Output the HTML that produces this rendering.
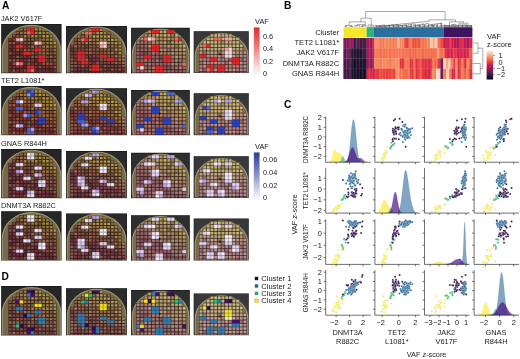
<!DOCTYPE html>
<html lang="en"><head><meta charset="utf-8"><title>Figure</title>
<style>html,body{margin:0;padding:0;background:#fff}svg{display:block}text{font-family:"Liberation Sans",Arial,sans-serif}</style>
</head><body>
<svg width="520" height="359" viewBox="0 0 520 359">
<rect width="520" height="359" fill="#fff"/>
<defs><linearGradient id="tg0_0" x1="0.95" y1="0" x2="0.25" y2="0.9"><stop offset="0" stop-color="#98843e"/><stop offset="0.3" stop-color="#98843e"/><stop offset="0.68" stop-color="#763236"/></linearGradient><linearGradient id="tg0_1" x1="0.8" y1="0" x2="0.3" y2="1"><stop offset="0" stop-color="#9e8c47"/><stop offset="0.3" stop-color="#9e8c47"/><stop offset="0.68" stop-color="#7f3f43"/></linearGradient><linearGradient id="tg0_2" x1="0.9" y1="0" x2="0.2" y2="0.9"><stop offset="0" stop-color="#b0a161"/><stop offset="0.3" stop-color="#b0a161"/><stop offset="0.68" stop-color="#986267"/></linearGradient><linearGradient id="tg0_3" x1="0.5" y1="0" x2="0.5" y2="1"><stop offset="0" stop-color="#c2b67b"/><stop offset="0.3" stop-color="#c2b67b"/><stop offset="0.68" stop-color="#b1858b"/></linearGradient><linearGradient id="tg1_0" x1="0.95" y1="0" x2="0.25" y2="0.9"><stop offset="0" stop-color="#a58832"/><stop offset="0.3" stop-color="#a58832"/><stop offset="0.68" stop-color="#803436"/></linearGradient><linearGradient id="tg1_1" x1="0.8" y1="0" x2="0.3" y2="1"><stop offset="0" stop-color="#aa8f3c"/><stop offset="0.3" stop-color="#aa8f3c"/><stop offset="0.68" stop-color="#884143"/></linearGradient><linearGradient id="tg1_2" x1="0.9" y1="0" x2="0.2" y2="0.9"><stop offset="0" stop-color="#b9a459"/><stop offset="0.3" stop-color="#b9a459"/><stop offset="0.68" stop-color="#9f6367"/></linearGradient><linearGradient id="tg1_3" x1="0.5" y1="0" x2="0.5" y2="1"><stop offset="0" stop-color="#c8b876"/><stop offset="0.3" stop-color="#c8b876"/><stop offset="0.68" stop-color="#b6868b"/></linearGradient><linearGradient id="tg2_0" x1="0.95" y1="0" x2="0.25" y2="0.9"><stop offset="0" stop-color="#988038"/><stop offset="0.3" stop-color="#988038"/><stop offset="0.68" stop-color="#743242"/></linearGradient><linearGradient id="tg2_1" x1="0.8" y1="0" x2="0.3" y2="1"><stop offset="0" stop-color="#9e8842"/><stop offset="0.3" stop-color="#9e8842"/><stop offset="0.68" stop-color="#7d3f4e"/></linearGradient><linearGradient id="tg2_2" x1="0.9" y1="0" x2="0.2" y2="0.9"><stop offset="0" stop-color="#b09e5d"/><stop offset="0.3" stop-color="#b09e5d"/><stop offset="0.68" stop-color="#976270"/></linearGradient><linearGradient id="tg2_3" x1="0.5" y1="0" x2="0.5" y2="1"><stop offset="0" stop-color="#c2b478"/><stop offset="0.3" stop-color="#c2b478"/><stop offset="0.68" stop-color="#b08591"/></linearGradient><linearGradient id="tg3_0" x1="0.95" y1="0" x2="0.25" y2="0.9"><stop offset="0" stop-color="#927a38"/><stop offset="0.3" stop-color="#927a38"/><stop offset="0.68" stop-color="#703040"/></linearGradient><linearGradient id="tg3_1" x1="0.8" y1="0" x2="0.3" y2="1"><stop offset="0" stop-color="#998242"/><stop offset="0.3" stop-color="#998242"/><stop offset="0.68" stop-color="#7a3d4c"/></linearGradient><linearGradient id="tg3_2" x1="0.9" y1="0" x2="0.2" y2="0.9"><stop offset="0" stop-color="#ac9a5d"/><stop offset="0.3" stop-color="#ac9a5d"/><stop offset="0.68" stop-color="#94616e"/></linearGradient><linearGradient id="tg3_3" x1="0.5" y1="0" x2="0.5" y2="1"><stop offset="0" stop-color="#bfb178"/><stop offset="0.3" stop-color="#bfb178"/><stop offset="0.68" stop-color="#ae8490"/></linearGradient><linearGradient id="tg4_0" x1="0.95" y1="0" x2="0.25" y2="0.9"><stop offset="0" stop-color="#a08a4e"/><stop offset="0.3" stop-color="#a08a4e"/><stop offset="0.68" stop-color="#7c4c4c"/></linearGradient><linearGradient id="tg4_1" x1="0.8" y1="0" x2="0.3" y2="1"><stop offset="0" stop-color="#a69156"/><stop offset="0.3" stop-color="#a69156"/><stop offset="0.68" stop-color="#855757"/></linearGradient><linearGradient id="tg4_2" x1="0.9" y1="0" x2="0.2" y2="0.9"><stop offset="0" stop-color="#b6a56d"/><stop offset="0.3" stop-color="#b6a56d"/><stop offset="0.68" stop-color="#9c7477"/></linearGradient><linearGradient id="tg4_3" x1="0.5" y1="0" x2="0.5" y2="1"><stop offset="0" stop-color="#c5b983"/><stop offset="0.3" stop-color="#c5b983"/><stop offset="0.68" stop-color="#b49296"/></linearGradient><linearGradient id="cap" x1="0" y1="0" x2="0" y2="1"><stop offset="0" stop-color="#746a44"/><stop offset="0.4" stop-color="#7c6a50"/><stop offset="0.65" stop-color="#9a7c72"/><stop offset="1" stop-color="#b4968e"/></linearGradient><filter id="bl" x="-5%" y="-5%" width="110%" height="110%"><feGaussianBlur stdDeviation="0.7"/></filter><linearGradient id="rim" x1="0" y1="0" x2="0" y2="1"><stop offset="0" stop-color="#9a9474"/><stop offset="0.5" stop-color="#aaa288"/><stop offset="1" stop-color="#c6beb2"/></linearGradient><clipPath id="fr0"><rect width="60.3" height="49.3"/></clipPath><clipPath id="gm0" clip-path="url(#fr0)"><rect x="18.33" y="3.74" width="22.32" height="3.46"/><rect x="14.61" y="7.18" width="33.48" height="3.46"/><rect x="10.89" y="10.62" width="40.92" height="3.46"/><rect x="7.17" y="14.06" width="44.64" height="3.46"/><rect x="7.17" y="17.5" width="48.36" height="3.46"/><rect x="7.17" y="20.94" width="48.36" height="3.46"/><rect x="7.17" y="24.38" width="48.36" height="3.46"/><rect x="7.17" y="27.82" width="48.36" height="3.46"/><rect x="7.17" y="31.26" width="48.36" height="3.46"/><rect x="7.17" y="34.7" width="48.36" height="3.46"/><rect x="7.17" y="38.14" width="48.36" height="3.46"/><rect x="7.17" y="41.58" width="48.36" height="3.46"/><rect x="7.17" y="45.02" width="48.36" height="3.46"/></clipPath><path id="gp0" d="M-0.27 -2V51.3M3.45 -2V51.3M7.17 -2V51.3M10.89 -2V51.3M14.61 -2V51.3M18.33 -2V51.3M22.05 -2V51.3M25.77 -2V51.3M29.49 -2V51.3M33.21 -2V51.3M36.93 -2V51.3M40.65 -2V51.3M44.37 -2V51.3M48.09 -2V51.3M51.81 -2V51.3M55.53 -2V51.3M59.25 -2V51.3M62.97 -2V51.3M-2 -3.14H62.3M-2 0.3H62.3M-2 3.74H62.3M-2 7.18H62.3M-2 10.62H62.3M-2 14.06H62.3M-2 17.5H62.3M-2 20.94H62.3M-2 24.38H62.3M-2 27.82H62.3M-2 31.26H62.3M-2 34.7H62.3M-2 38.14H62.3M-2 41.58H62.3M-2 45.02H62.3M-2 48.46H62.3M-2 51.9H62.3" stroke="#2a1a16" stroke-width="1.1" stroke-opacity="0.85" fill="none"/><g id="nz0"><rect x="25.77" y="3.74" width="3.72" height="3.44" fill="#c02828" fill-opacity="0.15"/><rect x="33.21" y="3.74" width="3.72" height="3.44" fill="#d8d060" fill-opacity="0.17"/><rect x="36.93" y="3.74" width="3.72" height="3.44" fill="#d8d060" fill-opacity="0.26"/><rect x="18.33" y="7.18" width="3.72" height="3.44" fill="#fff0d0" fill-opacity="0.16"/><rect x="22.05" y="7.18" width="3.72" height="3.44" fill="#fff0d0" fill-opacity="0.12"/><rect x="25.77" y="7.18" width="3.72" height="3.44" fill="#d8d060" fill-opacity="0.31"/><rect x="29.49" y="7.18" width="3.72" height="3.44" fill="#d8d060" fill-opacity="0.27"/><rect x="36.93" y="7.18" width="3.72" height="3.44" fill="#d8d060" fill-opacity="0.24"/><rect x="22.05" y="10.62" width="3.72" height="3.44" fill="#d8d060" fill-opacity="0.29"/><rect x="29.49" y="10.62" width="3.72" height="3.44" fill="#d8d060" fill-opacity="0.24"/><rect x="33.21" y="10.62" width="3.72" height="3.44" fill="#d8d060" fill-opacity="0.22"/><rect x="36.93" y="10.62" width="3.72" height="3.44" fill="#201010" fill-opacity="0.21"/><rect x="40.65" y="10.62" width="3.72" height="3.44" fill="#d8d060" fill-opacity="0.25"/><rect x="44.37" y="10.62" width="3.72" height="3.44" fill="#d8d060" fill-opacity="0.26"/><rect x="48.09" y="10.62" width="3.72" height="3.44" fill="#c02828" fill-opacity="0.12"/><rect x="22.05" y="14.06" width="3.72" height="3.44" fill="#fff0d0" fill-opacity="0.13"/><rect x="29.49" y="14.06" width="3.72" height="3.44" fill="#c02828" fill-opacity="0.09"/><rect x="33.21" y="14.06" width="3.72" height="3.44" fill="#201010" fill-opacity="0.14"/><rect x="48.09" y="14.06" width="3.72" height="3.44" fill="#fff0d0" fill-opacity="0.09"/><rect x="7.17" y="17.5" width="3.72" height="3.44" fill="#d8d060" fill-opacity="0.19"/><rect x="10.89" y="17.5" width="3.72" height="3.44" fill="#d8d060" fill-opacity="0.25"/><rect x="14.61" y="17.5" width="3.72" height="3.44" fill="#201010" fill-opacity="0.22"/><rect x="18.33" y="17.5" width="3.72" height="3.44" fill="#fff0d0" fill-opacity="0.12"/><rect x="33.21" y="17.5" width="3.72" height="3.44" fill="#201010" fill-opacity="0.23"/><rect x="48.09" y="17.5" width="3.72" height="3.44" fill="#fff0d0" fill-opacity="0.11"/><rect x="51.81" y="17.5" width="3.72" height="3.44" fill="#fff0d0" fill-opacity="0.19"/><rect x="14.61" y="20.94" width="3.72" height="3.44" fill="#d8d060" fill-opacity="0.24"/><rect x="25.77" y="20.94" width="3.72" height="3.44" fill="#c02828" fill-opacity="0.11"/><rect x="29.49" y="20.94" width="3.72" height="3.44" fill="#d8d060" fill-opacity="0.3"/><rect x="36.93" y="20.94" width="3.72" height="3.44" fill="#c02828" fill-opacity="0.09"/><rect x="40.65" y="20.94" width="3.72" height="3.44" fill="#fff0d0" fill-opacity="0.17"/><rect x="44.37" y="20.94" width="3.72" height="3.44" fill="#d8d060" fill-opacity="0.26"/><rect x="51.81" y="20.94" width="3.72" height="3.44" fill="#d8d060" fill-opacity="0.17"/><rect x="7.17" y="24.38" width="3.72" height="3.44" fill="#201010" fill-opacity="0.2"/><rect x="14.61" y="24.38" width="3.72" height="3.44" fill="#d8d060" fill-opacity="0.26"/><rect x="22.05" y="24.38" width="3.72" height="3.44" fill="#d8d060" fill-opacity="0.28"/><rect x="25.77" y="24.38" width="3.72" height="3.44" fill="#fff0d0" fill-opacity="0.1"/><rect x="40.65" y="24.38" width="3.72" height="3.44" fill="#fff0d0" fill-opacity="0.1"/><rect x="44.37" y="24.38" width="3.72" height="3.44" fill="#c02828" fill-opacity="0.21"/><rect x="48.09" y="24.38" width="3.72" height="3.44" fill="#201010" fill-opacity="0.24"/><rect x="7.17" y="27.82" width="3.72" height="3.44" fill="#d8d060" fill-opacity="0.19"/><rect x="22.05" y="27.82" width="3.72" height="3.44" fill="#d8d060" fill-opacity="0.27"/><rect x="29.49" y="27.82" width="3.72" height="3.44" fill="#d8d060" fill-opacity="0.27"/><rect x="36.93" y="27.82" width="3.72" height="3.44" fill="#d8d060" fill-opacity="0.21"/><rect x="40.65" y="27.82" width="3.72" height="3.44" fill="#d8d060" fill-opacity="0.27"/><rect x="44.37" y="27.82" width="3.72" height="3.44" fill="#fff0d0" fill-opacity="0.11"/><rect x="7.17" y="31.26" width="3.72" height="3.44" fill="#201010" fill-opacity="0.23"/><rect x="14.61" y="31.26" width="3.72" height="3.44" fill="#d8d060" fill-opacity="0.24"/><rect x="18.33" y="31.26" width="3.72" height="3.44" fill="#c02828" fill-opacity="0.11"/><rect x="25.77" y="31.26" width="3.72" height="3.44" fill="#201010" fill-opacity="0.11"/><rect x="29.49" y="31.26" width="3.72" height="3.44" fill="#d8d060" fill-opacity="0.26"/><rect x="33.21" y="31.26" width="3.72" height="3.44" fill="#d8d060" fill-opacity="0.17"/><rect x="36.93" y="31.26" width="3.72" height="3.44" fill="#d8d060" fill-opacity="0.18"/><rect x="40.65" y="31.26" width="3.72" height="3.44" fill="#c02828" fill-opacity="0.18"/><rect x="48.09" y="31.26" width="3.72" height="3.44" fill="#fff0d0" fill-opacity="0.1"/><rect x="51.81" y="31.26" width="3.72" height="3.44" fill="#201010" fill-opacity="0.13"/><rect x="7.17" y="34.7" width="3.72" height="3.44" fill="#d8d060" fill-opacity="0.21"/><rect x="10.89" y="34.7" width="3.72" height="3.44" fill="#d8d060" fill-opacity="0.21"/><rect x="14.61" y="34.7" width="3.72" height="3.44" fill="#fff0d0" fill-opacity="0.19"/><rect x="25.77" y="34.7" width="3.72" height="3.44" fill="#d8d060" fill-opacity="0.2"/><rect x="29.49" y="34.7" width="3.72" height="3.44" fill="#fff0d0" fill-opacity="0.1"/><rect x="33.21" y="34.7" width="3.72" height="3.44" fill="#201010" fill-opacity="0.15"/><rect x="36.93" y="34.7" width="3.72" height="3.44" fill="#201010" fill-opacity="0.15"/><rect x="40.65" y="34.7" width="3.72" height="3.44" fill="#fff0d0" fill-opacity="0.16"/><rect x="48.09" y="34.7" width="3.72" height="3.44" fill="#c02828" fill-opacity="0.08"/><rect x="51.81" y="34.7" width="3.72" height="3.44" fill="#fff0d0" fill-opacity="0.09"/><rect x="7.17" y="38.14" width="3.72" height="3.44" fill="#201010" fill-opacity="0.27"/><rect x="10.89" y="38.14" width="3.72" height="3.44" fill="#fff0d0" fill-opacity="0.17"/><rect x="14.61" y="38.14" width="3.72" height="3.44" fill="#201010" fill-opacity="0.13"/><rect x="22.05" y="38.14" width="3.72" height="3.44" fill="#201010" fill-opacity="0.22"/><rect x="25.77" y="38.14" width="3.72" height="3.44" fill="#fff0d0" fill-opacity="0.14"/><rect x="33.21" y="38.14" width="3.72" height="3.44" fill="#c02828" fill-opacity="0.24"/><rect x="40.65" y="38.14" width="3.72" height="3.44" fill="#d8d060" fill-opacity="0.24"/><rect x="44.37" y="38.14" width="3.72" height="3.44" fill="#d8d060" fill-opacity="0.22"/><rect x="48.09" y="38.14" width="3.72" height="3.44" fill="#fff0d0" fill-opacity="0.15"/><rect x="51.81" y="38.14" width="3.72" height="3.44" fill="#c02828" fill-opacity="0.13"/><rect x="22.05" y="41.58" width="3.72" height="3.44" fill="#201010" fill-opacity="0.26"/><rect x="25.77" y="41.58" width="3.72" height="3.44" fill="#fff0d0" fill-opacity="0.1"/><rect x="33.21" y="41.58" width="3.72" height="3.44" fill="#c02828" fill-opacity="0.11"/><rect x="36.93" y="41.58" width="3.72" height="3.44" fill="#fff0d0" fill-opacity="0.15"/><rect x="51.81" y="41.58" width="3.72" height="3.44" fill="#fff0d0" fill-opacity="0.16"/><rect x="10.89" y="45.02" width="3.72" height="3.44" fill="#fff0d0" fill-opacity="0.2"/><rect x="14.61" y="45.02" width="3.72" height="3.44" fill="#c02828" fill-opacity="0.23"/><rect x="18.33" y="45.02" width="3.72" height="3.44" fill="#c02828" fill-opacity="0.1"/><rect x="22.05" y="45.02" width="3.72" height="3.44" fill="#d8d060" fill-opacity="0.17"/><rect x="25.77" y="45.02" width="3.72" height="3.44" fill="#c02828" fill-opacity="0.2"/><rect x="33.21" y="45.02" width="3.72" height="3.44" fill="#201010" fill-opacity="0.17"/><rect x="48.09" y="45.02" width="3.72" height="3.44" fill="#201010" fill-opacity="0.24"/><rect x="51.81" y="45.02" width="3.72" height="3.44" fill="#c02828" fill-opacity="0.29"/></g><clipPath id="fr1"><rect width="60.95" height="47.1"/></clipPath><clipPath id="gm1" clip-path="url(#fr1)"><rect x="22.42" y="2.2" width="14.72" height="3.32"/><rect x="15.06" y="5.5" width="29.44" height="3.32"/><rect x="11.38" y="8.8" width="36.8" height="3.32"/><rect x="7.7" y="12.1" width="44.16" height="3.32"/><rect x="7.7" y="15.4" width="47.84" height="3.32"/><rect x="4.02" y="18.7" width="51.52" height="3.32"/><rect x="4.02" y="22" width="51.52" height="3.32"/><rect x="4.02" y="25.3" width="51.52" height="3.32"/><rect x="4.02" y="28.6" width="55.2" height="3.32"/><rect x="4.02" y="31.9" width="55.2" height="3.32"/><rect x="4.02" y="35.2" width="55.2" height="3.32"/><rect x="4.02" y="38.5" width="55.2" height="3.32"/><rect x="4.02" y="41.8" width="55.2" height="3.32"/><rect x="4.02" y="45.1" width="55.2" height="3.32"/></clipPath><path id="gp1" d="M-3.34 -2V49.1M0.34 -2V49.1M4.02 -2V49.1M7.7 -2V49.1M11.38 -2V49.1M15.06 -2V49.1M18.74 -2V49.1M22.42 -2V49.1M26.1 -2V49.1M29.78 -2V49.1M33.46 -2V49.1M37.14 -2V49.1M40.82 -2V49.1M44.5 -2V49.1M48.18 -2V49.1M51.86 -2V49.1M55.54 -2V49.1M59.22 -2V49.1M62.9 -2V49.1M-2 -1.1H62.95M-2 2.2H62.95M-2 5.5H62.95M-2 8.8H62.95M-2 12.1H62.95M-2 15.4H62.95M-2 18.7H62.95M-2 22H62.95M-2 25.3H62.95M-2 28.6H62.95M-2 31.9H62.95M-2 35.2H62.95M-2 38.5H62.95M-2 41.8H62.95M-2 45.1H62.95M-2 48.4H62.95" stroke="#2a1a16" stroke-width="1.05" stroke-opacity="0.85" fill="none"/><g id="nz1"><rect x="22.42" y="2.2" width="3.68" height="3.3" fill="#c02828" fill-opacity="0.13"/><rect x="26.1" y="2.2" width="3.68" height="3.3" fill="#fff0d0" fill-opacity="0.16"/><rect x="18.74" y="5.5" width="3.68" height="3.3" fill="#fff0d0" fill-opacity="0.09"/><rect x="26.1" y="5.5" width="3.68" height="3.3" fill="#201010" fill-opacity="0.27"/><rect x="29.78" y="5.5" width="3.68" height="3.3" fill="#d8d060" fill-opacity="0.19"/><rect x="33.46" y="5.5" width="3.68" height="3.3" fill="#fff0d0" fill-opacity="0.16"/><rect x="37.14" y="5.5" width="3.68" height="3.3" fill="#c02828" fill-opacity="0.08"/><rect x="40.82" y="5.5" width="3.68" height="3.3" fill="#201010" fill-opacity="0.25"/><rect x="15.06" y="8.8" width="3.68" height="3.3" fill="#201010" fill-opacity="0.18"/><rect x="22.42" y="8.8" width="3.68" height="3.3" fill="#c02828" fill-opacity="0.11"/><rect x="26.1" y="8.8" width="3.68" height="3.3" fill="#d8d060" fill-opacity="0.29"/><rect x="29.78" y="8.8" width="3.68" height="3.3" fill="#fff0d0" fill-opacity="0.17"/><rect x="37.14" y="8.8" width="3.68" height="3.3" fill="#d8d060" fill-opacity="0.31"/><rect x="40.82" y="8.8" width="3.68" height="3.3" fill="#d8d060" fill-opacity="0.34"/><rect x="44.5" y="8.8" width="3.68" height="3.3" fill="#201010" fill-opacity="0.15"/><rect x="7.7" y="12.1" width="3.68" height="3.3" fill="#201010" fill-opacity="0.18"/><rect x="15.06" y="12.1" width="3.68" height="3.3" fill="#201010" fill-opacity="0.23"/><rect x="18.74" y="12.1" width="3.68" height="3.3" fill="#d8d060" fill-opacity="0.23"/><rect x="22.42" y="12.1" width="3.68" height="3.3" fill="#d8d060" fill-opacity="0.26"/><rect x="26.1" y="12.1" width="3.68" height="3.3" fill="#c02828" fill-opacity="0.14"/><rect x="40.82" y="12.1" width="3.68" height="3.3" fill="#c02828" fill-opacity="0.17"/><rect x="44.5" y="12.1" width="3.68" height="3.3" fill="#fff0d0" fill-opacity="0.22"/><rect x="7.7" y="15.4" width="3.68" height="3.3" fill="#c02828" fill-opacity="0.15"/><rect x="15.06" y="15.4" width="3.68" height="3.3" fill="#c02828" fill-opacity="0.13"/><rect x="18.74" y="15.4" width="3.68" height="3.3" fill="#d8d060" fill-opacity="0.19"/><rect x="29.78" y="15.4" width="3.68" height="3.3" fill="#d8d060" fill-opacity="0.29"/><rect x="33.46" y="15.4" width="3.68" height="3.3" fill="#c02828" fill-opacity="0.09"/><rect x="37.14" y="15.4" width="3.68" height="3.3" fill="#fff0d0" fill-opacity="0.16"/><rect x="48.18" y="15.4" width="3.68" height="3.3" fill="#fff0d0" fill-opacity="0.14"/><rect x="51.86" y="15.4" width="3.68" height="3.3" fill="#c02828" fill-opacity="0.19"/><rect x="7.7" y="18.7" width="3.68" height="3.3" fill="#fff0d0" fill-opacity="0.22"/><rect x="18.74" y="18.7" width="3.68" height="3.3" fill="#201010" fill-opacity="0.27"/><rect x="26.1" y="18.7" width="3.68" height="3.3" fill="#c02828" fill-opacity="0.17"/><rect x="29.78" y="18.7" width="3.68" height="3.3" fill="#201010" fill-opacity="0.19"/><rect x="33.46" y="18.7" width="3.68" height="3.3" fill="#201010" fill-opacity="0.17"/><rect x="37.14" y="18.7" width="3.68" height="3.3" fill="#d8d060" fill-opacity="0.3"/><rect x="40.82" y="18.7" width="3.68" height="3.3" fill="#201010" fill-opacity="0.24"/><rect x="44.5" y="18.7" width="3.68" height="3.3" fill="#c02828" fill-opacity="0.18"/><rect x="48.18" y="18.7" width="3.68" height="3.3" fill="#201010" fill-opacity="0.17"/><rect x="4.02" y="22" width="3.68" height="3.3" fill="#201010" fill-opacity="0.25"/><rect x="11.38" y="22" width="3.68" height="3.3" fill="#c02828" fill-opacity="0.16"/><rect x="15.06" y="22" width="3.68" height="3.3" fill="#c02828" fill-opacity="0.12"/><rect x="18.74" y="22" width="3.68" height="3.3" fill="#c02828" fill-opacity="0.2"/><rect x="22.42" y="22" width="3.68" height="3.3" fill="#d8d060" fill-opacity="0.18"/><rect x="26.1" y="22" width="3.68" height="3.3" fill="#c02828" fill-opacity="0.2"/><rect x="33.46" y="22" width="3.68" height="3.3" fill="#c02828" fill-opacity="0.2"/><rect x="37.14" y="22" width="3.68" height="3.3" fill="#c02828" fill-opacity="0.17"/><rect x="40.82" y="22" width="3.68" height="3.3" fill="#201010" fill-opacity="0.12"/><rect x="44.5" y="22" width="3.68" height="3.3" fill="#201010" fill-opacity="0.2"/><rect x="48.18" y="22" width="3.68" height="3.3" fill="#fff0d0" fill-opacity="0.21"/><rect x="4.02" y="25.3" width="3.68" height="3.3" fill="#201010" fill-opacity="0.1"/><rect x="15.06" y="25.3" width="3.68" height="3.3" fill="#c02828" fill-opacity="0.19"/><rect x="18.74" y="25.3" width="3.68" height="3.3" fill="#d8d060" fill-opacity="0.17"/><rect x="22.42" y="25.3" width="3.68" height="3.3" fill="#d8d060" fill-opacity="0.2"/><rect x="44.5" y="25.3" width="3.68" height="3.3" fill="#fff0d0" fill-opacity="0.08"/><rect x="48.18" y="25.3" width="3.68" height="3.3" fill="#201010" fill-opacity="0.19"/><rect x="51.86" y="25.3" width="3.68" height="3.3" fill="#d8d060" fill-opacity="0.21"/><rect x="22.42" y="28.6" width="3.68" height="3.3" fill="#c02828" fill-opacity="0.2"/><rect x="33.46" y="28.6" width="3.68" height="3.3" fill="#d8d060" fill-opacity="0.27"/><rect x="37.14" y="28.6" width="3.68" height="3.3" fill="#201010" fill-opacity="0.12"/><rect x="44.5" y="28.6" width="3.68" height="3.3" fill="#201010" fill-opacity="0.1"/><rect x="48.18" y="28.6" width="3.68" height="3.3" fill="#d8d060" fill-opacity="0.24"/><rect x="55.54" y="28.6" width="3.68" height="3.3" fill="#fff0d0" fill-opacity="0.22"/><rect x="4.02" y="31.9" width="3.68" height="3.3" fill="#fff0d0" fill-opacity="0.17"/><rect x="11.38" y="31.9" width="3.68" height="3.3" fill="#201010" fill-opacity="0.14"/><rect x="18.74" y="31.9" width="3.68" height="3.3" fill="#d8d060" fill-opacity="0.25"/><rect x="22.42" y="31.9" width="3.68" height="3.3" fill="#201010" fill-opacity="0.21"/><rect x="33.46" y="31.9" width="3.68" height="3.3" fill="#d8d060" fill-opacity="0.19"/><rect x="37.14" y="31.9" width="3.68" height="3.3" fill="#fff0d0" fill-opacity="0.09"/><rect x="40.82" y="31.9" width="3.68" height="3.3" fill="#d8d060" fill-opacity="0.2"/><rect x="48.18" y="31.9" width="3.68" height="3.3" fill="#c02828" fill-opacity="0.1"/><rect x="51.86" y="31.9" width="3.68" height="3.3" fill="#d8d060" fill-opacity="0.24"/><rect x="55.54" y="31.9" width="3.68" height="3.3" fill="#fff0d0" fill-opacity="0.18"/><rect x="4.02" y="35.2" width="3.68" height="3.3" fill="#d8d060" fill-opacity="0.18"/><rect x="7.7" y="35.2" width="3.68" height="3.3" fill="#d8d060" fill-opacity="0.18"/><rect x="26.1" y="35.2" width="3.68" height="3.3" fill="#201010" fill-opacity="0.19"/><rect x="29.78" y="35.2" width="3.68" height="3.3" fill="#fff0d0" fill-opacity="0.12"/><rect x="40.82" y="35.2" width="3.68" height="3.3" fill="#c02828" fill-opacity="0.21"/><rect x="48.18" y="35.2" width="3.68" height="3.3" fill="#d8d060" fill-opacity="0.19"/><rect x="55.54" y="35.2" width="3.68" height="3.3" fill="#fff0d0" fill-opacity="0.18"/><rect x="4.02" y="38.5" width="3.68" height="3.3" fill="#d8d060" fill-opacity="0.21"/><rect x="7.7" y="38.5" width="3.68" height="3.3" fill="#fff0d0" fill-opacity="0.1"/><rect x="11.38" y="38.5" width="3.68" height="3.3" fill="#c02828" fill-opacity="0.21"/><rect x="15.06" y="38.5" width="3.68" height="3.3" fill="#fff0d0" fill-opacity="0.2"/><rect x="26.1" y="38.5" width="3.68" height="3.3" fill="#d8d060" fill-opacity="0.19"/><rect x="29.78" y="38.5" width="3.68" height="3.3" fill="#c02828" fill-opacity="0.23"/><rect x="33.46" y="38.5" width="3.68" height="3.3" fill="#201010" fill-opacity="0.18"/><rect x="37.14" y="38.5" width="3.68" height="3.3" fill="#fff0d0" fill-opacity="0.14"/><rect x="40.82" y="38.5" width="3.68" height="3.3" fill="#c02828" fill-opacity="0.27"/><rect x="48.18" y="38.5" width="3.68" height="3.3" fill="#201010" fill-opacity="0.13"/><rect x="51.86" y="38.5" width="3.68" height="3.3" fill="#c02828" fill-opacity="0.27"/><rect x="55.54" y="38.5" width="3.68" height="3.3" fill="#fff0d0" fill-opacity="0.15"/><rect x="4.02" y="41.8" width="3.68" height="3.3" fill="#fff0d0" fill-opacity="0.19"/><rect x="11.38" y="41.8" width="3.68" height="3.3" fill="#201010" fill-opacity="0.16"/><rect x="22.42" y="41.8" width="3.68" height="3.3" fill="#fff0d0" fill-opacity="0.16"/><rect x="26.1" y="41.8" width="3.68" height="3.3" fill="#fff0d0" fill-opacity="0.14"/><rect x="29.78" y="41.8" width="3.68" height="3.3" fill="#201010" fill-opacity="0.15"/><rect x="33.46" y="41.8" width="3.68" height="3.3" fill="#d8d060" fill-opacity="0.2"/><rect x="40.82" y="41.8" width="3.68" height="3.3" fill="#201010" fill-opacity="0.16"/><rect x="44.5" y="41.8" width="3.68" height="3.3" fill="#d8d060" fill-opacity="0.18"/><rect x="51.86" y="41.8" width="3.68" height="3.3" fill="#d8d060" fill-opacity="0.2"/><rect x="55.54" y="41.8" width="3.68" height="3.3" fill="#c02828" fill-opacity="0.12"/><rect x="4.02" y="45.1" width="3.68" height="3.3" fill="#fff0d0" fill-opacity="0.14"/><rect x="11.38" y="45.1" width="3.68" height="3.3" fill="#201010" fill-opacity="0.1"/><rect x="15.06" y="45.1" width="3.68" height="3.3" fill="#d8d060" fill-opacity="0.18"/><rect x="18.74" y="45.1" width="3.68" height="3.3" fill="#c02828" fill-opacity="0.29"/><rect x="33.46" y="45.1" width="3.68" height="3.3" fill="#fff0d0" fill-opacity="0.11"/><rect x="37.14" y="45.1" width="3.68" height="3.3" fill="#fff0d0" fill-opacity="0.16"/><rect x="40.82" y="45.1" width="3.68" height="3.3" fill="#d8d060" fill-opacity="0.2"/><rect x="51.86" y="45.1" width="3.68" height="3.3" fill="#201010" fill-opacity="0.2"/><rect x="55.54" y="45.1" width="3.68" height="3.3" fill="#d8d060" fill-opacity="0.19"/></g><clipPath id="fr2"><rect width="58.7" height="45.3"/></clipPath><clipPath id="gm2" clip-path="url(#fr2)"><rect x="16.61" y="2.15" width="26.88" height="3.62"/><rect x="12.77" y="5.75" width="34.56" height="3.62"/><rect x="8.93" y="9.35" width="42.24" height="3.62"/><rect x="5.09" y="12.95" width="46.08" height="3.62"/><rect x="5.09" y="16.55" width="49.92" height="3.62"/><rect x="5.09" y="20.15" width="49.92" height="3.62"/><rect x="5.09" y="23.75" width="49.92" height="3.62"/><rect x="5.09" y="27.35" width="49.92" height="3.62"/><rect x="5.09" y="30.95" width="49.92" height="3.62"/><rect x="5.09" y="34.55" width="49.92" height="3.62"/><rect x="5.09" y="38.15" width="49.92" height="3.62"/><rect x="5.09" y="41.75" width="49.92" height="3.62"/></clipPath><path id="gp2" d="M-2.59 -2V47.3M1.25 -2V47.3M5.09 -2V47.3M8.93 -2V47.3M12.77 -2V47.3M16.61 -2V47.3M20.45 -2V47.3M24.29 -2V47.3M28.13 -2V47.3M31.97 -2V47.3M35.81 -2V47.3M39.65 -2V47.3M43.49 -2V47.3M47.33 -2V47.3M51.17 -2V47.3M55.01 -2V47.3M58.85 -2V47.3M-2 -1.45H60.7M-2 2.15H60.7M-2 5.75H60.7M-2 9.35H60.7M-2 12.95H60.7M-2 16.55H60.7M-2 20.15H60.7M-2 23.75H60.7M-2 27.35H60.7M-2 30.95H60.7M-2 34.55H60.7M-2 38.15H60.7M-2 41.75H60.7M-2 45.35H60.7" stroke="#2a1a16" stroke-width="0.9" stroke-opacity="0.85" fill="none"/><g id="nz2"><rect x="24.29" y="2.15" width="3.84" height="3.6" fill="#fff0d0" fill-opacity="0.11"/><rect x="31.97" y="2.15" width="3.84" height="3.6" fill="#d8d060" fill-opacity="0.28"/><rect x="35.81" y="2.15" width="3.84" height="3.6" fill="#201010" fill-opacity="0.23"/><rect x="39.65" y="2.15" width="3.84" height="3.6" fill="#fff0d0" fill-opacity="0.12"/><rect x="24.29" y="5.75" width="3.84" height="3.6" fill="#fff0d0" fill-opacity="0.16"/><rect x="31.97" y="5.75" width="3.84" height="3.6" fill="#fff0d0" fill-opacity="0.21"/><rect x="39.65" y="5.75" width="3.84" height="3.6" fill="#201010" fill-opacity="0.2"/><rect x="43.49" y="5.75" width="3.84" height="3.6" fill="#fff0d0" fill-opacity="0.2"/><rect x="8.93" y="9.35" width="3.84" height="3.6" fill="#fff0d0" fill-opacity="0.17"/><rect x="16.61" y="9.35" width="3.84" height="3.6" fill="#c02828" fill-opacity="0.08"/><rect x="39.65" y="9.35" width="3.84" height="3.6" fill="#201010" fill-opacity="0.19"/><rect x="43.49" y="9.35" width="3.84" height="3.6" fill="#201010" fill-opacity="0.22"/><rect x="5.09" y="12.95" width="3.84" height="3.6" fill="#fff0d0" fill-opacity="0.13"/><rect x="12.77" y="12.95" width="3.84" height="3.6" fill="#c02828" fill-opacity="0.05"/><rect x="16.61" y="12.95" width="3.84" height="3.6" fill="#c02828" fill-opacity="0.09"/><rect x="20.45" y="12.95" width="3.84" height="3.6" fill="#d8d060" fill-opacity="0.33"/><rect x="31.97" y="12.95" width="3.84" height="3.6" fill="#d8d060" fill-opacity="0.34"/><rect x="35.81" y="12.95" width="3.84" height="3.6" fill="#201010" fill-opacity="0.27"/><rect x="47.33" y="12.95" width="3.84" height="3.6" fill="#d8d060" fill-opacity="0.17"/><rect x="5.09" y="16.55" width="3.84" height="3.6" fill="#c02828" fill-opacity="0.06"/><rect x="16.61" y="16.55" width="3.84" height="3.6" fill="#fff0d0" fill-opacity="0.2"/><rect x="24.29" y="16.55" width="3.84" height="3.6" fill="#201010" fill-opacity="0.2"/><rect x="35.81" y="16.55" width="3.84" height="3.6" fill="#fff0d0" fill-opacity="0.12"/><rect x="43.49" y="16.55" width="3.84" height="3.6" fill="#201010" fill-opacity="0.16"/><rect x="51.17" y="16.55" width="3.84" height="3.6" fill="#fff0d0" fill-opacity="0.2"/><rect x="8.93" y="20.15" width="3.84" height="3.6" fill="#c02828" fill-opacity="0.07"/><rect x="20.45" y="20.15" width="3.84" height="3.6" fill="#c02828" fill-opacity="0.11"/><rect x="28.13" y="20.15" width="3.84" height="3.6" fill="#d8d060" fill-opacity="0.28"/><rect x="31.97" y="20.15" width="3.84" height="3.6" fill="#fff0d0" fill-opacity="0.14"/><rect x="35.81" y="20.15" width="3.84" height="3.6" fill="#201010" fill-opacity="0.17"/><rect x="39.65" y="20.15" width="3.84" height="3.6" fill="#c02828" fill-opacity="0.05"/><rect x="51.17" y="20.15" width="3.84" height="3.6" fill="#d8d060" fill-opacity="0.22"/><rect x="8.93" y="23.75" width="3.84" height="3.6" fill="#201010" fill-opacity="0.16"/><rect x="12.77" y="23.75" width="3.84" height="3.6" fill="#201010" fill-opacity="0.22"/><rect x="16.61" y="23.75" width="3.84" height="3.6" fill="#c02828" fill-opacity="0.09"/><rect x="20.45" y="23.75" width="3.84" height="3.6" fill="#d8d060" fill-opacity="0.19"/><rect x="28.13" y="23.75" width="3.84" height="3.6" fill="#d8d060" fill-opacity="0.2"/><rect x="39.65" y="23.75" width="3.84" height="3.6" fill="#d8d060" fill-opacity="0.22"/><rect x="16.61" y="27.35" width="3.84" height="3.6" fill="#d8d060" fill-opacity="0.25"/><rect x="28.13" y="27.35" width="3.84" height="3.6" fill="#201010" fill-opacity="0.27"/><rect x="43.49" y="27.35" width="3.84" height="3.6" fill="#fff0d0" fill-opacity="0.22"/><rect x="12.77" y="30.95" width="3.84" height="3.6" fill="#d8d060" fill-opacity="0.25"/><rect x="20.45" y="30.95" width="3.84" height="3.6" fill="#c02828" fill-opacity="0.06"/><rect x="24.29" y="30.95" width="3.84" height="3.6" fill="#fff0d0" fill-opacity="0.12"/><rect x="28.13" y="30.95" width="3.84" height="3.6" fill="#201010" fill-opacity="0.12"/><rect x="35.81" y="30.95" width="3.84" height="3.6" fill="#201010" fill-opacity="0.25"/><rect x="43.49" y="30.95" width="3.84" height="3.6" fill="#fff0d0" fill-opacity="0.14"/><rect x="47.33" y="30.95" width="3.84" height="3.6" fill="#c02828" fill-opacity="0.11"/><rect x="51.17" y="30.95" width="3.84" height="3.6" fill="#c02828" fill-opacity="0.06"/><rect x="5.09" y="34.55" width="3.84" height="3.6" fill="#fff0d0" fill-opacity="0.22"/><rect x="8.93" y="34.55" width="3.84" height="3.6" fill="#fff0d0" fill-opacity="0.16"/><rect x="16.61" y="34.55" width="3.84" height="3.6" fill="#d8d060" fill-opacity="0.19"/><rect x="31.97" y="34.55" width="3.84" height="3.6" fill="#c02828" fill-opacity="0.07"/><rect x="39.65" y="34.55" width="3.84" height="3.6" fill="#fff0d0" fill-opacity="0.19"/><rect x="43.49" y="34.55" width="3.84" height="3.6" fill="#d8d060" fill-opacity="0.18"/><rect x="5.09" y="38.15" width="3.84" height="3.6" fill="#fff0d0" fill-opacity="0.21"/><rect x="20.45" y="38.15" width="3.84" height="3.6" fill="#d8d060" fill-opacity="0.22"/><rect x="24.29" y="38.15" width="3.84" height="3.6" fill="#d8d060" fill-opacity="0.2"/><rect x="28.13" y="38.15" width="3.84" height="3.6" fill="#d8d060" fill-opacity="0.23"/><rect x="31.97" y="38.15" width="3.84" height="3.6" fill="#201010" fill-opacity="0.15"/><rect x="35.81" y="38.15" width="3.84" height="3.6" fill="#201010" fill-opacity="0.15"/><rect x="43.49" y="38.15" width="3.84" height="3.6" fill="#fff0d0" fill-opacity="0.1"/><rect x="47.33" y="38.15" width="3.84" height="3.6" fill="#fff0d0" fill-opacity="0.21"/><rect x="16.61" y="41.75" width="3.84" height="3.6" fill="#d8d060" fill-opacity="0.17"/><rect x="24.29" y="41.75" width="3.84" height="3.6" fill="#d8d060" fill-opacity="0.17"/><rect x="28.13" y="41.75" width="3.84" height="3.6" fill="#c02828" fill-opacity="0.08"/><rect x="43.49" y="41.75" width="3.84" height="3.6" fill="#201010" fill-opacity="0.17"/><rect x="47.33" y="41.75" width="3.84" height="3.6" fill="#c02828" fill-opacity="0.13"/></g><clipPath id="fr3"><rect width="55.05" height="41.9"/></clipPath><clipPath id="gm3" clip-path="url(#fr3)"><rect x="16.44" y="2.6" width="21.96" height="3.45"/><rect x="12.78" y="6.03" width="32.94" height="3.45"/><rect x="9.12" y="9.46" width="36.6" height="3.45"/><rect x="5.46" y="12.89" width="43.92" height="3.45"/><rect x="5.46" y="16.32" width="43.92" height="3.45"/><rect x="5.46" y="19.75" width="47.58" height="3.45"/><rect x="5.46" y="23.18" width="47.58" height="3.45"/><rect x="5.46" y="26.61" width="47.58" height="3.45"/><rect x="5.46" y="30.04" width="47.58" height="3.45"/><rect x="5.46" y="33.47" width="47.58" height="3.45"/><rect x="5.46" y="36.9" width="47.58" height="3.45"/><rect x="5.46" y="40.33" width="47.58" height="3.45"/></clipPath><path id="gp3" d="M-1.86 -2V43.9M1.8 -2V43.9M5.46 -2V43.9M9.12 -2V43.9M12.78 -2V43.9M16.44 -2V43.9M20.1 -2V43.9M23.76 -2V43.9M27.42 -2V43.9M31.08 -2V43.9M34.74 -2V43.9M38.4 -2V43.9M42.06 -2V43.9M45.72 -2V43.9M49.38 -2V43.9M53.04 -2V43.9M56.7 -2V43.9M-2 -0.83H57.05M-2 2.6H57.05M-2 6.03H57.05M-2 9.46H57.05M-2 12.89H57.05M-2 16.32H57.05M-2 19.75H57.05M-2 23.18H57.05M-2 26.61H57.05M-2 30.04H57.05M-2 33.47H57.05M-2 36.9H57.05M-2 40.33H57.05M-2 43.76H57.05" stroke="#2a1a16" stroke-width="0.8" stroke-opacity="0.85" fill="none"/><g id="nz3"><rect x="16.44" y="2.6" width="3.66" height="3.43" fill="#c02828" fill-opacity="0.05"/><rect x="20.1" y="2.6" width="3.66" height="3.43" fill="#d8d060" fill-opacity="0.24"/><rect x="23.76" y="2.6" width="3.66" height="3.43" fill="#fff0d0" fill-opacity="0.18"/><rect x="27.42" y="2.6" width="3.66" height="3.43" fill="#c02828" fill-opacity="0.06"/><rect x="20.1" y="6.03" width="3.66" height="3.43" fill="#fff0d0" fill-opacity="0.13"/><rect x="38.4" y="6.03" width="3.66" height="3.43" fill="#c02828" fill-opacity="0.07"/><rect x="12.78" y="9.46" width="3.66" height="3.43" fill="#fff0d0" fill-opacity="0.17"/><rect x="23.76" y="9.46" width="3.66" height="3.43" fill="#201010" fill-opacity="0.13"/><rect x="27.42" y="9.46" width="3.66" height="3.43" fill="#201010" fill-opacity="0.22"/><rect x="34.74" y="9.46" width="3.66" height="3.43" fill="#c02828" fill-opacity="0.06"/><rect x="42.06" y="9.46" width="3.66" height="3.43" fill="#d8d060" fill-opacity="0.2"/><rect x="5.46" y="12.89" width="3.66" height="3.43" fill="#201010" fill-opacity="0.15"/><rect x="9.12" y="12.89" width="3.66" height="3.43" fill="#fff0d0" fill-opacity="0.12"/><rect x="23.76" y="12.89" width="3.66" height="3.43" fill="#c02828" fill-opacity="0.07"/><rect x="31.08" y="12.89" width="3.66" height="3.43" fill="#d8d060" fill-opacity="0.28"/><rect x="42.06" y="12.89" width="3.66" height="3.43" fill="#d8d060" fill-opacity="0.26"/><rect x="45.72" y="12.89" width="3.66" height="3.43" fill="#fff0d0" fill-opacity="0.19"/><rect x="20.1" y="16.32" width="3.66" height="3.43" fill="#d8d060" fill-opacity="0.18"/><rect x="34.74" y="16.32" width="3.66" height="3.43" fill="#fff0d0" fill-opacity="0.18"/><rect x="38.4" y="16.32" width="3.66" height="3.43" fill="#c02828" fill-opacity="0.05"/><rect x="45.72" y="16.32" width="3.66" height="3.43" fill="#c02828" fill-opacity="0.1"/><rect x="9.12" y="19.75" width="3.66" height="3.43" fill="#201010" fill-opacity="0.21"/><rect x="16.44" y="19.75" width="3.66" height="3.43" fill="#fff0d0" fill-opacity="0.17"/><rect x="20.1" y="19.75" width="3.66" height="3.43" fill="#d8d060" fill-opacity="0.18"/><rect x="23.76" y="19.75" width="3.66" height="3.43" fill="#201010" fill-opacity="0.22"/><rect x="34.74" y="19.75" width="3.66" height="3.43" fill="#fff0d0" fill-opacity="0.15"/><rect x="38.4" y="19.75" width="3.66" height="3.43" fill="#fff0d0" fill-opacity="0.19"/><rect x="5.46" y="23.18" width="3.66" height="3.43" fill="#201010" fill-opacity="0.19"/><rect x="23.76" y="23.18" width="3.66" height="3.43" fill="#d8d060" fill-opacity="0.23"/><rect x="27.42" y="23.18" width="3.66" height="3.43" fill="#201010" fill-opacity="0.13"/><rect x="38.4" y="23.18" width="3.66" height="3.43" fill="#fff0d0" fill-opacity="0.16"/><rect x="42.06" y="23.18" width="3.66" height="3.43" fill="#201010" fill-opacity="0.12"/><rect x="49.38" y="23.18" width="3.66" height="3.43" fill="#c02828" fill-opacity="0.07"/><rect x="12.78" y="26.61" width="3.66" height="3.43" fill="#c02828" fill-opacity="0.11"/><rect x="16.44" y="26.61" width="3.66" height="3.43" fill="#c02828" fill-opacity="0.13"/><rect x="20.1" y="26.61" width="3.66" height="3.43" fill="#fff0d0" fill-opacity="0.18"/><rect x="27.42" y="26.61" width="3.66" height="3.43" fill="#201010" fill-opacity="0.1"/><rect x="31.08" y="26.61" width="3.66" height="3.43" fill="#fff0d0" fill-opacity="0.09"/><rect x="34.74" y="26.61" width="3.66" height="3.43" fill="#201010" fill-opacity="0.2"/><rect x="45.72" y="26.61" width="3.66" height="3.43" fill="#201010" fill-opacity="0.22"/><rect x="5.46" y="30.04" width="3.66" height="3.43" fill="#201010" fill-opacity="0.17"/><rect x="9.12" y="30.04" width="3.66" height="3.43" fill="#fff0d0" fill-opacity="0.14"/><rect x="20.1" y="30.04" width="3.66" height="3.43" fill="#d8d060" fill-opacity="0.2"/><rect x="27.42" y="30.04" width="3.66" height="3.43" fill="#c02828" fill-opacity="0.06"/><rect x="31.08" y="30.04" width="3.66" height="3.43" fill="#201010" fill-opacity="0.17"/><rect x="34.74" y="30.04" width="3.66" height="3.43" fill="#fff0d0" fill-opacity="0.19"/><rect x="38.4" y="30.04" width="3.66" height="3.43" fill="#d8d060" fill-opacity="0.19"/><rect x="45.72" y="30.04" width="3.66" height="3.43" fill="#d8d060" fill-opacity="0.23"/><rect x="49.38" y="30.04" width="3.66" height="3.43" fill="#c02828" fill-opacity="0.09"/><rect x="5.46" y="33.47" width="3.66" height="3.43" fill="#c02828" fill-opacity="0.07"/><rect x="9.12" y="33.47" width="3.66" height="3.43" fill="#d8d060" fill-opacity="0.24"/><rect x="20.1" y="33.47" width="3.66" height="3.43" fill="#201010" fill-opacity="0.28"/><rect x="23.76" y="33.47" width="3.66" height="3.43" fill="#d8d060" fill-opacity="0.17"/><rect x="27.42" y="33.47" width="3.66" height="3.43" fill="#201010" fill-opacity="0.28"/><rect x="31.08" y="33.47" width="3.66" height="3.43" fill="#c02828" fill-opacity="0.12"/><rect x="38.4" y="33.47" width="3.66" height="3.43" fill="#c02828" fill-opacity="0.09"/><rect x="42.06" y="33.47" width="3.66" height="3.43" fill="#c02828" fill-opacity="0.06"/><rect x="49.38" y="33.47" width="3.66" height="3.43" fill="#fff0d0" fill-opacity="0.14"/><rect x="9.12" y="36.9" width="3.66" height="3.43" fill="#201010" fill-opacity="0.27"/><rect x="12.78" y="36.9" width="3.66" height="3.43" fill="#c02828" fill-opacity="0.05"/><rect x="20.1" y="36.9" width="3.66" height="3.43" fill="#d8d060" fill-opacity="0.22"/><rect x="27.42" y="36.9" width="3.66" height="3.43" fill="#fff0d0" fill-opacity="0.09"/><rect x="34.74" y="36.9" width="3.66" height="3.43" fill="#d8d060" fill-opacity="0.18"/><rect x="38.4" y="36.9" width="3.66" height="3.43" fill="#d8d060" fill-opacity="0.22"/><rect x="42.06" y="36.9" width="3.66" height="3.43" fill="#c02828" fill-opacity="0.15"/><rect x="23.76" y="40.33" width="3.66" height="3.43" fill="#201010" fill-opacity="0.15"/><rect x="27.42" y="40.33" width="3.66" height="3.43" fill="#fff0d0" fill-opacity="0.16"/><rect x="31.08" y="40.33" width="3.66" height="3.43" fill="#201010" fill-opacity="0.1"/><rect x="34.74" y="40.33" width="3.66" height="3.43" fill="#d8d060" fill-opacity="0.19"/><rect x="38.4" y="40.33" width="3.66" height="3.43" fill="#fff0d0" fill-opacity="0.14"/><rect x="42.06" y="40.33" width="3.66" height="3.43" fill="#201010" fill-opacity="0.19"/><rect x="45.72" y="40.33" width="3.66" height="3.43" fill="#d8d060" fill-opacity="0.2"/></g></defs>
<g transform="translate(1.2 23.9)" clip-path="url(#fr0)"><g filter="url(#bl)"><rect x="-3" y="-3" width="66.3" height="55.3" fill="#262628"/><rect width="60.3" height="49.3" fill="#262628"/><path d="M0.5 27A29.8 26.2 0 0 1 60.1 27A29.8 300 0 0 1 0.5 27Z" fill="url(#rim)"/><path d="M1.6 27A28.7 25.1 0 0 1 59 27A28.7 298.9 0 0 1 1.6 27Z" fill="url(#cap)"/><g clip-path="url(#gm0)"><rect width="60.3" height="49.3" fill="url(#tg0_0)"/><use href="#nz0"/><rect x="25.77" y="3.74" width="3.72" height="3.44" fill="#e8262a"/><rect x="29.49" y="3.74" width="3.72" height="3.44" fill="#e8262a"/><rect x="25.77" y="7.18" width="3.72" height="3.44" fill="#f06868"/><rect x="29.49" y="7.18" width="3.72" height="3.44" fill="#e8262a"/><rect x="14.61" y="14.06" width="3.72" height="3.44" fill="#f4a6a8"/><rect x="18.33" y="14.06" width="3.72" height="3.44" fill="#fbd9dc"/><rect x="33.21" y="17.5" width="3.72" height="3.44" fill="#fbd9dc"/><rect x="36.93" y="17.5" width="3.72" height="3.44" fill="#f4a6a8"/><rect x="14.61" y="20.94" width="3.72" height="3.44" fill="#e8262a"/><rect x="18.33" y="20.94" width="3.72" height="3.44" fill="#e8262a"/><rect x="33.21" y="24.38" width="3.72" height="3.44" fill="#e8262a"/><rect x="36.93" y="24.38" width="3.72" height="3.44" fill="#e8262a"/><rect x="22.05" y="27.82" width="3.72" height="3.44" fill="#e8262a"/><rect x="25.77" y="27.82" width="3.72" height="3.44" fill="#e8262a"/><rect x="36.93" y="31.26" width="3.72" height="3.44" fill="#e8262a"/><rect x="40.65" y="31.26" width="3.72" height="3.44" fill="#e8262a"/><rect x="36.93" y="34.7" width="3.72" height="3.44" fill="#e8262a"/><rect x="40.65" y="34.7" width="3.72" height="3.44" fill="#e8262a"/><rect x="14.61" y="38.14" width="3.72" height="3.44" fill="#f4a6a8"/><rect x="18.33" y="38.14" width="3.72" height="3.44" fill="#f06868"/><rect x="25.77" y="41.58" width="3.72" height="3.44" fill="#e8262a"/><rect x="29.49" y="41.58" width="3.72" height="3.44" fill="#e8262a"/><rect x="25.77" y="45.02" width="3.72" height="3.44" fill="#e8262a"/><rect x="29.49" y="45.02" width="3.72" height="3.44" fill="#f06868"/><use href="#gp0"/><g fill-opacity="0.65"><rect x="25.77" y="3.74" width="3.72" height="3.44" fill="#e8262a"/><rect x="29.49" y="3.74" width="3.72" height="3.44" fill="#e8262a"/><rect x="25.77" y="7.18" width="3.72" height="3.44" fill="#f06868"/><rect x="29.49" y="7.18" width="3.72" height="3.44" fill="#e8262a"/><rect x="14.61" y="14.06" width="3.72" height="3.44" fill="#f4a6a8"/><rect x="18.33" y="14.06" width="3.72" height="3.44" fill="#fbd9dc"/><rect x="33.21" y="17.5" width="3.72" height="3.44" fill="#fbd9dc"/><rect x="36.93" y="17.5" width="3.72" height="3.44" fill="#f4a6a8"/><rect x="14.61" y="20.94" width="3.72" height="3.44" fill="#e8262a"/><rect x="18.33" y="20.94" width="3.72" height="3.44" fill="#e8262a"/><rect x="33.21" y="24.38" width="3.72" height="3.44" fill="#e8262a"/><rect x="36.93" y="24.38" width="3.72" height="3.44" fill="#e8262a"/><rect x="22.05" y="27.82" width="3.72" height="3.44" fill="#e8262a"/><rect x="25.77" y="27.82" width="3.72" height="3.44" fill="#e8262a"/><rect x="36.93" y="31.26" width="3.72" height="3.44" fill="#e8262a"/><rect x="40.65" y="31.26" width="3.72" height="3.44" fill="#e8262a"/><rect x="36.93" y="34.7" width="3.72" height="3.44" fill="#e8262a"/><rect x="40.65" y="34.7" width="3.72" height="3.44" fill="#e8262a"/><rect x="14.61" y="38.14" width="3.72" height="3.44" fill="#f4a6a8"/><rect x="18.33" y="38.14" width="3.72" height="3.44" fill="#f06868"/><rect x="25.77" y="41.58" width="3.72" height="3.44" fill="#e8262a"/><rect x="29.49" y="41.58" width="3.72" height="3.44" fill="#e8262a"/><rect x="25.77" y="45.02" width="3.72" height="3.44" fill="#e8262a"/><rect x="29.49" y="45.02" width="3.72" height="3.44" fill="#f06868"/></g></g></g><rect x="0.3" y="0.3" width="59.7" height="48.7" fill="none" stroke="#0c0c0c" stroke-width="0.5" stroke-opacity="0.8"/></g>
<g transform="translate(66.05 26.05)" clip-path="url(#fr1)"><g filter="url(#bl)"><rect x="-3" y="-3" width="66.95" height="53.1" fill="#29292b"/><rect width="60.95" height="47.1" fill="#29292b"/><path d="M0.6 28A30 27.6 0 0 1 60.6 28A30 300 0 0 1 0.6 28Z" fill="url(#rim)"/><path d="M1.7 28A28.9 26.5 0 0 1 59.5 28A28.9 298.9 0 0 1 1.7 28Z" fill="url(#cap)"/><g clip-path="url(#gm1)"><rect width="60.95" height="47.1" fill="url(#tg0_1)"/><use href="#nz1"/><rect x="26.1" y="2.2" width="3.68" height="3.3" fill="#e8262a"/><rect x="29.78" y="2.2" width="3.68" height="3.3" fill="#e8262a"/><rect x="18.74" y="5.5" width="3.68" height="3.3" fill="#f06868"/><rect x="22.42" y="5.5" width="3.68" height="3.3" fill="#f06868"/><rect x="15.06" y="12.1" width="3.68" height="3.3" fill="#f06868"/><rect x="18.74" y="12.1" width="3.68" height="3.3" fill="#e8262a"/><rect x="33.46" y="15.4" width="3.68" height="3.3" fill="#fbd9dc"/><rect x="37.14" y="15.4" width="3.68" height="3.3" fill="#fbd9dc"/><rect x="33.46" y="18.7" width="3.68" height="3.3" fill="#f4a6a8"/><rect x="37.14" y="18.7" width="3.68" height="3.3" fill="#fbd9dc"/><rect x="11.38" y="25.3" width="3.68" height="3.3" fill="#e8262a"/><rect x="15.06" y="25.3" width="3.68" height="3.3" fill="#e8262a"/><rect x="11.38" y="28.6" width="3.68" height="3.3" fill="#e8262a"/><rect x="15.06" y="28.6" width="3.68" height="3.3" fill="#e8262a"/><rect x="11.38" y="31.9" width="3.68" height="3.3" fill="#c8323a"/><rect x="15.06" y="31.9" width="3.68" height="3.3" fill="#c8323a"/><rect x="33.46" y="28.6" width="3.68" height="3.3" fill="#e8262a"/><rect x="37.14" y="28.6" width="3.68" height="3.3" fill="#e8262a"/><rect x="40.82" y="31.9" width="3.68" height="3.3" fill="#e8262a"/><rect x="44.5" y="31.9" width="3.68" height="3.3" fill="#e8262a"/><rect x="15.06" y="35.2" width="3.68" height="3.3" fill="#e8262a"/><rect x="18.74" y="35.2" width="3.68" height="3.3" fill="#e8262a"/><rect x="26.1" y="38.5" width="3.68" height="3.3" fill="#e8262a"/><rect x="29.78" y="38.5" width="3.68" height="3.3" fill="#e8262a"/><rect x="26.1" y="41.8" width="3.68" height="3.3" fill="#e8262a"/><rect x="29.78" y="41.8" width="3.68" height="3.3" fill="#e8262a"/><use href="#gp1"/><g fill-opacity="0.65"><rect x="26.1" y="2.2" width="3.68" height="3.3" fill="#e8262a"/><rect x="29.78" y="2.2" width="3.68" height="3.3" fill="#e8262a"/><rect x="18.74" y="5.5" width="3.68" height="3.3" fill="#f06868"/><rect x="22.42" y="5.5" width="3.68" height="3.3" fill="#f06868"/><rect x="15.06" y="12.1" width="3.68" height="3.3" fill="#f06868"/><rect x="18.74" y="12.1" width="3.68" height="3.3" fill="#e8262a"/><rect x="33.46" y="15.4" width="3.68" height="3.3" fill="#fbd9dc"/><rect x="37.14" y="15.4" width="3.68" height="3.3" fill="#fbd9dc"/><rect x="33.46" y="18.7" width="3.68" height="3.3" fill="#f4a6a8"/><rect x="37.14" y="18.7" width="3.68" height="3.3" fill="#fbd9dc"/><rect x="11.38" y="25.3" width="3.68" height="3.3" fill="#e8262a"/><rect x="15.06" y="25.3" width="3.68" height="3.3" fill="#e8262a"/><rect x="11.38" y="28.6" width="3.68" height="3.3" fill="#e8262a"/><rect x="15.06" y="28.6" width="3.68" height="3.3" fill="#e8262a"/><rect x="11.38" y="31.9" width="3.68" height="3.3" fill="#c8323a"/><rect x="15.06" y="31.9" width="3.68" height="3.3" fill="#c8323a"/><rect x="33.46" y="28.6" width="3.68" height="3.3" fill="#e8262a"/><rect x="37.14" y="28.6" width="3.68" height="3.3" fill="#e8262a"/><rect x="40.82" y="31.9" width="3.68" height="3.3" fill="#e8262a"/><rect x="44.5" y="31.9" width="3.68" height="3.3" fill="#e8262a"/><rect x="15.06" y="35.2" width="3.68" height="3.3" fill="#e8262a"/><rect x="18.74" y="35.2" width="3.68" height="3.3" fill="#e8262a"/><rect x="26.1" y="38.5" width="3.68" height="3.3" fill="#e8262a"/><rect x="29.78" y="38.5" width="3.68" height="3.3" fill="#e8262a"/><rect x="26.1" y="41.8" width="3.68" height="3.3" fill="#e8262a"/><rect x="29.78" y="41.8" width="3.68" height="3.3" fill="#e8262a"/></g></g></g><rect x="0.3" y="0.3" width="60.35" height="46.5" fill="none" stroke="#0c0c0c" stroke-width="0.5" stroke-opacity="0.8"/></g>
<g transform="translate(131.1 27.85)" clip-path="url(#fr2)"><g filter="url(#bl)"><rect x="-3" y="-3" width="64.7" height="51.3" fill="#2e2e2f"/><rect width="58.7" height="45.3" fill="#2e2e2f"/><path d="M0.5 27.25A29 26.6 0 0 1 58.5 27.25A29 70 0 0 1 0.5 27.25Z" fill="url(#rim)"/><path d="M1.6 27.25A27.9 25.5 0 0 1 57.4 27.25A27.9 68.9 0 0 1 1.6 27.25Z" fill="url(#cap)"/><g clip-path="url(#gm2)"><rect width="58.7" height="45.3" fill="url(#tg0_2)"/><use href="#nz2"/><rect x="20.45" y="2.15" width="3.84" height="3.6" fill="#e8262a"/><rect x="24.29" y="2.15" width="3.84" height="3.6" fill="#e8262a"/><rect x="35.81" y="2.15" width="3.84" height="3.6" fill="#e8262a"/><rect x="39.65" y="2.15" width="3.84" height="3.6" fill="#e8262a"/><rect x="16.61" y="9.35" width="3.84" height="3.6" fill="#fbd9dc"/><rect x="20.45" y="9.35" width="3.84" height="3.6" fill="#f4a6a8"/><rect x="12.77" y="9.35" width="3.84" height="3.6" fill="#f06868"/><rect x="43.49" y="9.35" width="3.84" height="3.6" fill="#f06868"/><rect x="47.33" y="9.35" width="3.84" height="3.6" fill="#c8323a"/><rect x="20.45" y="16.55" width="3.84" height="3.6" fill="#e8262a"/><rect x="24.29" y="16.55" width="3.84" height="3.6" fill="#e8262a"/><rect x="20.45" y="20.15" width="3.84" height="3.6" fill="#e8262a"/><rect x="24.29" y="20.15" width="3.84" height="3.6" fill="#e8262a"/><rect x="12.77" y="27.35" width="3.84" height="3.6" fill="#e8262a"/><rect x="16.61" y="27.35" width="3.84" height="3.6" fill="#e8262a"/><rect x="31.97" y="27.35" width="3.84" height="3.6" fill="#e8262a"/><rect x="35.81" y="27.35" width="3.84" height="3.6" fill="#e8262a"/><rect x="31.97" y="30.95" width="3.84" height="3.6" fill="#e8262a"/><rect x="35.81" y="30.95" width="3.84" height="3.6" fill="#e8262a"/><rect x="5.09" y="34.55" width="3.84" height="3.6" fill="#e8262a"/><rect x="8.93" y="34.55" width="3.84" height="3.6" fill="#e8262a"/><rect x="8.93" y="38.15" width="3.84" height="3.6" fill="#fbd9dc"/><rect x="24.29" y="38.15" width="3.84" height="3.6" fill="#e8262a"/><rect x="28.13" y="38.15" width="3.84" height="3.6" fill="#e8262a"/><rect x="24.29" y="41.75" width="3.84" height="3.6" fill="#e8262a"/><rect x="28.13" y="41.75" width="3.84" height="3.6" fill="#e8262a"/><rect x="51.17" y="34.55" width="3.84" height="3.6" fill="#f06868"/><use href="#gp2"/><g fill-opacity="0.65"><rect x="20.45" y="2.15" width="3.84" height="3.6" fill="#e8262a"/><rect x="24.29" y="2.15" width="3.84" height="3.6" fill="#e8262a"/><rect x="35.81" y="2.15" width="3.84" height="3.6" fill="#e8262a"/><rect x="39.65" y="2.15" width="3.84" height="3.6" fill="#e8262a"/><rect x="16.61" y="9.35" width="3.84" height="3.6" fill="#fbd9dc"/><rect x="20.45" y="9.35" width="3.84" height="3.6" fill="#f4a6a8"/><rect x="12.77" y="9.35" width="3.84" height="3.6" fill="#f06868"/><rect x="43.49" y="9.35" width="3.84" height="3.6" fill="#f06868"/><rect x="47.33" y="9.35" width="3.84" height="3.6" fill="#c8323a"/><rect x="20.45" y="16.55" width="3.84" height="3.6" fill="#e8262a"/><rect x="24.29" y="16.55" width="3.84" height="3.6" fill="#e8262a"/><rect x="20.45" y="20.15" width="3.84" height="3.6" fill="#e8262a"/><rect x="24.29" y="20.15" width="3.84" height="3.6" fill="#e8262a"/><rect x="12.77" y="27.35" width="3.84" height="3.6" fill="#e8262a"/><rect x="16.61" y="27.35" width="3.84" height="3.6" fill="#e8262a"/><rect x="31.97" y="27.35" width="3.84" height="3.6" fill="#e8262a"/><rect x="35.81" y="27.35" width="3.84" height="3.6" fill="#e8262a"/><rect x="31.97" y="30.95" width="3.84" height="3.6" fill="#e8262a"/><rect x="35.81" y="30.95" width="3.84" height="3.6" fill="#e8262a"/><rect x="5.09" y="34.55" width="3.84" height="3.6" fill="#e8262a"/><rect x="8.93" y="34.55" width="3.84" height="3.6" fill="#e8262a"/><rect x="8.93" y="38.15" width="3.84" height="3.6" fill="#fbd9dc"/><rect x="24.29" y="38.15" width="3.84" height="3.6" fill="#e8262a"/><rect x="28.13" y="38.15" width="3.84" height="3.6" fill="#e8262a"/><rect x="24.29" y="41.75" width="3.84" height="3.6" fill="#e8262a"/><rect x="28.13" y="41.75" width="3.84" height="3.6" fill="#e8262a"/><rect x="51.17" y="34.55" width="3.84" height="3.6" fill="#f06868"/></g></g></g><rect x="0.3" y="0.3" width="58.1" height="44.7" fill="none" stroke="#0c0c0c" stroke-width="0.5" stroke-opacity="0.8"/></g>
<g transform="translate(193.7 31.2)" clip-path="url(#fr3)"><g filter="url(#bl)"><rect x="-3" y="-3" width="61.05" height="47.9" fill="#38383a"/><rect width="55.05" height="41.9" fill="#38383a"/><path d="M0.9 25.4A27 23.6 0 0 1 54.9 25.4A27 200 0 0 1 0.9 25.4Z" fill="url(#rim)"/><path d="M2 25.4A25.9 22.5 0 0 1 53.8 25.4A25.9 198.9 0 0 1 2 25.4Z" fill="url(#cap)"/><g clip-path="url(#gm3)"><rect width="55.05" height="41.9" fill="url(#tg0_3)"/><use href="#nz3"/><rect x="20.1" y="6.03" width="3.66" height="3.43" fill="#f06868"/><rect x="23.76" y="6.03" width="3.66" height="3.43" fill="#f06868"/><rect x="31.08" y="6.03" width="3.66" height="3.43" fill="#f4a6a8"/><rect x="34.74" y="6.03" width="3.66" height="3.43" fill="#f4a6a8"/><rect x="9.12" y="12.89" width="3.66" height="3.43" fill="#f06868"/><rect x="12.78" y="12.89" width="3.66" height="3.43" fill="#e8262a"/><rect x="31.08" y="16.32" width="3.66" height="3.43" fill="#f4a6a8"/><rect x="34.74" y="16.32" width="3.66" height="3.43" fill="#fbd9dc"/><rect x="31.08" y="19.75" width="3.66" height="3.43" fill="#fbd9dc"/><rect x="34.74" y="19.75" width="3.66" height="3.43" fill="#fbd9dc"/><rect x="31.08" y="23.18" width="3.66" height="3.43" fill="#fbd9dc"/><rect x="34.74" y="23.18" width="3.66" height="3.43" fill="#fbd9dc"/><rect x="5.46" y="23.18" width="3.66" height="3.43" fill="#e8262a"/><rect x="9.12" y="23.18" width="3.66" height="3.43" fill="#e8262a"/><rect x="16.44" y="26.61" width="3.66" height="3.43" fill="#e8262a"/><rect x="20.1" y="26.61" width="3.66" height="3.43" fill="#e8262a"/><rect x="38.4" y="26.61" width="3.66" height="3.43" fill="#e8262a"/><rect x="42.06" y="26.61" width="3.66" height="3.43" fill="#e8262a"/><rect x="38.4" y="30.04" width="3.66" height="3.43" fill="#e8262a"/><rect x="42.06" y="30.04" width="3.66" height="3.43" fill="#e8262a"/><rect x="12.78" y="33.47" width="3.66" height="3.43" fill="#e8262a"/><rect x="16.44" y="33.47" width="3.66" height="3.43" fill="#e8262a"/><rect x="12.78" y="36.9" width="3.66" height="3.43" fill="#f06868"/><rect x="16.44" y="36.9" width="3.66" height="3.43" fill="#c8323a"/><rect x="23.76" y="33.47" width="3.66" height="3.43" fill="#e8262a"/><rect x="27.42" y="33.47" width="3.66" height="3.43" fill="#e8262a"/><rect x="23.76" y="36.9" width="3.66" height="3.43" fill="#e8262a"/><rect x="27.42" y="36.9" width="3.66" height="3.43" fill="#e8262a"/><use href="#gp3"/><g fill-opacity="0.65"><rect x="20.1" y="6.03" width="3.66" height="3.43" fill="#f06868"/><rect x="23.76" y="6.03" width="3.66" height="3.43" fill="#f06868"/><rect x="31.08" y="6.03" width="3.66" height="3.43" fill="#f4a6a8"/><rect x="34.74" y="6.03" width="3.66" height="3.43" fill="#f4a6a8"/><rect x="9.12" y="12.89" width="3.66" height="3.43" fill="#f06868"/><rect x="12.78" y="12.89" width="3.66" height="3.43" fill="#e8262a"/><rect x="31.08" y="16.32" width="3.66" height="3.43" fill="#f4a6a8"/><rect x="34.74" y="16.32" width="3.66" height="3.43" fill="#fbd9dc"/><rect x="31.08" y="19.75" width="3.66" height="3.43" fill="#fbd9dc"/><rect x="34.74" y="19.75" width="3.66" height="3.43" fill="#fbd9dc"/><rect x="31.08" y="23.18" width="3.66" height="3.43" fill="#fbd9dc"/><rect x="34.74" y="23.18" width="3.66" height="3.43" fill="#fbd9dc"/><rect x="5.46" y="23.18" width="3.66" height="3.43" fill="#e8262a"/><rect x="9.12" y="23.18" width="3.66" height="3.43" fill="#e8262a"/><rect x="16.44" y="26.61" width="3.66" height="3.43" fill="#e8262a"/><rect x="20.1" y="26.61" width="3.66" height="3.43" fill="#e8262a"/><rect x="38.4" y="26.61" width="3.66" height="3.43" fill="#e8262a"/><rect x="42.06" y="26.61" width="3.66" height="3.43" fill="#e8262a"/><rect x="38.4" y="30.04" width="3.66" height="3.43" fill="#e8262a"/><rect x="42.06" y="30.04" width="3.66" height="3.43" fill="#e8262a"/><rect x="12.78" y="33.47" width="3.66" height="3.43" fill="#e8262a"/><rect x="16.44" y="33.47" width="3.66" height="3.43" fill="#e8262a"/><rect x="12.78" y="36.9" width="3.66" height="3.43" fill="#f06868"/><rect x="16.44" y="36.9" width="3.66" height="3.43" fill="#c8323a"/><rect x="23.76" y="33.47" width="3.66" height="3.43" fill="#e8262a"/><rect x="27.42" y="33.47" width="3.66" height="3.43" fill="#e8262a"/><rect x="23.76" y="36.9" width="3.66" height="3.43" fill="#e8262a"/><rect x="27.42" y="36.9" width="3.66" height="3.43" fill="#e8262a"/></g></g></g><rect x="0.3" y="0.3" width="54.45" height="41.3" fill="none" stroke="#0c0c0c" stroke-width="0.5" stroke-opacity="0.8"/></g>
<g transform="translate(1.2 86)" clip-path="url(#fr0)"><g filter="url(#bl)"><rect x="-3" y="-3" width="66.3" height="55.3" fill="#262628"/><rect width="60.3" height="49.3" fill="#262628"/><path d="M0.5 27A29.8 26.2 0 0 1 60.1 27A29.8 300 0 0 1 0.5 27Z" fill="url(#rim)"/><path d="M1.6 27A28.7 25.1 0 0 1 59 27A28.7 298.9 0 0 1 1.6 27Z" fill="url(#cap)"/><g clip-path="url(#gm0)"><rect width="60.3" height="49.3" fill="url(#tg1_0)"/><use href="#nz0"/><rect x="25.77" y="3.74" width="3.72" height="3.44" fill="#2a44c8"/><rect x="29.49" y="3.74" width="3.72" height="3.44" fill="#4a68d8"/><rect x="25.77" y="7.18" width="3.72" height="3.44" fill="#7f9af0"/><rect x="29.49" y="7.18" width="3.72" height="3.44" fill="#2a44c8"/><rect x="14.61" y="14.06" width="3.72" height="3.44" fill="#7f9af0"/><rect x="18.33" y="14.06" width="3.72" height="3.44" fill="#f4f0ff"/><rect x="33.21" y="17.5" width="3.72" height="3.44" fill="#e2d4f6"/><rect x="36.93" y="17.5" width="3.72" height="3.44" fill="#e2d4f6"/><rect x="14.61" y="20.94" width="3.72" height="3.44" fill="#4a68d8"/><rect x="18.33" y="20.94" width="3.72" height="3.44" fill="#4a68d8"/><rect x="33.21" y="24.38" width="3.72" height="3.44" fill="#2a44c8"/><rect x="36.93" y="24.38" width="3.72" height="3.44" fill="#4a68d8"/><rect x="22.05" y="27.82" width="3.72" height="3.44" fill="#b8a6ea"/><rect x="25.77" y="27.82" width="3.72" height="3.44" fill="#4a68d8"/><rect x="36.93" y="31.26" width="3.72" height="3.44" fill="#2a44c8"/><rect x="40.65" y="31.26" width="3.72" height="3.44" fill="#2a44c8"/><rect x="36.93" y="34.7" width="3.72" height="3.44" fill="#2a44c8"/><rect x="40.65" y="34.7" width="3.72" height="3.44" fill="#2a44c8"/><rect x="14.61" y="38.14" width="3.72" height="3.44" fill="#e2d4f6"/><rect x="18.33" y="38.14" width="3.72" height="3.44" fill="#b8a6ea"/><rect x="25.77" y="41.58" width="3.72" height="3.44" fill="#4a68d8"/><rect x="29.49" y="41.58" width="3.72" height="3.44" fill="#b8a6ea"/><rect x="25.77" y="45.02" width="3.72" height="3.44" fill="#4a68d8"/><rect x="29.49" y="45.02" width="3.72" height="3.44" fill="#4a68d8"/><use href="#gp0"/><g fill-opacity="0.65"><rect x="25.77" y="3.74" width="3.72" height="3.44" fill="#2a44c8"/><rect x="29.49" y="3.74" width="3.72" height="3.44" fill="#4a68d8"/><rect x="25.77" y="7.18" width="3.72" height="3.44" fill="#7f9af0"/><rect x="29.49" y="7.18" width="3.72" height="3.44" fill="#2a44c8"/><rect x="14.61" y="14.06" width="3.72" height="3.44" fill="#7f9af0"/><rect x="18.33" y="14.06" width="3.72" height="3.44" fill="#f4f0ff"/><rect x="33.21" y="17.5" width="3.72" height="3.44" fill="#e2d4f6"/><rect x="36.93" y="17.5" width="3.72" height="3.44" fill="#e2d4f6"/><rect x="14.61" y="20.94" width="3.72" height="3.44" fill="#4a68d8"/><rect x="18.33" y="20.94" width="3.72" height="3.44" fill="#4a68d8"/><rect x="33.21" y="24.38" width="3.72" height="3.44" fill="#2a44c8"/><rect x="36.93" y="24.38" width="3.72" height="3.44" fill="#4a68d8"/><rect x="22.05" y="27.82" width="3.72" height="3.44" fill="#b8a6ea"/><rect x="25.77" y="27.82" width="3.72" height="3.44" fill="#4a68d8"/><rect x="36.93" y="31.26" width="3.72" height="3.44" fill="#2a44c8"/><rect x="40.65" y="31.26" width="3.72" height="3.44" fill="#2a44c8"/><rect x="36.93" y="34.7" width="3.72" height="3.44" fill="#2a44c8"/><rect x="40.65" y="34.7" width="3.72" height="3.44" fill="#2a44c8"/><rect x="14.61" y="38.14" width="3.72" height="3.44" fill="#e2d4f6"/><rect x="18.33" y="38.14" width="3.72" height="3.44" fill="#b8a6ea"/><rect x="25.77" y="41.58" width="3.72" height="3.44" fill="#4a68d8"/><rect x="29.49" y="41.58" width="3.72" height="3.44" fill="#b8a6ea"/><rect x="25.77" y="45.02" width="3.72" height="3.44" fill="#4a68d8"/><rect x="29.49" y="45.02" width="3.72" height="3.44" fill="#4a68d8"/></g></g></g><rect x="0.3" y="0.3" width="59.7" height="48.7" fill="none" stroke="#0c0c0c" stroke-width="0.5" stroke-opacity="0.8"/></g>
<g transform="translate(66.05 88.15)" clip-path="url(#fr1)"><g filter="url(#bl)"><rect x="-3" y="-3" width="66.95" height="53.1" fill="#29292b"/><rect width="60.95" height="47.1" fill="#29292b"/><path d="M0.6 28A30 27.6 0 0 1 60.6 28A30 300 0 0 1 0.6 28Z" fill="url(#rim)"/><path d="M1.7 28A28.9 26.5 0 0 1 59.5 28A28.9 298.9 0 0 1 1.7 28Z" fill="url(#cap)"/><g clip-path="url(#gm1)"><rect width="60.95" height="47.1" fill="url(#tg1_1)"/><use href="#nz1"/><rect x="26.1" y="2.2" width="3.68" height="3.3" fill="#b8a6ea"/><rect x="29.78" y="2.2" width="3.68" height="3.3" fill="#7f9af0"/><rect x="18.74" y="5.5" width="3.68" height="3.3" fill="#e2d4f6"/><rect x="22.42" y="5.5" width="3.68" height="3.3" fill="#b8a6ea"/><rect x="15.06" y="12.1" width="3.68" height="3.3" fill="#b8a6ea"/><rect x="18.74" y="12.1" width="3.68" height="3.3" fill="#b8a6ea"/><rect x="33.46" y="15.4" width="3.68" height="3.3" fill="#f4f0ff"/><rect x="37.14" y="15.4" width="3.68" height="3.3" fill="#f4f0ff"/><rect x="33.46" y="18.7" width="3.68" height="3.3" fill="#e2d4f6"/><rect x="37.14" y="18.7" width="3.68" height="3.3" fill="#f4f0ff"/><rect x="11.38" y="25.3" width="3.68" height="3.3" fill="#2a44c8"/><rect x="15.06" y="25.3" width="3.68" height="3.3" fill="#2a44c8"/><rect x="11.38" y="28.6" width="3.68" height="3.3" fill="#2a44c8"/><rect x="15.06" y="28.6" width="3.68" height="3.3" fill="#2a44c8"/><rect x="11.38" y="31.9" width="3.68" height="3.3" fill="#4a68d8"/><rect x="15.06" y="31.9" width="3.68" height="3.3" fill="#4a68d8"/><rect x="33.46" y="28.6" width="3.68" height="3.3" fill="#2a44c8"/><rect x="37.14" y="28.6" width="3.68" height="3.3" fill="#2a44c8"/><rect x="40.82" y="31.9" width="3.68" height="3.3" fill="#2a44c8"/><rect x="44.5" y="31.9" width="3.68" height="3.3" fill="#2a44c8"/><rect x="15.06" y="35.2" width="3.68" height="3.3" fill="#7f9af0"/><rect x="18.74" y="35.2" width="3.68" height="3.3" fill="#b8a6ea"/><rect x="26.1" y="38.5" width="3.68" height="3.3" fill="#4a68d8"/><rect x="29.78" y="38.5" width="3.68" height="3.3" fill="#b8a6ea"/><rect x="26.1" y="41.8" width="3.68" height="3.3" fill="#2a44c8"/><rect x="29.78" y="41.8" width="3.68" height="3.3" fill="#4a68d8"/><use href="#gp1"/><g fill-opacity="0.65"><rect x="26.1" y="2.2" width="3.68" height="3.3" fill="#b8a6ea"/><rect x="29.78" y="2.2" width="3.68" height="3.3" fill="#7f9af0"/><rect x="18.74" y="5.5" width="3.68" height="3.3" fill="#e2d4f6"/><rect x="22.42" y="5.5" width="3.68" height="3.3" fill="#b8a6ea"/><rect x="15.06" y="12.1" width="3.68" height="3.3" fill="#b8a6ea"/><rect x="18.74" y="12.1" width="3.68" height="3.3" fill="#b8a6ea"/><rect x="33.46" y="15.4" width="3.68" height="3.3" fill="#f4f0ff"/><rect x="37.14" y="15.4" width="3.68" height="3.3" fill="#f4f0ff"/><rect x="33.46" y="18.7" width="3.68" height="3.3" fill="#e2d4f6"/><rect x="37.14" y="18.7" width="3.68" height="3.3" fill="#f4f0ff"/><rect x="11.38" y="25.3" width="3.68" height="3.3" fill="#2a44c8"/><rect x="15.06" y="25.3" width="3.68" height="3.3" fill="#2a44c8"/><rect x="11.38" y="28.6" width="3.68" height="3.3" fill="#2a44c8"/><rect x="15.06" y="28.6" width="3.68" height="3.3" fill="#2a44c8"/><rect x="11.38" y="31.9" width="3.68" height="3.3" fill="#4a68d8"/><rect x="15.06" y="31.9" width="3.68" height="3.3" fill="#4a68d8"/><rect x="33.46" y="28.6" width="3.68" height="3.3" fill="#2a44c8"/><rect x="37.14" y="28.6" width="3.68" height="3.3" fill="#2a44c8"/><rect x="40.82" y="31.9" width="3.68" height="3.3" fill="#2a44c8"/><rect x="44.5" y="31.9" width="3.68" height="3.3" fill="#2a44c8"/><rect x="15.06" y="35.2" width="3.68" height="3.3" fill="#7f9af0"/><rect x="18.74" y="35.2" width="3.68" height="3.3" fill="#b8a6ea"/><rect x="26.1" y="38.5" width="3.68" height="3.3" fill="#4a68d8"/><rect x="29.78" y="38.5" width="3.68" height="3.3" fill="#b8a6ea"/><rect x="26.1" y="41.8" width="3.68" height="3.3" fill="#2a44c8"/><rect x="29.78" y="41.8" width="3.68" height="3.3" fill="#4a68d8"/></g></g></g><rect x="0.3" y="0.3" width="60.35" height="46.5" fill="none" stroke="#0c0c0c" stroke-width="0.5" stroke-opacity="0.8"/></g>
<g transform="translate(131.1 89.95)" clip-path="url(#fr2)"><g filter="url(#bl)"><rect x="-3" y="-3" width="64.7" height="51.3" fill="#2e2e2f"/><rect width="58.7" height="45.3" fill="#2e2e2f"/><path d="M0.5 27.25A29 26.6 0 0 1 58.5 27.25A29 70 0 0 1 0.5 27.25Z" fill="url(#rim)"/><path d="M1.6 27.25A27.9 25.5 0 0 1 57.4 27.25A27.9 68.9 0 0 1 1.6 27.25Z" fill="url(#cap)"/><g clip-path="url(#gm2)"><rect width="58.7" height="45.3" fill="url(#tg1_2)"/><use href="#nz2"/><rect x="20.45" y="2.15" width="3.84" height="3.6" fill="#2a44c8"/><rect x="24.29" y="2.15" width="3.84" height="3.6" fill="#2a44c8"/><rect x="35.81" y="2.15" width="3.84" height="3.6" fill="#4a68d8"/><rect x="39.65" y="2.15" width="3.84" height="3.6" fill="#4a68d8"/><rect x="16.61" y="9.35" width="3.84" height="3.6" fill="#e2d4f6"/><rect x="20.45" y="9.35" width="3.84" height="3.6" fill="#b8a6ea"/><rect x="12.77" y="9.35" width="3.84" height="3.6" fill="#b8a6ea"/><rect x="43.49" y="9.35" width="3.84" height="3.6" fill="#b8a6ea"/><rect x="47.33" y="9.35" width="3.84" height="3.6" fill="#7f9af0"/><rect x="20.45" y="16.55" width="3.84" height="3.6" fill="#2a44c8"/><rect x="24.29" y="16.55" width="3.84" height="3.6" fill="#2a44c8"/><rect x="20.45" y="20.15" width="3.84" height="3.6" fill="#2a44c8"/><rect x="24.29" y="20.15" width="3.84" height="3.6" fill="#2a44c8"/><rect x="12.77" y="27.35" width="3.84" height="3.6" fill="#2a44c8"/><rect x="16.61" y="27.35" width="3.84" height="3.6" fill="#2a44c8"/><rect x="31.97" y="27.35" width="3.84" height="3.6" fill="#2a44c8"/><rect x="35.81" y="27.35" width="3.84" height="3.6" fill="#2a44c8"/><rect x="31.97" y="30.95" width="3.84" height="3.6" fill="#2a44c8"/><rect x="35.81" y="30.95" width="3.84" height="3.6" fill="#2a44c8"/><rect x="5.09" y="34.55" width="3.84" height="3.6" fill="#2a44c8"/><rect x="8.93" y="34.55" width="3.84" height="3.6" fill="#2a44c8"/><rect x="8.93" y="38.15" width="3.84" height="3.6" fill="#e2d4f6"/><rect x="24.29" y="38.15" width="3.84" height="3.6" fill="#2a44c8"/><rect x="28.13" y="38.15" width="3.84" height="3.6" fill="#2a44c8"/><rect x="24.29" y="41.75" width="3.84" height="3.6" fill="#2a44c8"/><rect x="28.13" y="41.75" width="3.84" height="3.6" fill="#2a44c8"/><rect x="51.17" y="34.55" width="3.84" height="3.6" fill="#4a68d8"/><use href="#gp2"/><g fill-opacity="0.65"><rect x="20.45" y="2.15" width="3.84" height="3.6" fill="#2a44c8"/><rect x="24.29" y="2.15" width="3.84" height="3.6" fill="#2a44c8"/><rect x="35.81" y="2.15" width="3.84" height="3.6" fill="#4a68d8"/><rect x="39.65" y="2.15" width="3.84" height="3.6" fill="#4a68d8"/><rect x="16.61" y="9.35" width="3.84" height="3.6" fill="#e2d4f6"/><rect x="20.45" y="9.35" width="3.84" height="3.6" fill="#b8a6ea"/><rect x="12.77" y="9.35" width="3.84" height="3.6" fill="#b8a6ea"/><rect x="43.49" y="9.35" width="3.84" height="3.6" fill="#b8a6ea"/><rect x="47.33" y="9.35" width="3.84" height="3.6" fill="#7f9af0"/><rect x="20.45" y="16.55" width="3.84" height="3.6" fill="#2a44c8"/><rect x="24.29" y="16.55" width="3.84" height="3.6" fill="#2a44c8"/><rect x="20.45" y="20.15" width="3.84" height="3.6" fill="#2a44c8"/><rect x="24.29" y="20.15" width="3.84" height="3.6" fill="#2a44c8"/><rect x="12.77" y="27.35" width="3.84" height="3.6" fill="#2a44c8"/><rect x="16.61" y="27.35" width="3.84" height="3.6" fill="#2a44c8"/><rect x="31.97" y="27.35" width="3.84" height="3.6" fill="#2a44c8"/><rect x="35.81" y="27.35" width="3.84" height="3.6" fill="#2a44c8"/><rect x="31.97" y="30.95" width="3.84" height="3.6" fill="#2a44c8"/><rect x="35.81" y="30.95" width="3.84" height="3.6" fill="#2a44c8"/><rect x="5.09" y="34.55" width="3.84" height="3.6" fill="#2a44c8"/><rect x="8.93" y="34.55" width="3.84" height="3.6" fill="#2a44c8"/><rect x="8.93" y="38.15" width="3.84" height="3.6" fill="#e2d4f6"/><rect x="24.29" y="38.15" width="3.84" height="3.6" fill="#2a44c8"/><rect x="28.13" y="38.15" width="3.84" height="3.6" fill="#2a44c8"/><rect x="24.29" y="41.75" width="3.84" height="3.6" fill="#2a44c8"/><rect x="28.13" y="41.75" width="3.84" height="3.6" fill="#2a44c8"/><rect x="51.17" y="34.55" width="3.84" height="3.6" fill="#4a68d8"/></g></g></g><rect x="0.3" y="0.3" width="58.1" height="44.7" fill="none" stroke="#0c0c0c" stroke-width="0.5" stroke-opacity="0.8"/></g>
<g transform="translate(193.7 93.3)" clip-path="url(#fr3)"><g filter="url(#bl)"><rect x="-3" y="-3" width="61.05" height="47.9" fill="#38383a"/><rect width="55.05" height="41.9" fill="#38383a"/><path d="M0.9 25.4A27 23.6 0 0 1 54.9 25.4A27 200 0 0 1 0.9 25.4Z" fill="url(#rim)"/><path d="M2 25.4A25.9 22.5 0 0 1 53.8 25.4A25.9 198.9 0 0 1 2 25.4Z" fill="url(#cap)"/><g clip-path="url(#gm3)"><rect width="55.05" height="41.9" fill="url(#tg1_3)"/><use href="#nz3"/><rect x="20.1" y="6.03" width="3.66" height="3.43" fill="#b8a6ea"/><rect x="23.76" y="6.03" width="3.66" height="3.43" fill="#e2d4f6"/><rect x="31.08" y="6.03" width="3.66" height="3.43" fill="#b8a6ea"/><rect x="34.74" y="6.03" width="3.66" height="3.43" fill="#b8a6ea"/><rect x="9.12" y="12.89" width="3.66" height="3.43" fill="#2a44c8"/><rect x="12.78" y="12.89" width="3.66" height="3.43" fill="#4a68d8"/><rect x="31.08" y="16.32" width="3.66" height="3.43" fill="#e2d4f6"/><rect x="34.74" y="16.32" width="3.66" height="3.43" fill="#f4f0ff"/><rect x="31.08" y="19.75" width="3.66" height="3.43" fill="#e2d4f6"/><rect x="34.74" y="19.75" width="3.66" height="3.43" fill="#f4f0ff"/><rect x="31.08" y="23.18" width="3.66" height="3.43" fill="#e2d4f6"/><rect x="34.74" y="23.18" width="3.66" height="3.43" fill="#e2d4f6"/><rect x="5.46" y="23.18" width="3.66" height="3.43" fill="#2a44c8"/><rect x="9.12" y="23.18" width="3.66" height="3.43" fill="#2a44c8"/><rect x="16.44" y="26.61" width="3.66" height="3.43" fill="#2a44c8"/><rect x="20.1" y="26.61" width="3.66" height="3.43" fill="#2a44c8"/><rect x="38.4" y="26.61" width="3.66" height="3.43" fill="#2a44c8"/><rect x="42.06" y="26.61" width="3.66" height="3.43" fill="#2a44c8"/><rect x="38.4" y="30.04" width="3.66" height="3.43" fill="#2a44c8"/><rect x="42.06" y="30.04" width="3.66" height="3.43" fill="#2a44c8"/><rect x="12.78" y="33.47" width="3.66" height="3.43" fill="#2a44c8"/><rect x="16.44" y="33.47" width="3.66" height="3.43" fill="#2a44c8"/><rect x="12.78" y="36.9" width="3.66" height="3.43" fill="#4a68d8"/><rect x="16.44" y="36.9" width="3.66" height="3.43" fill="#4a68d8"/><rect x="23.76" y="33.47" width="3.66" height="3.43" fill="#2a44c8"/><rect x="27.42" y="33.47" width="3.66" height="3.43" fill="#2a44c8"/><rect x="23.76" y="36.9" width="3.66" height="3.43" fill="#2a44c8"/><rect x="27.42" y="36.9" width="3.66" height="3.43" fill="#2a44c8"/><use href="#gp3"/><g fill-opacity="0.65"><rect x="20.1" y="6.03" width="3.66" height="3.43" fill="#b8a6ea"/><rect x="23.76" y="6.03" width="3.66" height="3.43" fill="#e2d4f6"/><rect x="31.08" y="6.03" width="3.66" height="3.43" fill="#b8a6ea"/><rect x="34.74" y="6.03" width="3.66" height="3.43" fill="#b8a6ea"/><rect x="9.12" y="12.89" width="3.66" height="3.43" fill="#2a44c8"/><rect x="12.78" y="12.89" width="3.66" height="3.43" fill="#4a68d8"/><rect x="31.08" y="16.32" width="3.66" height="3.43" fill="#e2d4f6"/><rect x="34.74" y="16.32" width="3.66" height="3.43" fill="#f4f0ff"/><rect x="31.08" y="19.75" width="3.66" height="3.43" fill="#e2d4f6"/><rect x="34.74" y="19.75" width="3.66" height="3.43" fill="#f4f0ff"/><rect x="31.08" y="23.18" width="3.66" height="3.43" fill="#e2d4f6"/><rect x="34.74" y="23.18" width="3.66" height="3.43" fill="#e2d4f6"/><rect x="5.46" y="23.18" width="3.66" height="3.43" fill="#2a44c8"/><rect x="9.12" y="23.18" width="3.66" height="3.43" fill="#2a44c8"/><rect x="16.44" y="26.61" width="3.66" height="3.43" fill="#2a44c8"/><rect x="20.1" y="26.61" width="3.66" height="3.43" fill="#2a44c8"/><rect x="38.4" y="26.61" width="3.66" height="3.43" fill="#2a44c8"/><rect x="42.06" y="26.61" width="3.66" height="3.43" fill="#2a44c8"/><rect x="38.4" y="30.04" width="3.66" height="3.43" fill="#2a44c8"/><rect x="42.06" y="30.04" width="3.66" height="3.43" fill="#2a44c8"/><rect x="12.78" y="33.47" width="3.66" height="3.43" fill="#2a44c8"/><rect x="16.44" y="33.47" width="3.66" height="3.43" fill="#2a44c8"/><rect x="12.78" y="36.9" width="3.66" height="3.43" fill="#4a68d8"/><rect x="16.44" y="36.9" width="3.66" height="3.43" fill="#4a68d8"/><rect x="23.76" y="33.47" width="3.66" height="3.43" fill="#2a44c8"/><rect x="27.42" y="33.47" width="3.66" height="3.43" fill="#2a44c8"/><rect x="23.76" y="36.9" width="3.66" height="3.43" fill="#2a44c8"/><rect x="27.42" y="36.9" width="3.66" height="3.43" fill="#2a44c8"/></g></g></g><rect x="0.3" y="0.3" width="54.45" height="41.3" fill="none" stroke="#0c0c0c" stroke-width="0.5" stroke-opacity="0.8"/></g>
<g transform="translate(1.2 148.9)" clip-path="url(#fr0)"><g filter="url(#bl)"><rect x="-3" y="-3" width="66.3" height="55.3" fill="#262628"/><rect width="60.3" height="49.3" fill="#262628"/><path d="M0.5 27A29.8 26.2 0 0 1 60.1 27A29.8 300 0 0 1 0.5 27Z" fill="url(#rim)"/><path d="M1.6 27A28.7 25.1 0 0 1 59 27A28.7 298.9 0 0 1 1.6 27Z" fill="url(#cap)"/><g clip-path="url(#gm0)"><rect width="60.3" height="49.3" fill="url(#tg2_0)"/><use href="#nz0"/><rect x="25.77" y="3.74" width="3.72" height="3.44" fill="#f4f0ff"/><rect x="29.49" y="3.74" width="3.72" height="3.44" fill="#e2d4f6"/><rect x="25.77" y="7.18" width="3.72" height="3.44" fill="#e2d4f6"/><rect x="29.49" y="7.18" width="3.72" height="3.44" fill="#f4f0ff"/><rect x="14.61" y="14.06" width="3.72" height="3.44" fill="#e2d4f6"/><rect x="18.33" y="14.06" width="3.72" height="3.44" fill="#f4f0ff"/><rect x="33.21" y="17.5" width="3.72" height="3.44" fill="#f4f0ff"/><rect x="36.93" y="17.5" width="3.72" height="3.44" fill="#e2d4f6"/><rect x="14.61" y="20.94" width="3.72" height="3.44" fill="#b8a6ea"/><rect x="18.33" y="20.94" width="3.72" height="3.44" fill="#e2d4f6"/><rect x="33.21" y="24.38" width="3.72" height="3.44" fill="#e2d4f6"/><rect x="36.93" y="24.38" width="3.72" height="3.44" fill="#b8a6ea"/><rect x="22.05" y="27.82" width="3.72" height="3.44" fill="#e2d4f6"/><rect x="25.77" y="27.82" width="3.72" height="3.44" fill="#f4f0ff"/><rect x="36.93" y="31.26" width="3.72" height="3.44" fill="#e2d4f6"/><rect x="40.65" y="31.26" width="3.72" height="3.44" fill="#f4f0ff"/><rect x="36.93" y="34.7" width="3.72" height="3.44" fill="#f4f0ff"/><rect x="40.65" y="34.7" width="3.72" height="3.44" fill="#e2d4f6"/><rect x="14.61" y="38.14" width="3.72" height="3.44" fill="#e2d4f6"/><rect x="18.33" y="38.14" width="3.72" height="3.44" fill="#e2d4f6"/><rect x="25.77" y="41.58" width="3.72" height="3.44" fill="#b8a6ea"/><rect x="29.49" y="41.58" width="3.72" height="3.44" fill="#e2d4f6"/><rect x="25.77" y="45.02" width="3.72" height="3.44" fill="#e2d4f6"/><rect x="29.49" y="45.02" width="3.72" height="3.44" fill="#f4f0ff"/><use href="#gp0"/><g fill-opacity="0.65"><rect x="25.77" y="3.74" width="3.72" height="3.44" fill="#f4f0ff"/><rect x="29.49" y="3.74" width="3.72" height="3.44" fill="#e2d4f6"/><rect x="25.77" y="7.18" width="3.72" height="3.44" fill="#e2d4f6"/><rect x="29.49" y="7.18" width="3.72" height="3.44" fill="#f4f0ff"/><rect x="14.61" y="14.06" width="3.72" height="3.44" fill="#e2d4f6"/><rect x="18.33" y="14.06" width="3.72" height="3.44" fill="#f4f0ff"/><rect x="33.21" y="17.5" width="3.72" height="3.44" fill="#f4f0ff"/><rect x="36.93" y="17.5" width="3.72" height="3.44" fill="#e2d4f6"/><rect x="14.61" y="20.94" width="3.72" height="3.44" fill="#b8a6ea"/><rect x="18.33" y="20.94" width="3.72" height="3.44" fill="#e2d4f6"/><rect x="33.21" y="24.38" width="3.72" height="3.44" fill="#e2d4f6"/><rect x="36.93" y="24.38" width="3.72" height="3.44" fill="#b8a6ea"/><rect x="22.05" y="27.82" width="3.72" height="3.44" fill="#e2d4f6"/><rect x="25.77" y="27.82" width="3.72" height="3.44" fill="#f4f0ff"/><rect x="36.93" y="31.26" width="3.72" height="3.44" fill="#e2d4f6"/><rect x="40.65" y="31.26" width="3.72" height="3.44" fill="#f4f0ff"/><rect x="36.93" y="34.7" width="3.72" height="3.44" fill="#f4f0ff"/><rect x="40.65" y="34.7" width="3.72" height="3.44" fill="#e2d4f6"/><rect x="14.61" y="38.14" width="3.72" height="3.44" fill="#e2d4f6"/><rect x="18.33" y="38.14" width="3.72" height="3.44" fill="#e2d4f6"/><rect x="25.77" y="41.58" width="3.72" height="3.44" fill="#b8a6ea"/><rect x="29.49" y="41.58" width="3.72" height="3.44" fill="#e2d4f6"/><rect x="25.77" y="45.02" width="3.72" height="3.44" fill="#e2d4f6"/><rect x="29.49" y="45.02" width="3.72" height="3.44" fill="#f4f0ff"/></g></g></g><rect x="0.3" y="0.3" width="59.7" height="48.7" fill="none" stroke="#0c0c0c" stroke-width="0.5" stroke-opacity="0.8"/></g>
<g transform="translate(66.05 151.05)" clip-path="url(#fr1)"><g filter="url(#bl)"><rect x="-3" y="-3" width="66.95" height="53.1" fill="#29292b"/><rect width="60.95" height="47.1" fill="#29292b"/><path d="M0.6 28A30 27.6 0 0 1 60.6 28A30 300 0 0 1 0.6 28Z" fill="url(#rim)"/><path d="M1.7 28A28.9 26.5 0 0 1 59.5 28A28.9 298.9 0 0 1 1.7 28Z" fill="url(#cap)"/><g clip-path="url(#gm1)"><rect width="60.95" height="47.1" fill="url(#tg2_1)"/><use href="#nz1"/><rect x="26.1" y="2.2" width="3.68" height="3.3" fill="#b8a6ea"/><rect x="29.78" y="2.2" width="3.68" height="3.3" fill="#b8a6ea"/><rect x="18.74" y="5.5" width="3.68" height="3.3" fill="#f4f0ff"/><rect x="22.42" y="5.5" width="3.68" height="3.3" fill="#e2d4f6"/><rect x="15.06" y="12.1" width="3.68" height="3.3" fill="#e2d4f6"/><rect x="18.74" y="12.1" width="3.68" height="3.3" fill="#f4f0ff"/><rect x="33.46" y="15.4" width="3.68" height="3.3" fill="#f4f0ff"/><rect x="37.14" y="15.4" width="3.68" height="3.3" fill="#f4f0ff"/><rect x="33.46" y="18.7" width="3.68" height="3.3" fill="#f4f0ff"/><rect x="37.14" y="18.7" width="3.68" height="3.3" fill="#f4f0ff"/><rect x="11.38" y="25.3" width="3.68" height="3.3" fill="#e2d4f6"/><rect x="15.06" y="25.3" width="3.68" height="3.3" fill="#b8a6ea"/><rect x="11.38" y="28.6" width="3.68" height="3.3" fill="#e2d4f6"/><rect x="15.06" y="28.6" width="3.68" height="3.3" fill="#e2d4f6"/><rect x="11.38" y="31.9" width="3.68" height="3.3" fill="#b8a6ea"/><rect x="15.06" y="31.9" width="3.68" height="3.3" fill="#e2d4f6"/><rect x="33.46" y="28.6" width="3.68" height="3.3" fill="#e2d4f6"/><rect x="37.14" y="28.6" width="3.68" height="3.3" fill="#b8a6ea"/><rect x="40.82" y="31.9" width="3.68" height="3.3" fill="#e2d4f6"/><rect x="44.5" y="31.9" width="3.68" height="3.3" fill="#f4f0ff"/><rect x="15.06" y="35.2" width="3.68" height="3.3" fill="#f4f0ff"/><rect x="18.74" y="35.2" width="3.68" height="3.3" fill="#e2d4f6"/><rect x="26.1" y="38.5" width="3.68" height="3.3" fill="#e2d4f6"/><rect x="29.78" y="38.5" width="3.68" height="3.3" fill="#b8a6ea"/><rect x="26.1" y="41.8" width="3.68" height="3.3" fill="#e2d4f6"/><rect x="29.78" y="41.8" width="3.68" height="3.3" fill="#f4f0ff"/><use href="#gp1"/><g fill-opacity="0.65"><rect x="26.1" y="2.2" width="3.68" height="3.3" fill="#b8a6ea"/><rect x="29.78" y="2.2" width="3.68" height="3.3" fill="#b8a6ea"/><rect x="18.74" y="5.5" width="3.68" height="3.3" fill="#f4f0ff"/><rect x="22.42" y="5.5" width="3.68" height="3.3" fill="#e2d4f6"/><rect x="15.06" y="12.1" width="3.68" height="3.3" fill="#e2d4f6"/><rect x="18.74" y="12.1" width="3.68" height="3.3" fill="#f4f0ff"/><rect x="33.46" y="15.4" width="3.68" height="3.3" fill="#f4f0ff"/><rect x="37.14" y="15.4" width="3.68" height="3.3" fill="#f4f0ff"/><rect x="33.46" y="18.7" width="3.68" height="3.3" fill="#f4f0ff"/><rect x="37.14" y="18.7" width="3.68" height="3.3" fill="#f4f0ff"/><rect x="11.38" y="25.3" width="3.68" height="3.3" fill="#e2d4f6"/><rect x="15.06" y="25.3" width="3.68" height="3.3" fill="#b8a6ea"/><rect x="11.38" y="28.6" width="3.68" height="3.3" fill="#e2d4f6"/><rect x="15.06" y="28.6" width="3.68" height="3.3" fill="#e2d4f6"/><rect x="11.38" y="31.9" width="3.68" height="3.3" fill="#b8a6ea"/><rect x="15.06" y="31.9" width="3.68" height="3.3" fill="#e2d4f6"/><rect x="33.46" y="28.6" width="3.68" height="3.3" fill="#e2d4f6"/><rect x="37.14" y="28.6" width="3.68" height="3.3" fill="#b8a6ea"/><rect x="40.82" y="31.9" width="3.68" height="3.3" fill="#e2d4f6"/><rect x="44.5" y="31.9" width="3.68" height="3.3" fill="#f4f0ff"/><rect x="15.06" y="35.2" width="3.68" height="3.3" fill="#f4f0ff"/><rect x="18.74" y="35.2" width="3.68" height="3.3" fill="#e2d4f6"/><rect x="26.1" y="38.5" width="3.68" height="3.3" fill="#e2d4f6"/><rect x="29.78" y="38.5" width="3.68" height="3.3" fill="#b8a6ea"/><rect x="26.1" y="41.8" width="3.68" height="3.3" fill="#e2d4f6"/><rect x="29.78" y="41.8" width="3.68" height="3.3" fill="#f4f0ff"/></g></g></g><rect x="0.3" y="0.3" width="60.35" height="46.5" fill="none" stroke="#0c0c0c" stroke-width="0.5" stroke-opacity="0.8"/></g>
<g transform="translate(131.1 152.85)" clip-path="url(#fr2)"><g filter="url(#bl)"><rect x="-3" y="-3" width="64.7" height="51.3" fill="#2e2e2f"/><rect width="58.7" height="45.3" fill="#2e2e2f"/><path d="M0.5 27.25A29 26.6 0 0 1 58.5 27.25A29 70 0 0 1 0.5 27.25Z" fill="url(#rim)"/><path d="M1.6 27.25A27.9 25.5 0 0 1 57.4 27.25A27.9 68.9 0 0 1 1.6 27.25Z" fill="url(#cap)"/><g clip-path="url(#gm2)"><rect width="58.7" height="45.3" fill="url(#tg2_2)"/><use href="#nz2"/><rect x="20.45" y="2.15" width="3.84" height="3.6" fill="#e2d4f6"/><rect x="24.29" y="2.15" width="3.84" height="3.6" fill="#e2d4f6"/><rect x="35.81" y="2.15" width="3.84" height="3.6" fill="#b8a6ea"/><rect x="39.65" y="2.15" width="3.84" height="3.6" fill="#b8a6ea"/><rect x="16.61" y="9.35" width="3.84" height="3.6" fill="#f4f0ff"/><rect x="20.45" y="9.35" width="3.84" height="3.6" fill="#e2d4f6"/><rect x="12.77" y="9.35" width="3.84" height="3.6" fill="#e2d4f6"/><rect x="43.49" y="9.35" width="3.84" height="3.6" fill="#e2d4f6"/><rect x="47.33" y="9.35" width="3.84" height="3.6" fill="#b8a6ea"/><rect x="20.45" y="16.55" width="3.84" height="3.6" fill="#e2d4f6"/><rect x="24.29" y="16.55" width="3.84" height="3.6" fill="#f4f0ff"/><rect x="20.45" y="20.15" width="3.84" height="3.6" fill="#e2d4f6"/><rect x="24.29" y="20.15" width="3.84" height="3.6" fill="#e2d4f6"/><rect x="12.77" y="27.35" width="3.84" height="3.6" fill="#e2d4f6"/><rect x="16.61" y="27.35" width="3.84" height="3.6" fill="#b8a6ea"/><rect x="31.97" y="27.35" width="3.84" height="3.6" fill="#e2d4f6"/><rect x="35.81" y="27.35" width="3.84" height="3.6" fill="#f4f0ff"/><rect x="31.97" y="30.95" width="3.84" height="3.6" fill="#b8a6ea"/><rect x="35.81" y="30.95" width="3.84" height="3.6" fill="#e2d4f6"/><rect x="5.09" y="34.55" width="3.84" height="3.6" fill="#e2d4f6"/><rect x="8.93" y="34.55" width="3.84" height="3.6" fill="#e2d4f6"/><rect x="8.93" y="38.15" width="3.84" height="3.6" fill="#b8a6ea"/><rect x="24.29" y="38.15" width="3.84" height="3.6" fill="#e2d4f6"/><rect x="28.13" y="38.15" width="3.84" height="3.6" fill="#e2d4f6"/><rect x="24.29" y="41.75" width="3.84" height="3.6" fill="#f4f0ff"/><rect x="28.13" y="41.75" width="3.84" height="3.6" fill="#b8a6ea"/><rect x="51.17" y="34.55" width="3.84" height="3.6" fill="#e2d4f6"/><use href="#gp2"/><g fill-opacity="0.65"><rect x="20.45" y="2.15" width="3.84" height="3.6" fill="#e2d4f6"/><rect x="24.29" y="2.15" width="3.84" height="3.6" fill="#e2d4f6"/><rect x="35.81" y="2.15" width="3.84" height="3.6" fill="#b8a6ea"/><rect x="39.65" y="2.15" width="3.84" height="3.6" fill="#b8a6ea"/><rect x="16.61" y="9.35" width="3.84" height="3.6" fill="#f4f0ff"/><rect x="20.45" y="9.35" width="3.84" height="3.6" fill="#e2d4f6"/><rect x="12.77" y="9.35" width="3.84" height="3.6" fill="#e2d4f6"/><rect x="43.49" y="9.35" width="3.84" height="3.6" fill="#e2d4f6"/><rect x="47.33" y="9.35" width="3.84" height="3.6" fill="#b8a6ea"/><rect x="20.45" y="16.55" width="3.84" height="3.6" fill="#e2d4f6"/><rect x="24.29" y="16.55" width="3.84" height="3.6" fill="#f4f0ff"/><rect x="20.45" y="20.15" width="3.84" height="3.6" fill="#e2d4f6"/><rect x="24.29" y="20.15" width="3.84" height="3.6" fill="#e2d4f6"/><rect x="12.77" y="27.35" width="3.84" height="3.6" fill="#e2d4f6"/><rect x="16.61" y="27.35" width="3.84" height="3.6" fill="#b8a6ea"/><rect x="31.97" y="27.35" width="3.84" height="3.6" fill="#e2d4f6"/><rect x="35.81" y="27.35" width="3.84" height="3.6" fill="#f4f0ff"/><rect x="31.97" y="30.95" width="3.84" height="3.6" fill="#b8a6ea"/><rect x="35.81" y="30.95" width="3.84" height="3.6" fill="#e2d4f6"/><rect x="5.09" y="34.55" width="3.84" height="3.6" fill="#e2d4f6"/><rect x="8.93" y="34.55" width="3.84" height="3.6" fill="#e2d4f6"/><rect x="8.93" y="38.15" width="3.84" height="3.6" fill="#b8a6ea"/><rect x="24.29" y="38.15" width="3.84" height="3.6" fill="#e2d4f6"/><rect x="28.13" y="38.15" width="3.84" height="3.6" fill="#e2d4f6"/><rect x="24.29" y="41.75" width="3.84" height="3.6" fill="#f4f0ff"/><rect x="28.13" y="41.75" width="3.84" height="3.6" fill="#b8a6ea"/><rect x="51.17" y="34.55" width="3.84" height="3.6" fill="#e2d4f6"/></g></g></g><rect x="0.3" y="0.3" width="58.1" height="44.7" fill="none" stroke="#0c0c0c" stroke-width="0.5" stroke-opacity="0.8"/></g>
<g transform="translate(193.7 156.2)" clip-path="url(#fr3)"><g filter="url(#bl)"><rect x="-3" y="-3" width="61.05" height="47.9" fill="#38383a"/><rect width="55.05" height="41.9" fill="#38383a"/><path d="M0.9 25.4A27 23.6 0 0 1 54.9 25.4A27 200 0 0 1 0.9 25.4Z" fill="url(#rim)"/><path d="M2 25.4A25.9 22.5 0 0 1 53.8 25.4A25.9 198.9 0 0 1 2 25.4Z" fill="url(#cap)"/><g clip-path="url(#gm3)"><rect width="55.05" height="41.9" fill="url(#tg2_3)"/><use href="#nz3"/><rect x="20.1" y="6.03" width="3.66" height="3.43" fill="#f4f0ff"/><rect x="23.76" y="6.03" width="3.66" height="3.43" fill="#e2d4f6"/><rect x="31.08" y="6.03" width="3.66" height="3.43" fill="#e2d4f6"/><rect x="34.74" y="6.03" width="3.66" height="3.43" fill="#e2d4f6"/><rect x="9.12" y="12.89" width="3.66" height="3.43" fill="#e2d4f6"/><rect x="12.78" y="12.89" width="3.66" height="3.43" fill="#f4f0ff"/><rect x="31.08" y="16.32" width="3.66" height="3.43" fill="#f4f0ff"/><rect x="34.74" y="16.32" width="3.66" height="3.43" fill="#f4f0ff"/><rect x="31.08" y="19.75" width="3.66" height="3.43" fill="#f4f0ff"/><rect x="34.74" y="19.75" width="3.66" height="3.43" fill="#f4f0ff"/><rect x="31.08" y="23.18" width="3.66" height="3.43" fill="#e2d4f6"/><rect x="34.74" y="23.18" width="3.66" height="3.43" fill="#e2d4f6"/><rect x="5.46" y="23.18" width="3.66" height="3.43" fill="#e2d4f6"/><rect x="9.12" y="23.18" width="3.66" height="3.43" fill="#b8a6ea"/><rect x="16.44" y="26.61" width="3.66" height="3.43" fill="#e2d4f6"/><rect x="20.1" y="26.61" width="3.66" height="3.43" fill="#f4f0ff"/><rect x="38.4" y="26.61" width="3.66" height="3.43" fill="#e2d4f6"/><rect x="42.06" y="26.61" width="3.66" height="3.43" fill="#e2d4f6"/><rect x="38.4" y="30.04" width="3.66" height="3.43" fill="#b8a6ea"/><rect x="42.06" y="30.04" width="3.66" height="3.43" fill="#e2d4f6"/><rect x="12.78" y="33.47" width="3.66" height="3.43" fill="#e2d4f6"/><rect x="16.44" y="33.47" width="3.66" height="3.43" fill="#e2d4f6"/><rect x="12.78" y="36.9" width="3.66" height="3.43" fill="#e2d4f6"/><rect x="16.44" y="36.9" width="3.66" height="3.43" fill="#e2d4f6"/><rect x="23.76" y="33.47" width="3.66" height="3.43" fill="#e2d4f6"/><rect x="27.42" y="33.47" width="3.66" height="3.43" fill="#f4f0ff"/><rect x="23.76" y="36.9" width="3.66" height="3.43" fill="#b8a6ea"/><rect x="27.42" y="36.9" width="3.66" height="3.43" fill="#e2d4f6"/><use href="#gp3"/><g fill-opacity="0.65"><rect x="20.1" y="6.03" width="3.66" height="3.43" fill="#f4f0ff"/><rect x="23.76" y="6.03" width="3.66" height="3.43" fill="#e2d4f6"/><rect x="31.08" y="6.03" width="3.66" height="3.43" fill="#e2d4f6"/><rect x="34.74" y="6.03" width="3.66" height="3.43" fill="#e2d4f6"/><rect x="9.12" y="12.89" width="3.66" height="3.43" fill="#e2d4f6"/><rect x="12.78" y="12.89" width="3.66" height="3.43" fill="#f4f0ff"/><rect x="31.08" y="16.32" width="3.66" height="3.43" fill="#f4f0ff"/><rect x="34.74" y="16.32" width="3.66" height="3.43" fill="#f4f0ff"/><rect x="31.08" y="19.75" width="3.66" height="3.43" fill="#f4f0ff"/><rect x="34.74" y="19.75" width="3.66" height="3.43" fill="#f4f0ff"/><rect x="31.08" y="23.18" width="3.66" height="3.43" fill="#e2d4f6"/><rect x="34.74" y="23.18" width="3.66" height="3.43" fill="#e2d4f6"/><rect x="5.46" y="23.18" width="3.66" height="3.43" fill="#e2d4f6"/><rect x="9.12" y="23.18" width="3.66" height="3.43" fill="#b8a6ea"/><rect x="16.44" y="26.61" width="3.66" height="3.43" fill="#e2d4f6"/><rect x="20.1" y="26.61" width="3.66" height="3.43" fill="#f4f0ff"/><rect x="38.4" y="26.61" width="3.66" height="3.43" fill="#e2d4f6"/><rect x="42.06" y="26.61" width="3.66" height="3.43" fill="#e2d4f6"/><rect x="38.4" y="30.04" width="3.66" height="3.43" fill="#b8a6ea"/><rect x="42.06" y="30.04" width="3.66" height="3.43" fill="#e2d4f6"/><rect x="12.78" y="33.47" width="3.66" height="3.43" fill="#e2d4f6"/><rect x="16.44" y="33.47" width="3.66" height="3.43" fill="#e2d4f6"/><rect x="12.78" y="36.9" width="3.66" height="3.43" fill="#e2d4f6"/><rect x="16.44" y="36.9" width="3.66" height="3.43" fill="#e2d4f6"/><rect x="23.76" y="33.47" width="3.66" height="3.43" fill="#e2d4f6"/><rect x="27.42" y="33.47" width="3.66" height="3.43" fill="#f4f0ff"/><rect x="23.76" y="36.9" width="3.66" height="3.43" fill="#b8a6ea"/><rect x="27.42" y="36.9" width="3.66" height="3.43" fill="#e2d4f6"/></g></g></g><rect x="0.3" y="0.3" width="54.45" height="41.3" fill="none" stroke="#0c0c0c" stroke-width="0.5" stroke-opacity="0.8"/></g>
<g transform="translate(1.2 211.3)" clip-path="url(#fr0)"><g filter="url(#bl)"><rect x="-3" y="-3" width="66.3" height="55.3" fill="#262628"/><rect width="60.3" height="49.3" fill="#262628"/><path d="M0.5 27A29.8 26.2 0 0 1 60.1 27A29.8 300 0 0 1 0.5 27Z" fill="url(#rim)"/><path d="M1.6 27A28.7 25.1 0 0 1 59 27A28.7 298.9 0 0 1 1.6 27Z" fill="url(#cap)"/><g clip-path="url(#gm0)"><rect width="60.3" height="49.3" fill="url(#tg3_0)"/><use href="#nz0"/><rect x="25.77" y="3.74" width="3.72" height="3.44" fill="#f4f0ff"/><rect x="29.49" y="3.74" width="3.72" height="3.44" fill="#f4f0ff"/><rect x="25.77" y="7.18" width="3.72" height="3.44" fill="#e2d4f6"/><rect x="29.49" y="7.18" width="3.72" height="3.44" fill="#f4f0ff"/><rect x="14.61" y="14.06" width="3.72" height="3.44" fill="#e2d4f6"/><rect x="18.33" y="14.06" width="3.72" height="3.44" fill="#f4f0ff"/><rect x="33.21" y="17.5" width="3.72" height="3.44" fill="#f4f0ff"/><rect x="36.93" y="17.5" width="3.72" height="3.44" fill="#e2d4f6"/><rect x="14.61" y="20.94" width="3.72" height="3.44" fill="#e2d4f6"/><rect x="18.33" y="20.94" width="3.72" height="3.44" fill="#f4f0ff"/><rect x="33.21" y="24.38" width="3.72" height="3.44" fill="#e2d4f6"/><rect x="36.93" y="24.38" width="3.72" height="3.44" fill="#e2d4f6"/><rect x="22.05" y="27.82" width="3.72" height="3.44" fill="#f4f0ff"/><rect x="25.77" y="27.82" width="3.72" height="3.44" fill="#e2d4f6"/><rect x="36.93" y="31.26" width="3.72" height="3.44" fill="#e2d4f6"/><rect x="40.65" y="31.26" width="3.72" height="3.44" fill="#f4f0ff"/><rect x="36.93" y="34.7" width="3.72" height="3.44" fill="#f4f0ff"/><rect x="40.65" y="34.7" width="3.72" height="3.44" fill="#f4f0ff"/><rect x="14.61" y="38.14" width="3.72" height="3.44" fill="#e2d4f6"/><rect x="18.33" y="38.14" width="3.72" height="3.44" fill="#f4f0ff"/><rect x="25.77" y="41.58" width="3.72" height="3.44" fill="#e2d4f6"/><rect x="29.49" y="41.58" width="3.72" height="3.44" fill="#f4f0ff"/><rect x="25.77" y="45.02" width="3.72" height="3.44" fill="#e2d4f6"/><rect x="29.49" y="45.02" width="3.72" height="3.44" fill="#f4f0ff"/><use href="#gp0"/><g fill-opacity="0.65"><rect x="25.77" y="3.74" width="3.72" height="3.44" fill="#f4f0ff"/><rect x="29.49" y="3.74" width="3.72" height="3.44" fill="#f4f0ff"/><rect x="25.77" y="7.18" width="3.72" height="3.44" fill="#e2d4f6"/><rect x="29.49" y="7.18" width="3.72" height="3.44" fill="#f4f0ff"/><rect x="14.61" y="14.06" width="3.72" height="3.44" fill="#e2d4f6"/><rect x="18.33" y="14.06" width="3.72" height="3.44" fill="#f4f0ff"/><rect x="33.21" y="17.5" width="3.72" height="3.44" fill="#f4f0ff"/><rect x="36.93" y="17.5" width="3.72" height="3.44" fill="#e2d4f6"/><rect x="14.61" y="20.94" width="3.72" height="3.44" fill="#e2d4f6"/><rect x="18.33" y="20.94" width="3.72" height="3.44" fill="#f4f0ff"/><rect x="33.21" y="24.38" width="3.72" height="3.44" fill="#e2d4f6"/><rect x="36.93" y="24.38" width="3.72" height="3.44" fill="#e2d4f6"/><rect x="22.05" y="27.82" width="3.72" height="3.44" fill="#f4f0ff"/><rect x="25.77" y="27.82" width="3.72" height="3.44" fill="#e2d4f6"/><rect x="36.93" y="31.26" width="3.72" height="3.44" fill="#e2d4f6"/><rect x="40.65" y="31.26" width="3.72" height="3.44" fill="#f4f0ff"/><rect x="36.93" y="34.7" width="3.72" height="3.44" fill="#f4f0ff"/><rect x="40.65" y="34.7" width="3.72" height="3.44" fill="#f4f0ff"/><rect x="14.61" y="38.14" width="3.72" height="3.44" fill="#e2d4f6"/><rect x="18.33" y="38.14" width="3.72" height="3.44" fill="#f4f0ff"/><rect x="25.77" y="41.58" width="3.72" height="3.44" fill="#e2d4f6"/><rect x="29.49" y="41.58" width="3.72" height="3.44" fill="#f4f0ff"/><rect x="25.77" y="45.02" width="3.72" height="3.44" fill="#e2d4f6"/><rect x="29.49" y="45.02" width="3.72" height="3.44" fill="#f4f0ff"/></g></g></g><rect x="0.3" y="0.3" width="59.7" height="48.7" fill="none" stroke="#0c0c0c" stroke-width="0.5" stroke-opacity="0.8"/></g>
<g transform="translate(66.05 213.45)" clip-path="url(#fr1)"><g filter="url(#bl)"><rect x="-3" y="-3" width="66.95" height="53.1" fill="#29292b"/><rect width="60.95" height="47.1" fill="#29292b"/><path d="M0.6 28A30 27.6 0 0 1 60.6 28A30 300 0 0 1 0.6 28Z" fill="url(#rim)"/><path d="M1.7 28A28.9 26.5 0 0 1 59.5 28A28.9 298.9 0 0 1 1.7 28Z" fill="url(#cap)"/><g clip-path="url(#gm1)"><rect width="60.95" height="47.1" fill="url(#tg3_1)"/><use href="#nz1"/><rect x="26.1" y="2.2" width="3.68" height="3.3" fill="#b8a6ea"/><rect x="29.78" y="2.2" width="3.68" height="3.3" fill="#b8a6ea"/><rect x="18.74" y="5.5" width="3.68" height="3.3" fill="#f4f0ff"/><rect x="22.42" y="5.5" width="3.68" height="3.3" fill="#e2d4f6"/><rect x="15.06" y="12.1" width="3.68" height="3.3" fill="#e2d4f6"/><rect x="18.74" y="12.1" width="3.68" height="3.3" fill="#f4f0ff"/><rect x="33.46" y="15.4" width="3.68" height="3.3" fill="#f4f0ff"/><rect x="37.14" y="15.4" width="3.68" height="3.3" fill="#f4f0ff"/><rect x="33.46" y="18.7" width="3.68" height="3.3" fill="#f4f0ff"/><rect x="37.14" y="18.7" width="3.68" height="3.3" fill="#f4f0ff"/><rect x="11.38" y="25.3" width="3.68" height="3.3" fill="#e2d4f6"/><rect x="15.06" y="25.3" width="3.68" height="3.3" fill="#f4f0ff"/><rect x="11.38" y="28.6" width="3.68" height="3.3" fill="#e2d4f6"/><rect x="15.06" y="28.6" width="3.68" height="3.3" fill="#e2d4f6"/><rect x="11.38" y="31.9" width="3.68" height="3.3" fill="#e2d4f6"/><rect x="15.06" y="31.9" width="3.68" height="3.3" fill="#b8a6ea"/><rect x="33.46" y="28.6" width="3.68" height="3.3" fill="#e2d4f6"/><rect x="37.14" y="28.6" width="3.68" height="3.3" fill="#e2d4f6"/><rect x="40.82" y="31.9" width="3.68" height="3.3" fill="#e2d4f6"/><rect x="44.5" y="31.9" width="3.68" height="3.3" fill="#f4f0ff"/><rect x="15.06" y="35.2" width="3.68" height="3.3" fill="#f4f0ff"/><rect x="18.74" y="35.2" width="3.68" height="3.3" fill="#e2d4f6"/><rect x="26.1" y="38.5" width="3.68" height="3.3" fill="#e2d4f6"/><rect x="29.78" y="38.5" width="3.68" height="3.3" fill="#e2d4f6"/><rect x="26.1" y="41.8" width="3.68" height="3.3" fill="#e2d4f6"/><rect x="29.78" y="41.8" width="3.68" height="3.3" fill="#f4f0ff"/><use href="#gp1"/><g fill-opacity="0.65"><rect x="26.1" y="2.2" width="3.68" height="3.3" fill="#b8a6ea"/><rect x="29.78" y="2.2" width="3.68" height="3.3" fill="#b8a6ea"/><rect x="18.74" y="5.5" width="3.68" height="3.3" fill="#f4f0ff"/><rect x="22.42" y="5.5" width="3.68" height="3.3" fill="#e2d4f6"/><rect x="15.06" y="12.1" width="3.68" height="3.3" fill="#e2d4f6"/><rect x="18.74" y="12.1" width="3.68" height="3.3" fill="#f4f0ff"/><rect x="33.46" y="15.4" width="3.68" height="3.3" fill="#f4f0ff"/><rect x="37.14" y="15.4" width="3.68" height="3.3" fill="#f4f0ff"/><rect x="33.46" y="18.7" width="3.68" height="3.3" fill="#f4f0ff"/><rect x="37.14" y="18.7" width="3.68" height="3.3" fill="#f4f0ff"/><rect x="11.38" y="25.3" width="3.68" height="3.3" fill="#e2d4f6"/><rect x="15.06" y="25.3" width="3.68" height="3.3" fill="#f4f0ff"/><rect x="11.38" y="28.6" width="3.68" height="3.3" fill="#e2d4f6"/><rect x="15.06" y="28.6" width="3.68" height="3.3" fill="#e2d4f6"/><rect x="11.38" y="31.9" width="3.68" height="3.3" fill="#e2d4f6"/><rect x="15.06" y="31.9" width="3.68" height="3.3" fill="#b8a6ea"/><rect x="33.46" y="28.6" width="3.68" height="3.3" fill="#e2d4f6"/><rect x="37.14" y="28.6" width="3.68" height="3.3" fill="#e2d4f6"/><rect x="40.82" y="31.9" width="3.68" height="3.3" fill="#e2d4f6"/><rect x="44.5" y="31.9" width="3.68" height="3.3" fill="#f4f0ff"/><rect x="15.06" y="35.2" width="3.68" height="3.3" fill="#f4f0ff"/><rect x="18.74" y="35.2" width="3.68" height="3.3" fill="#e2d4f6"/><rect x="26.1" y="38.5" width="3.68" height="3.3" fill="#e2d4f6"/><rect x="29.78" y="38.5" width="3.68" height="3.3" fill="#e2d4f6"/><rect x="26.1" y="41.8" width="3.68" height="3.3" fill="#e2d4f6"/><rect x="29.78" y="41.8" width="3.68" height="3.3" fill="#f4f0ff"/></g></g></g><rect x="0.3" y="0.3" width="60.35" height="46.5" fill="none" stroke="#0c0c0c" stroke-width="0.5" stroke-opacity="0.8"/></g>
<g transform="translate(131.1 215.25)" clip-path="url(#fr2)"><g filter="url(#bl)"><rect x="-3" y="-3" width="64.7" height="51.3" fill="#2e2e2f"/><rect width="58.7" height="45.3" fill="#2e2e2f"/><path d="M0.5 27.25A29 26.6 0 0 1 58.5 27.25A29 70 0 0 1 0.5 27.25Z" fill="url(#rim)"/><path d="M1.6 27.25A27.9 25.5 0 0 1 57.4 27.25A27.9 68.9 0 0 1 1.6 27.25Z" fill="url(#cap)"/><g clip-path="url(#gm2)"><rect width="58.7" height="45.3" fill="url(#tg3_2)"/><use href="#nz2"/><rect x="20.45" y="2.15" width="3.84" height="3.6" fill="#e2d4f6"/><rect x="24.29" y="2.15" width="3.84" height="3.6" fill="#e2d4f6"/><rect x="35.81" y="2.15" width="3.84" height="3.6" fill="#e2d4f6"/><rect x="39.65" y="2.15" width="3.84" height="3.6" fill="#e2d4f6"/><rect x="16.61" y="9.35" width="3.84" height="3.6" fill="#f4f0ff"/><rect x="20.45" y="9.35" width="3.84" height="3.6" fill="#f4f0ff"/><rect x="12.77" y="9.35" width="3.84" height="3.6" fill="#e2d4f6"/><rect x="43.49" y="9.35" width="3.84" height="3.6" fill="#e2d4f6"/><rect x="47.33" y="9.35" width="3.84" height="3.6" fill="#b8a6ea"/><rect x="20.45" y="16.55" width="3.84" height="3.6" fill="#e2d4f6"/><rect x="24.29" y="16.55" width="3.84" height="3.6" fill="#f4f0ff"/><rect x="20.45" y="20.15" width="3.84" height="3.6" fill="#f4f0ff"/><rect x="24.29" y="20.15" width="3.84" height="3.6" fill="#e2d4f6"/><rect x="12.77" y="27.35" width="3.84" height="3.6" fill="#e2d4f6"/><rect x="16.61" y="27.35" width="3.84" height="3.6" fill="#e2d4f6"/><rect x="31.97" y="27.35" width="3.84" height="3.6" fill="#e2d4f6"/><rect x="35.81" y="27.35" width="3.84" height="3.6" fill="#f4f0ff"/><rect x="31.97" y="30.95" width="3.84" height="3.6" fill="#e2d4f6"/><rect x="35.81" y="30.95" width="3.84" height="3.6" fill="#e2d4f6"/><rect x="5.09" y="34.55" width="3.84" height="3.6" fill="#e2d4f6"/><rect x="8.93" y="34.55" width="3.84" height="3.6" fill="#e2d4f6"/><rect x="8.93" y="38.15" width="3.84" height="3.6" fill="#b8a6ea"/><rect x="24.29" y="38.15" width="3.84" height="3.6" fill="#e2d4f6"/><rect x="28.13" y="38.15" width="3.84" height="3.6" fill="#e2d4f6"/><rect x="24.29" y="41.75" width="3.84" height="3.6" fill="#f4f0ff"/><rect x="28.13" y="41.75" width="3.84" height="3.6" fill="#e2d4f6"/><rect x="51.17" y="34.55" width="3.84" height="3.6" fill="#e2d4f6"/><use href="#gp2"/><g fill-opacity="0.65"><rect x="20.45" y="2.15" width="3.84" height="3.6" fill="#e2d4f6"/><rect x="24.29" y="2.15" width="3.84" height="3.6" fill="#e2d4f6"/><rect x="35.81" y="2.15" width="3.84" height="3.6" fill="#e2d4f6"/><rect x="39.65" y="2.15" width="3.84" height="3.6" fill="#e2d4f6"/><rect x="16.61" y="9.35" width="3.84" height="3.6" fill="#f4f0ff"/><rect x="20.45" y="9.35" width="3.84" height="3.6" fill="#f4f0ff"/><rect x="12.77" y="9.35" width="3.84" height="3.6" fill="#e2d4f6"/><rect x="43.49" y="9.35" width="3.84" height="3.6" fill="#e2d4f6"/><rect x="47.33" y="9.35" width="3.84" height="3.6" fill="#b8a6ea"/><rect x="20.45" y="16.55" width="3.84" height="3.6" fill="#e2d4f6"/><rect x="24.29" y="16.55" width="3.84" height="3.6" fill="#f4f0ff"/><rect x="20.45" y="20.15" width="3.84" height="3.6" fill="#f4f0ff"/><rect x="24.29" y="20.15" width="3.84" height="3.6" fill="#e2d4f6"/><rect x="12.77" y="27.35" width="3.84" height="3.6" fill="#e2d4f6"/><rect x="16.61" y="27.35" width="3.84" height="3.6" fill="#e2d4f6"/><rect x="31.97" y="27.35" width="3.84" height="3.6" fill="#e2d4f6"/><rect x="35.81" y="27.35" width="3.84" height="3.6" fill="#f4f0ff"/><rect x="31.97" y="30.95" width="3.84" height="3.6" fill="#e2d4f6"/><rect x="35.81" y="30.95" width="3.84" height="3.6" fill="#e2d4f6"/><rect x="5.09" y="34.55" width="3.84" height="3.6" fill="#e2d4f6"/><rect x="8.93" y="34.55" width="3.84" height="3.6" fill="#e2d4f6"/><rect x="8.93" y="38.15" width="3.84" height="3.6" fill="#b8a6ea"/><rect x="24.29" y="38.15" width="3.84" height="3.6" fill="#e2d4f6"/><rect x="28.13" y="38.15" width="3.84" height="3.6" fill="#e2d4f6"/><rect x="24.29" y="41.75" width="3.84" height="3.6" fill="#f4f0ff"/><rect x="28.13" y="41.75" width="3.84" height="3.6" fill="#e2d4f6"/><rect x="51.17" y="34.55" width="3.84" height="3.6" fill="#e2d4f6"/></g></g></g><rect x="0.3" y="0.3" width="58.1" height="44.7" fill="none" stroke="#0c0c0c" stroke-width="0.5" stroke-opacity="0.8"/></g>
<g transform="translate(193.7 218.6)" clip-path="url(#fr3)"><g filter="url(#bl)"><rect x="-3" y="-3" width="61.05" height="47.9" fill="#38383a"/><rect width="55.05" height="41.9" fill="#38383a"/><path d="M0.9 25.4A27 23.6 0 0 1 54.9 25.4A27 200 0 0 1 0.9 25.4Z" fill="url(#rim)"/><path d="M2 25.4A25.9 22.5 0 0 1 53.8 25.4A25.9 198.9 0 0 1 2 25.4Z" fill="url(#cap)"/><g clip-path="url(#gm3)"><rect width="55.05" height="41.9" fill="url(#tg3_3)"/><use href="#nz3"/><rect x="20.1" y="6.03" width="3.66" height="3.43" fill="#f4f0ff"/><rect x="23.76" y="6.03" width="3.66" height="3.43" fill="#e2d4f6"/><rect x="31.08" y="6.03" width="3.66" height="3.43" fill="#e2d4f6"/><rect x="34.74" y="6.03" width="3.66" height="3.43" fill="#e2d4f6"/><rect x="9.12" y="12.89" width="3.66" height="3.43" fill="#e2d4f6"/><rect x="12.78" y="12.89" width="3.66" height="3.43" fill="#f4f0ff"/><rect x="31.08" y="16.32" width="3.66" height="3.43" fill="#f4f0ff"/><rect x="34.74" y="16.32" width="3.66" height="3.43" fill="#f4f0ff"/><rect x="31.08" y="19.75" width="3.66" height="3.43" fill="#f4f0ff"/><rect x="34.74" y="19.75" width="3.66" height="3.43" fill="#f4f0ff"/><rect x="31.08" y="23.18" width="3.66" height="3.43" fill="#e2d4f6"/><rect x="34.74" y="23.18" width="3.66" height="3.43" fill="#e2d4f6"/><rect x="5.46" y="23.18" width="3.66" height="3.43" fill="#e2d4f6"/><rect x="9.12" y="23.18" width="3.66" height="3.43" fill="#e2d4f6"/><rect x="16.44" y="26.61" width="3.66" height="3.43" fill="#e2d4f6"/><rect x="20.1" y="26.61" width="3.66" height="3.43" fill="#f4f0ff"/><rect x="38.4" y="26.61" width="3.66" height="3.43" fill="#e2d4f6"/><rect x="42.06" y="26.61" width="3.66" height="3.43" fill="#e2d4f6"/><rect x="38.4" y="30.04" width="3.66" height="3.43" fill="#f4f0ff"/><rect x="42.06" y="30.04" width="3.66" height="3.43" fill="#e2d4f6"/><rect x="12.78" y="33.47" width="3.66" height="3.43" fill="#e2d4f6"/><rect x="16.44" y="33.47" width="3.66" height="3.43" fill="#e2d4f6"/><rect x="12.78" y="36.9" width="3.66" height="3.43" fill="#e2d4f6"/><rect x="16.44" y="36.9" width="3.66" height="3.43" fill="#e2d4f6"/><rect x="23.76" y="33.47" width="3.66" height="3.43" fill="#e2d4f6"/><rect x="27.42" y="33.47" width="3.66" height="3.43" fill="#f4f0ff"/><rect x="23.76" y="36.9" width="3.66" height="3.43" fill="#e2d4f6"/><rect x="27.42" y="36.9" width="3.66" height="3.43" fill="#e2d4f6"/><use href="#gp3"/><g fill-opacity="0.65"><rect x="20.1" y="6.03" width="3.66" height="3.43" fill="#f4f0ff"/><rect x="23.76" y="6.03" width="3.66" height="3.43" fill="#e2d4f6"/><rect x="31.08" y="6.03" width="3.66" height="3.43" fill="#e2d4f6"/><rect x="34.74" y="6.03" width="3.66" height="3.43" fill="#e2d4f6"/><rect x="9.12" y="12.89" width="3.66" height="3.43" fill="#e2d4f6"/><rect x="12.78" y="12.89" width="3.66" height="3.43" fill="#f4f0ff"/><rect x="31.08" y="16.32" width="3.66" height="3.43" fill="#f4f0ff"/><rect x="34.74" y="16.32" width="3.66" height="3.43" fill="#f4f0ff"/><rect x="31.08" y="19.75" width="3.66" height="3.43" fill="#f4f0ff"/><rect x="34.74" y="19.75" width="3.66" height="3.43" fill="#f4f0ff"/><rect x="31.08" y="23.18" width="3.66" height="3.43" fill="#e2d4f6"/><rect x="34.74" y="23.18" width="3.66" height="3.43" fill="#e2d4f6"/><rect x="5.46" y="23.18" width="3.66" height="3.43" fill="#e2d4f6"/><rect x="9.12" y="23.18" width="3.66" height="3.43" fill="#e2d4f6"/><rect x="16.44" y="26.61" width="3.66" height="3.43" fill="#e2d4f6"/><rect x="20.1" y="26.61" width="3.66" height="3.43" fill="#f4f0ff"/><rect x="38.4" y="26.61" width="3.66" height="3.43" fill="#e2d4f6"/><rect x="42.06" y="26.61" width="3.66" height="3.43" fill="#e2d4f6"/><rect x="38.4" y="30.04" width="3.66" height="3.43" fill="#f4f0ff"/><rect x="42.06" y="30.04" width="3.66" height="3.43" fill="#e2d4f6"/><rect x="12.78" y="33.47" width="3.66" height="3.43" fill="#e2d4f6"/><rect x="16.44" y="33.47" width="3.66" height="3.43" fill="#e2d4f6"/><rect x="12.78" y="36.9" width="3.66" height="3.43" fill="#e2d4f6"/><rect x="16.44" y="36.9" width="3.66" height="3.43" fill="#e2d4f6"/><rect x="23.76" y="33.47" width="3.66" height="3.43" fill="#e2d4f6"/><rect x="27.42" y="33.47" width="3.66" height="3.43" fill="#f4f0ff"/><rect x="23.76" y="36.9" width="3.66" height="3.43" fill="#e2d4f6"/><rect x="27.42" y="36.9" width="3.66" height="3.43" fill="#e2d4f6"/></g></g></g><rect x="0.3" y="0.3" width="54.45" height="41.3" fill="none" stroke="#0c0c0c" stroke-width="0.5" stroke-opacity="0.8"/></g>
<g transform="translate(1.2 286.1)" clip-path="url(#fr0)"><g filter="url(#bl)"><rect x="-3" y="-3" width="66.3" height="55.3" fill="#262628"/><rect width="60.3" height="49.3" fill="#262628"/><path d="M0.5 27A29.8 26.2 0 0 1 60.1 27A29.8 300 0 0 1 0.5 27Z" fill="url(#rim)"/><path d="M1.6 27A28.7 25.1 0 0 1 59 27A28.7 298.9 0 0 1 1.6 27Z" fill="url(#cap)"/><g clip-path="url(#gm0)"><rect width="60.3" height="49.3" fill="url(#tg4_0)"/><use href="#nz0"/><rect x="25.77" y="3.74" width="3.72" height="3.44" fill="#43107a"/><rect x="29.49" y="3.74" width="3.72" height="3.44" fill="#2c0a50"/><rect x="25.77" y="7.18" width="3.72" height="3.44" fill="#2f7fb8"/><rect x="29.49" y="7.18" width="3.72" height="3.44" fill="#43107a"/><rect x="14.61" y="14.06" width="3.72" height="3.44" fill="#43107a"/><rect x="18.33" y="14.06" width="3.72" height="3.44" fill="#f7ea1c"/><rect x="33.21" y="17.5" width="3.72" height="3.44" fill="#f7ea1c"/><rect x="36.93" y="17.5" width="3.72" height="3.44" fill="#f7ea1c"/><rect x="14.61" y="20.94" width="3.72" height="3.44" fill="#2f7fb8"/><rect x="18.33" y="20.94" width="3.72" height="3.44" fill="#2f7fb8"/><rect x="33.21" y="24.38" width="3.72" height="3.44" fill="#2f7fb8"/><rect x="36.93" y="24.38" width="3.72" height="3.44" fill="#2f7fb8"/><rect x="22.05" y="27.82" width="3.72" height="3.44" fill="#2c0a50"/><rect x="25.77" y="27.82" width="3.72" height="3.44" fill="#2f7fb8"/><rect x="36.93" y="31.26" width="3.72" height="3.44" fill="#2f7fb8"/><rect x="40.65" y="31.26" width="3.72" height="3.44" fill="#2f7fb8"/><rect x="36.93" y="34.7" width="3.72" height="3.44" fill="#2f7fb8"/><rect x="40.65" y="34.7" width="3.72" height="3.44" fill="#2f7fb8"/><rect x="14.61" y="38.14" width="3.72" height="3.44" fill="#2fc070"/><rect x="18.33" y="38.14" width="3.72" height="3.44" fill="#2c0a50"/><rect x="25.77" y="41.58" width="3.72" height="3.44" fill="#43107a"/><rect x="29.49" y="41.58" width="3.72" height="3.44" fill="#2c0a50"/><rect x="25.77" y="45.02" width="3.72" height="3.44" fill="#43107a"/><rect x="29.49" y="45.02" width="3.72" height="3.44" fill="#2f7fb8"/><use href="#gp0"/><g fill-opacity="0.65"><rect x="25.77" y="3.74" width="3.72" height="3.44" fill="#43107a"/><rect x="29.49" y="3.74" width="3.72" height="3.44" fill="#2c0a50"/><rect x="25.77" y="7.18" width="3.72" height="3.44" fill="#2f7fb8"/><rect x="29.49" y="7.18" width="3.72" height="3.44" fill="#43107a"/><rect x="14.61" y="14.06" width="3.72" height="3.44" fill="#43107a"/><rect x="18.33" y="14.06" width="3.72" height="3.44" fill="#f7ea1c"/><rect x="33.21" y="17.5" width="3.72" height="3.44" fill="#f7ea1c"/><rect x="36.93" y="17.5" width="3.72" height="3.44" fill="#f7ea1c"/><rect x="14.61" y="20.94" width="3.72" height="3.44" fill="#2f7fb8"/><rect x="18.33" y="20.94" width="3.72" height="3.44" fill="#2f7fb8"/><rect x="33.21" y="24.38" width="3.72" height="3.44" fill="#2f7fb8"/><rect x="36.93" y="24.38" width="3.72" height="3.44" fill="#2f7fb8"/><rect x="22.05" y="27.82" width="3.72" height="3.44" fill="#2c0a50"/><rect x="25.77" y="27.82" width="3.72" height="3.44" fill="#2f7fb8"/><rect x="36.93" y="31.26" width="3.72" height="3.44" fill="#2f7fb8"/><rect x="40.65" y="31.26" width="3.72" height="3.44" fill="#2f7fb8"/><rect x="36.93" y="34.7" width="3.72" height="3.44" fill="#2f7fb8"/><rect x="40.65" y="34.7" width="3.72" height="3.44" fill="#2f7fb8"/><rect x="14.61" y="38.14" width="3.72" height="3.44" fill="#2fc070"/><rect x="18.33" y="38.14" width="3.72" height="3.44" fill="#2c0a50"/><rect x="25.77" y="41.58" width="3.72" height="3.44" fill="#43107a"/><rect x="29.49" y="41.58" width="3.72" height="3.44" fill="#2c0a50"/><rect x="25.77" y="45.02" width="3.72" height="3.44" fill="#43107a"/><rect x="29.49" y="45.02" width="3.72" height="3.44" fill="#2f7fb8"/></g></g></g><rect x="0.3" y="0.3" width="59.7" height="48.7" fill="none" stroke="#0c0c0c" stroke-width="0.5" stroke-opacity="0.8"/></g>
<g transform="translate(66.05 288.25)" clip-path="url(#fr1)"><g filter="url(#bl)"><rect x="-3" y="-3" width="66.95" height="53.1" fill="#29292b"/><rect width="60.95" height="47.1" fill="#29292b"/><path d="M0.6 28A30 27.6 0 0 1 60.6 28A30 300 0 0 1 0.6 28Z" fill="url(#rim)"/><path d="M1.7 28A28.9 26.5 0 0 1 59.5 28A28.9 298.9 0 0 1 1.7 28Z" fill="url(#cap)"/><g clip-path="url(#gm1)"><rect width="60.95" height="47.1" fill="url(#tg4_1)"/><use href="#nz1"/><rect x="26.1" y="2.2" width="3.68" height="3.3" fill="#2c0a50"/><rect x="29.78" y="2.2" width="3.68" height="3.3" fill="#43107a"/><rect x="18.74" y="5.5" width="3.68" height="3.3" fill="#f7ea1c"/><rect x="22.42" y="5.5" width="3.68" height="3.3" fill="#2fc070"/><rect x="15.06" y="12.1" width="3.68" height="3.3" fill="#2fc070"/><rect x="18.74" y="12.1" width="3.68" height="3.3" fill="#2f7fb8"/><rect x="33.46" y="15.4" width="3.68" height="3.3" fill="#f7ea1c"/><rect x="37.14" y="15.4" width="3.68" height="3.3" fill="#f7ea1c"/><rect x="33.46" y="18.7" width="3.68" height="3.3" fill="#f7ea1c"/><rect x="37.14" y="18.7" width="3.68" height="3.3" fill="#f7ea1c"/><rect x="11.38" y="25.3" width="3.68" height="3.3" fill="#2f7fb8"/><rect x="15.06" y="25.3" width="3.68" height="3.3" fill="#2f7fb8"/><rect x="11.38" y="28.6" width="3.68" height="3.3" fill="#2f7fb8"/><rect x="15.06" y="28.6" width="3.68" height="3.3" fill="#2f7fb8"/><rect x="11.38" y="31.9" width="3.68" height="3.3" fill="#2f7fb8"/><rect x="15.06" y="31.9" width="3.68" height="3.3" fill="#2f7fb8"/><rect x="33.46" y="28.6" width="3.68" height="3.3" fill="#2f7fb8"/><rect x="37.14" y="28.6" width="3.68" height="3.3" fill="#2f7fb8"/><rect x="40.82" y="31.9" width="3.68" height="3.3" fill="#2f7fb8"/><rect x="44.5" y="31.9" width="3.68" height="3.3" fill="#2f7fb8"/><rect x="15.06" y="35.2" width="3.68" height="3.3" fill="#2f7fb8"/><rect x="18.74" y="35.2" width="3.68" height="3.3" fill="#2c0a50"/><rect x="26.1" y="38.5" width="3.68" height="3.3" fill="#2c0a50"/><rect x="29.78" y="38.5" width="3.68" height="3.3" fill="#2f7fb8"/><rect x="26.1" y="41.8" width="3.68" height="3.3" fill="#43107a"/><rect x="29.78" y="41.8" width="3.68" height="3.3" fill="#2f7fb8"/><use href="#gp1"/><g fill-opacity="0.65"><rect x="26.1" y="2.2" width="3.68" height="3.3" fill="#2c0a50"/><rect x="29.78" y="2.2" width="3.68" height="3.3" fill="#43107a"/><rect x="18.74" y="5.5" width="3.68" height="3.3" fill="#f7ea1c"/><rect x="22.42" y="5.5" width="3.68" height="3.3" fill="#2fc070"/><rect x="15.06" y="12.1" width="3.68" height="3.3" fill="#2fc070"/><rect x="18.74" y="12.1" width="3.68" height="3.3" fill="#2f7fb8"/><rect x="33.46" y="15.4" width="3.68" height="3.3" fill="#f7ea1c"/><rect x="37.14" y="15.4" width="3.68" height="3.3" fill="#f7ea1c"/><rect x="33.46" y="18.7" width="3.68" height="3.3" fill="#f7ea1c"/><rect x="37.14" y="18.7" width="3.68" height="3.3" fill="#f7ea1c"/><rect x="11.38" y="25.3" width="3.68" height="3.3" fill="#2f7fb8"/><rect x="15.06" y="25.3" width="3.68" height="3.3" fill="#2f7fb8"/><rect x="11.38" y="28.6" width="3.68" height="3.3" fill="#2f7fb8"/><rect x="15.06" y="28.6" width="3.68" height="3.3" fill="#2f7fb8"/><rect x="11.38" y="31.9" width="3.68" height="3.3" fill="#2f7fb8"/><rect x="15.06" y="31.9" width="3.68" height="3.3" fill="#2f7fb8"/><rect x="33.46" y="28.6" width="3.68" height="3.3" fill="#2f7fb8"/><rect x="37.14" y="28.6" width="3.68" height="3.3" fill="#2f7fb8"/><rect x="40.82" y="31.9" width="3.68" height="3.3" fill="#2f7fb8"/><rect x="44.5" y="31.9" width="3.68" height="3.3" fill="#2f7fb8"/><rect x="15.06" y="35.2" width="3.68" height="3.3" fill="#2f7fb8"/><rect x="18.74" y="35.2" width="3.68" height="3.3" fill="#2c0a50"/><rect x="26.1" y="38.5" width="3.68" height="3.3" fill="#2c0a50"/><rect x="29.78" y="38.5" width="3.68" height="3.3" fill="#2f7fb8"/><rect x="26.1" y="41.8" width="3.68" height="3.3" fill="#43107a"/><rect x="29.78" y="41.8" width="3.68" height="3.3" fill="#2f7fb8"/></g></g></g><rect x="0.3" y="0.3" width="60.35" height="46.5" fill="none" stroke="#0c0c0c" stroke-width="0.5" stroke-opacity="0.8"/></g>
<g transform="translate(131.1 290.05)" clip-path="url(#fr2)"><g filter="url(#bl)"><rect x="-3" y="-3" width="64.7" height="51.3" fill="#2e2e2f"/><rect width="58.7" height="45.3" fill="#2e2e2f"/><path d="M0.5 27.25A29 26.6 0 0 1 58.5 27.25A29 70 0 0 1 0.5 27.25Z" fill="url(#rim)"/><path d="M1.6 27.25A27.9 25.5 0 0 1 57.4 27.25A27.9 68.9 0 0 1 1.6 27.25Z" fill="url(#cap)"/><g clip-path="url(#gm2)"><rect width="58.7" height="45.3" fill="url(#tg4_2)"/><use href="#nz2"/><rect x="20.45" y="2.15" width="3.84" height="3.6" fill="#2f7fb8"/><rect x="24.29" y="2.15" width="3.84" height="3.6" fill="#43107a"/><rect x="35.81" y="2.15" width="3.84" height="3.6" fill="#43107a"/><rect x="39.65" y="2.15" width="3.84" height="3.6" fill="#2c0a50"/><rect x="16.61" y="9.35" width="3.84" height="3.6" fill="#2c0a50"/><rect x="20.45" y="9.35" width="3.84" height="3.6" fill="#f7ea1c"/><rect x="12.77" y="9.35" width="3.84" height="3.6" fill="#f7ea1c"/><rect x="43.49" y="9.35" width="3.84" height="3.6" fill="#2fc070"/><rect x="47.33" y="9.35" width="3.84" height="3.6" fill="#2f7fb8"/><rect x="20.45" y="16.55" width="3.84" height="3.6" fill="#2f7fb8"/><rect x="24.29" y="16.55" width="3.84" height="3.6" fill="#2f7fb8"/><rect x="20.45" y="20.15" width="3.84" height="3.6" fill="#2f7fb8"/><rect x="24.29" y="20.15" width="3.84" height="3.6" fill="#2f7fb8"/><rect x="12.77" y="27.35" width="3.84" height="3.6" fill="#2f7fb8"/><rect x="16.61" y="27.35" width="3.84" height="3.6" fill="#2f7fb8"/><rect x="31.97" y="27.35" width="3.84" height="3.6" fill="#2f7fb8"/><rect x="35.81" y="27.35" width="3.84" height="3.6" fill="#2f7fb8"/><rect x="31.97" y="30.95" width="3.84" height="3.6" fill="#2f7fb8"/><rect x="35.81" y="30.95" width="3.84" height="3.6" fill="#2f7fb8"/><rect x="5.09" y="34.55" width="3.84" height="3.6" fill="#2f7fb8"/><rect x="8.93" y="34.55" width="3.84" height="3.6" fill="#f7ea1c"/><rect x="8.93" y="38.15" width="3.84" height="3.6" fill="#43107a"/><rect x="24.29" y="38.15" width="3.84" height="3.6" fill="#2f7fb8"/><rect x="28.13" y="38.15" width="3.84" height="3.6" fill="#2f7fb8"/><rect x="24.29" y="41.75" width="3.84" height="3.6" fill="#2f7fb8"/><rect x="28.13" y="41.75" width="3.84" height="3.6" fill="#2f7fb8"/><rect x="51.17" y="34.55" width="3.84" height="3.6" fill="#43107a"/><use href="#gp2"/><g fill-opacity="0.65"><rect x="20.45" y="2.15" width="3.84" height="3.6" fill="#2f7fb8"/><rect x="24.29" y="2.15" width="3.84" height="3.6" fill="#43107a"/><rect x="35.81" y="2.15" width="3.84" height="3.6" fill="#43107a"/><rect x="39.65" y="2.15" width="3.84" height="3.6" fill="#2c0a50"/><rect x="16.61" y="9.35" width="3.84" height="3.6" fill="#2c0a50"/><rect x="20.45" y="9.35" width="3.84" height="3.6" fill="#f7ea1c"/><rect x="12.77" y="9.35" width="3.84" height="3.6" fill="#f7ea1c"/><rect x="43.49" y="9.35" width="3.84" height="3.6" fill="#2fc070"/><rect x="47.33" y="9.35" width="3.84" height="3.6" fill="#2f7fb8"/><rect x="20.45" y="16.55" width="3.84" height="3.6" fill="#2f7fb8"/><rect x="24.29" y="16.55" width="3.84" height="3.6" fill="#2f7fb8"/><rect x="20.45" y="20.15" width="3.84" height="3.6" fill="#2f7fb8"/><rect x="24.29" y="20.15" width="3.84" height="3.6" fill="#2f7fb8"/><rect x="12.77" y="27.35" width="3.84" height="3.6" fill="#2f7fb8"/><rect x="16.61" y="27.35" width="3.84" height="3.6" fill="#2f7fb8"/><rect x="31.97" y="27.35" width="3.84" height="3.6" fill="#2f7fb8"/><rect x="35.81" y="27.35" width="3.84" height="3.6" fill="#2f7fb8"/><rect x="31.97" y="30.95" width="3.84" height="3.6" fill="#2f7fb8"/><rect x="35.81" y="30.95" width="3.84" height="3.6" fill="#2f7fb8"/><rect x="5.09" y="34.55" width="3.84" height="3.6" fill="#2f7fb8"/><rect x="8.93" y="34.55" width="3.84" height="3.6" fill="#f7ea1c"/><rect x="8.93" y="38.15" width="3.84" height="3.6" fill="#43107a"/><rect x="24.29" y="38.15" width="3.84" height="3.6" fill="#2f7fb8"/><rect x="28.13" y="38.15" width="3.84" height="3.6" fill="#2f7fb8"/><rect x="24.29" y="41.75" width="3.84" height="3.6" fill="#2f7fb8"/><rect x="28.13" y="41.75" width="3.84" height="3.6" fill="#2f7fb8"/><rect x="51.17" y="34.55" width="3.84" height="3.6" fill="#43107a"/></g></g></g><rect x="0.3" y="0.3" width="58.1" height="44.7" fill="none" stroke="#0c0c0c" stroke-width="0.5" stroke-opacity="0.8"/></g>
<g transform="translate(193.7 293.4)" clip-path="url(#fr3)"><g filter="url(#bl)"><rect x="-3" y="-3" width="61.05" height="47.9" fill="#38383a"/><rect width="55.05" height="41.9" fill="#38383a"/><path d="M0.9 25.4A27 23.6 0 0 1 54.9 25.4A27 200 0 0 1 0.9 25.4Z" fill="url(#rim)"/><path d="M2 25.4A25.9 22.5 0 0 1 53.8 25.4A25.9 198.9 0 0 1 2 25.4Z" fill="url(#cap)"/><g clip-path="url(#gm3)"><rect width="55.05" height="41.9" fill="url(#tg4_3)"/><use href="#nz3"/><rect x="20.1" y="6.03" width="3.66" height="3.43" fill="#2fc070"/><rect x="23.76" y="6.03" width="3.66" height="3.43" fill="#2f7fb8"/><rect x="31.08" y="6.03" width="3.66" height="3.43" fill="#43107a"/><rect x="34.74" y="6.03" width="3.66" height="3.43" fill="#2c0a50"/><rect x="9.12" y="12.89" width="3.66" height="3.43" fill="#f7ea1c"/><rect x="12.78" y="12.89" width="3.66" height="3.43" fill="#2c0a50"/><rect x="31.08" y="16.32" width="3.66" height="3.43" fill="#f7ea1c"/><rect x="34.74" y="16.32" width="3.66" height="3.43" fill="#f7ea1c"/><rect x="31.08" y="19.75" width="3.66" height="3.43" fill="#f7ea1c"/><rect x="34.74" y="19.75" width="3.66" height="3.43" fill="#f7ea1c"/><rect x="31.08" y="23.18" width="3.66" height="3.43" fill="#f3ee9a"/><rect x="34.74" y="23.18" width="3.66" height="3.43" fill="#f3ee9a"/><rect x="5.46" y="23.18" width="3.66" height="3.43" fill="#2f7fb8"/><rect x="9.12" y="23.18" width="3.66" height="3.43" fill="#2f7fb8"/><rect x="16.44" y="26.61" width="3.66" height="3.43" fill="#2f7fb8"/><rect x="20.1" y="26.61" width="3.66" height="3.43" fill="#2f7fb8"/><rect x="38.4" y="26.61" width="3.66" height="3.43" fill="#43107a"/><rect x="42.06" y="26.61" width="3.66" height="3.43" fill="#43107a"/><rect x="38.4" y="30.04" width="3.66" height="3.43" fill="#2f7fb8"/><rect x="42.06" y="30.04" width="3.66" height="3.43" fill="#2f7fb8"/><rect x="12.78" y="33.47" width="3.66" height="3.43" fill="#2f7fb8"/><rect x="16.44" y="33.47" width="3.66" height="3.43" fill="#2f7fb8"/><rect x="12.78" y="36.9" width="3.66" height="3.43" fill="#2f7fb8"/><rect x="16.44" y="36.9" width="3.66" height="3.43" fill="#2f7fb8"/><rect x="23.76" y="33.47" width="3.66" height="3.43" fill="#2f7fb8"/><rect x="27.42" y="33.47" width="3.66" height="3.43" fill="#2f7fb8"/><rect x="23.76" y="36.9" width="3.66" height="3.43" fill="#2f7fb8"/><rect x="27.42" y="36.9" width="3.66" height="3.43" fill="#2f7fb8"/><use href="#gp3"/><g fill-opacity="0.65"><rect x="20.1" y="6.03" width="3.66" height="3.43" fill="#2fc070"/><rect x="23.76" y="6.03" width="3.66" height="3.43" fill="#2f7fb8"/><rect x="31.08" y="6.03" width="3.66" height="3.43" fill="#43107a"/><rect x="34.74" y="6.03" width="3.66" height="3.43" fill="#2c0a50"/><rect x="9.12" y="12.89" width="3.66" height="3.43" fill="#f7ea1c"/><rect x="12.78" y="12.89" width="3.66" height="3.43" fill="#2c0a50"/><rect x="31.08" y="16.32" width="3.66" height="3.43" fill="#f7ea1c"/><rect x="34.74" y="16.32" width="3.66" height="3.43" fill="#f7ea1c"/><rect x="31.08" y="19.75" width="3.66" height="3.43" fill="#f7ea1c"/><rect x="34.74" y="19.75" width="3.66" height="3.43" fill="#f7ea1c"/><rect x="31.08" y="23.18" width="3.66" height="3.43" fill="#f3ee9a"/><rect x="34.74" y="23.18" width="3.66" height="3.43" fill="#f3ee9a"/><rect x="5.46" y="23.18" width="3.66" height="3.43" fill="#2f7fb8"/><rect x="9.12" y="23.18" width="3.66" height="3.43" fill="#2f7fb8"/><rect x="16.44" y="26.61" width="3.66" height="3.43" fill="#2f7fb8"/><rect x="20.1" y="26.61" width="3.66" height="3.43" fill="#2f7fb8"/><rect x="38.4" y="26.61" width="3.66" height="3.43" fill="#43107a"/><rect x="42.06" y="26.61" width="3.66" height="3.43" fill="#43107a"/><rect x="38.4" y="30.04" width="3.66" height="3.43" fill="#2f7fb8"/><rect x="42.06" y="30.04" width="3.66" height="3.43" fill="#2f7fb8"/><rect x="12.78" y="33.47" width="3.66" height="3.43" fill="#2f7fb8"/><rect x="16.44" y="33.47" width="3.66" height="3.43" fill="#2f7fb8"/><rect x="12.78" y="36.9" width="3.66" height="3.43" fill="#2f7fb8"/><rect x="16.44" y="36.9" width="3.66" height="3.43" fill="#2f7fb8"/><rect x="23.76" y="33.47" width="3.66" height="3.43" fill="#2f7fb8"/><rect x="27.42" y="33.47" width="3.66" height="3.43" fill="#2f7fb8"/><rect x="23.76" y="36.9" width="3.66" height="3.43" fill="#2f7fb8"/><rect x="27.42" y="36.9" width="3.66" height="3.43" fill="#2f7fb8"/></g></g></g><rect x="0.3" y="0.3" width="54.45" height="41.3" fill="none" stroke="#0c0c0c" stroke-width="0.5" stroke-opacity="0.8"/></g>
<circle cx="159.7" cy="51.4" r="0.9" fill="#120808"/>
<circle cx="219.9" cy="54.3" r="1.2" fill="#3a1818" fill-opacity="0.85"/>
<circle cx="159.7" cy="113.5" r="0.9" fill="#120808"/>
<circle cx="219.9" cy="116.4" r="1.2" fill="#3a1818" fill-opacity="0.85"/>
<circle cx="159.7" cy="176.4" r="0.9" fill="#120808"/>
<circle cx="219.9" cy="179.3" r="1.2" fill="#3a1818" fill-opacity="0.85"/>
<circle cx="159.7" cy="238.8" r="0.9" fill="#120808"/>
<circle cx="219.9" cy="241.7" r="1.2" fill="#3a1818" fill-opacity="0.85"/>
<circle cx="159.7" cy="313.6" r="0.9" fill="#120808"/>
<circle cx="219.9" cy="316.5" r="1.2" fill="#3a1818" fill-opacity="0.85"/>
<text x="0.9" y="20.5" font-size="7.4" fill="#1a1a1a">JAK2 V617F</text>
<text x="0.9" y="83.1" font-size="7.4" fill="#1a1a1a">TET2 L1081*</text>
<text x="0.9" y="146" font-size="7.4" fill="#1a1a1a">GNAS R844H</text>
<text x="0.9" y="208.2" font-size="7.4" fill="#1a1a1a">DNMT3A R882C</text>
<text x="2" y="8.8" font-size="10.2" fill="#000" font-weight="bold">A</text>
<text x="1.6" y="280.3" font-size="10.2" fill="#000" font-weight="bold">D</text>
<defs><linearGradient id="gRed" x1="0" y1="0" x2="0" y2="1"><stop offset="0" stop-color="#de2a2e"/><stop offset="0.5" stop-color="#f08a8a"/><stop offset="1" stop-color="#fffafa"/></linearGradient><linearGradient id="gBlu" x1="0" y1="0" x2="0" y2="1"><stop offset="0" stop-color="#2c3a9a"/><stop offset="0.5" stop-color="#8c94cc"/><stop offset="1" stop-color="#fcfcff"/></linearGradient></defs>
<rect x="253.9" y="27.3" width="5.7" height="46.1" fill="url(#gRed)" stroke="#e8c8c8" stroke-width="0.3"/>
<rect x="253.9" y="152.3" width="5.7" height="46.1" fill="url(#gBlu)" stroke="#c8c8e0" stroke-width="0.3"/>
<text x="255" y="23.6" font-size="7.4" fill="#1a1a1a">VAF</text>
<text x="255" y="148.9" font-size="7.4" fill="#1a1a1a">VAF</text>
<text x="262.9" y="38.95" font-size="7.4" fill="#1a1a1a">0.6</text>
<text x="262.9" y="51.25" font-size="7.4" fill="#1a1a1a">0.4</text>
<text x="262.9" y="63.65" font-size="7.4" fill="#1a1a1a">0.2</text>
<text x="262.9" y="75.55" font-size="7.4" fill="#1a1a1a">0</text>
<text x="262.9" y="162.05" font-size="7.4" fill="#1a1a1a">0.06</text>
<text x="262.9" y="174.75" font-size="7.4" fill="#1a1a1a">0.04</text>
<text x="262.9" y="187.85" font-size="7.4" fill="#1a1a1a">0.02</text>
<text x="262.9" y="200.45" font-size="7.4" fill="#1a1a1a">0</text>
<rect x="254.8" y="276.8" width="3.4" height="3.4" fill="#1d0a33"/>
<text x="261.3" y="281.15" font-size="7.5" fill="#1a1a1a">Cluster 1</text>
<rect x="254.8" y="284.3" width="3.4" height="3.4" fill="#2b5f88"/>
<text x="261.3" y="288.65" font-size="7.5" fill="#1a1a1a">Cluster 2</text>
<rect x="254.8" y="291.7" width="3.4" height="3.4" fill="#3a9a6c"/>
<text x="261.3" y="296.05" font-size="7.5" fill="#1a1a1a">Cluster 3</text>
<rect x="254.8" y="299" width="3.4" height="3.4" fill="#f2e43a" stroke="#b8a820" stroke-width="0.5"/>
<text x="261.3" y="303.35" font-size="7.5" fill="#1a1a1a">Cluster 4</text>
<rect x="343.5" y="27.2" width="23.17" height="10.2" fill="#f5e62a"/>
<rect x="366.67" y="27.2" width="7.24" height="10.2" fill="#2fb47c"/>
<rect x="373.91" y="27.2" width="69.52" height="10.2" fill="#2b6f9e"/>
<rect x="443.43" y="27.2" width="28.97" height="10.2" fill="#3d1460"/>
<rect x="343.35" y="38" width="1.75" height="10.35" fill="#7d1f5a"/>
<rect x="344.8" y="38" width="1.75" height="10.35" fill="#731f58"/>
<rect x="346.25" y="38" width="1.75" height="10.35" fill="#751f58"/>
<rect x="347.69" y="38" width="1.75" height="10.35" fill="#931c5b"/>
<rect x="349.14" y="38" width="1.75" height="10.35" fill="#891e5b"/>
<rect x="350.59" y="38" width="1.75" height="10.35" fill="#901d5b"/>
<rect x="352.04" y="38" width="1.75" height="10.35" fill="#901d5b"/>
<rect x="353.49" y="38" width="1.75" height="10.35" fill="#3c1a42"/>
<rect x="354.94" y="38" width="1.75" height="10.35" fill="#491d49"/>
<rect x="356.38" y="38" width="1.75" height="10.35" fill="#5b1e51"/>
<rect x="357.83" y="38" width="1.75" height="10.35" fill="#541e4e"/>
<rect x="359.28" y="38" width="1.75" height="10.35" fill="#3f1b43"/>
<rect x="360.73" y="38" width="1.75" height="10.35" fill="#431c46"/>
<rect x="362.18" y="38" width="1.75" height="10.35" fill="#3f1b43"/>
<rect x="363.63" y="38" width="1.75" height="10.35" fill="#3f1b43"/>
<rect x="365.07" y="38" width="1.75" height="10.35" fill="#3a1a41"/>
<rect x="366.52" y="38" width="1.75" height="10.35" fill="#af1759"/>
<rect x="367.97" y="38" width="1.75" height="10.35" fill="#ab185a"/>
<rect x="369.42" y="38" width="1.75" height="10.35" fill="#ab185a"/>
<rect x="370.87" y="38" width="1.75" height="10.35" fill="#9e1a5b"/>
<rect x="372.32" y="38" width="1.75" height="10.35" fill="#b71657"/>
<rect x="373.76" y="38" width="1.75" height="10.35" fill="#f58860"/>
<rect x="375.21" y="38" width="1.75" height="10.35" fill="#f4845d"/>
<rect x="376.66" y="38" width="1.75" height="10.35" fill="#f5976e"/>
<rect x="378.11" y="38" width="1.75" height="10.35" fill="#f4865e"/>
<rect x="379.56" y="38" width="1.75" height="10.35" fill="#f47c55"/>
<rect x="381.01" y="38" width="1.75" height="10.35" fill="#f4845d"/>
<rect x="382.45" y="38" width="1.75" height="10.35" fill="#f37450"/>
<rect x="383.9" y="38" width="1.75" height="10.35" fill="#f58f66"/>
<rect x="385.35" y="38" width="1.75" height="10.35" fill="#f4845d"/>
<rect x="386.8" y="38" width="1.75" height="10.35" fill="#f4815a"/>
<rect x="388.25" y="38" width="1.75" height="10.35" fill="#f58f66"/>
<rect x="389.7" y="38" width="1.75" height="10.35" fill="#f47a54"/>
<rect x="391.14" y="38" width="1.75" height="10.35" fill="#f58b63"/>
<rect x="392.59" y="38" width="1.75" height="10.35" fill="#f37651"/>
<rect x="394.04" y="38" width="1.75" height="10.35" fill="#f4815a"/>
<rect x="395.49" y="38" width="1.75" height="10.35" fill="#f47d57"/>
<rect x="396.94" y="38" width="1.75" height="10.35" fill="#f6ad85"/>
<rect x="398.39" y="38" width="1.75" height="10.35" fill="#f6ae87"/>
<rect x="399.83" y="38" width="1.75" height="10.35" fill="#f4845d"/>
<rect x="401.28" y="38" width="1.75" height="10.35" fill="#f58d64"/>
<rect x="402.73" y="38" width="1.75" height="10.35" fill="#f4865e"/>
<rect x="404.18" y="38" width="1.75" height="10.35" fill="#eb483e"/>
<rect x="405.63" y="38" width="1.75" height="10.35" fill="#e73d3f"/>
<rect x="407.08" y="38" width="1.75" height="10.35" fill="#e33641"/>
<rect x="408.52" y="38" width="1.75" height="10.35" fill="#f26f4c"/>
<rect x="409.97" y="38" width="1.75" height="10.35" fill="#f4815a"/>
<rect x="411.42" y="38" width="1.75" height="10.35" fill="#f16244"/>
<rect x="412.87" y="38" width="1.75" height="10.35" fill="#ed503e"/>
<rect x="414.32" y="38" width="1.75" height="10.35" fill="#eb483e"/>
<rect x="415.77" y="38" width="1.75" height="10.35" fill="#f06043"/>
<rect x="417.21" y="38" width="1.75" height="10.35" fill="#ed503e"/>
<rect x="418.66" y="38" width="1.75" height="10.35" fill="#ed4e3e"/>
<rect x="420.11" y="38" width="1.75" height="10.35" fill="#f37651"/>
<rect x="421.56" y="38" width="1.75" height="10.35" fill="#f37450"/>
<rect x="423.01" y="38" width="1.75" height="10.35" fill="#f3734e"/>
<rect x="424.46" y="38" width="1.75" height="10.35" fill="#f37651"/>
<rect x="425.9" y="38" width="1.75" height="10.35" fill="#f4865e"/>
<rect x="427.35" y="38" width="1.75" height="10.35" fill="#f4835b"/>
<rect x="428.8" y="38" width="1.75" height="10.35" fill="#f58b63"/>
<rect x="430.25" y="38" width="1.75" height="10.35" fill="#f7cfb3"/>
<rect x="431.7" y="38" width="1.75" height="10.35" fill="#f7c4a4"/>
<rect x="433.15" y="38" width="1.75" height="10.35" fill="#f69c73"/>
<rect x="434.59" y="38" width="1.75" height="10.35" fill="#f8d4bc"/>
<rect x="436.04" y="38" width="1.75" height="10.35" fill="#f7c7a8"/>
<rect x="437.49" y="38" width="1.75" height="10.35" fill="#f3734e"/>
<rect x="438.94" y="38" width="1.75" height="10.35" fill="#f26f4c"/>
<rect x="440.39" y="38" width="1.75" height="10.35" fill="#ea443e"/>
<rect x="441.84" y="38" width="1.75" height="10.35" fill="#ec4a3e"/>
<rect x="443.28" y="38" width="1.75" height="10.35" fill="#c21753"/>
<rect x="444.73" y="38" width="1.75" height="10.35" fill="#d3214b"/>
<rect x="446.18" y="38" width="1.75" height="10.35" fill="#c81951"/>
<rect x="447.63" y="38" width="1.75" height="10.35" fill="#cb1b4f"/>
<rect x="449.08" y="38" width="1.75" height="10.35" fill="#e23442"/>
<rect x="450.53" y="38" width="1.75" height="10.35" fill="#e23442"/>
<rect x="451.97" y="38" width="1.75" height="10.35" fill="#ca1a50"/>
<rect x="453.42" y="38" width="1.75" height="10.35" fill="#cd1c4e"/>
<rect x="454.87" y="38" width="1.75" height="10.35" fill="#af1759"/>
<rect x="456.32" y="38" width="1.75" height="10.35" fill="#a8185a"/>
<rect x="457.77" y="38" width="1.75" height="10.35" fill="#bd1655"/>
<rect x="459.22" y="38" width="1.75" height="10.35" fill="#cf1e4d"/>
<rect x="460.66" y="38" width="1.75" height="10.35" fill="#df2f44"/>
<rect x="462.11" y="38" width="1.75" height="10.35" fill="#dd2c45"/>
<rect x="463.56" y="38" width="1.75" height="10.35" fill="#c41753"/>
<rect x="465.01" y="38" width="1.75" height="10.35" fill="#ca1a50"/>
<rect x="466.46" y="38" width="1.75" height="10.35" fill="#aa185a"/>
<rect x="467.91" y="38" width="1.75" height="10.35" fill="#ab185a"/>
<rect x="469.35" y="38" width="1.75" height="10.35" fill="#d2204c"/>
<rect x="470.8" y="38" width="1.6" height="10.35" fill="#d5224a"/>
<rect x="343.35" y="48.25" width="1.75" height="10.35" fill="#501d4c"/>
<rect x="344.8" y="48.25" width="1.75" height="10.35" fill="#4e1d4b"/>
<rect x="346.25" y="48.25" width="1.75" height="10.35" fill="#781f59"/>
<rect x="347.69" y="48.25" width="1.75" height="10.35" fill="#751f58"/>
<rect x="349.14" y="48.25" width="1.75" height="10.35" fill="#4b1d4a"/>
<rect x="350.59" y="48.25" width="1.75" height="10.35" fill="#491d49"/>
<rect x="352.04" y="48.25" width="1.75" height="10.35" fill="#211330"/>
<rect x="353.49" y="48.25" width="1.75" height="10.35" fill="#2b1637"/>
<rect x="354.94" y="48.25" width="1.75" height="10.35" fill="#251433"/>
<rect x="356.38" y="48.25" width="1.75" height="10.35" fill="#20122e"/>
<rect x="357.83" y="48.25" width="1.75" height="10.35" fill="#20122e"/>
<rect x="359.28" y="48.25" width="1.75" height="10.35" fill="#1e122d"/>
<rect x="360.73" y="48.25" width="1.75" height="10.35" fill="#241432"/>
<rect x="362.18" y="48.25" width="1.75" height="10.35" fill="#3a1a41"/>
<rect x="363.63" y="48.25" width="1.75" height="10.35" fill="#31183b"/>
<rect x="365.07" y="48.25" width="1.75" height="10.35" fill="#3a1a41"/>
<rect x="366.52" y="48.25" width="1.75" height="10.35" fill="#9c1b5b"/>
<rect x="367.97" y="48.25" width="1.75" height="10.35" fill="#ab185a"/>
<rect x="369.42" y="48.25" width="1.75" height="10.35" fill="#a3195b"/>
<rect x="370.87" y="48.25" width="1.75" height="10.35" fill="#af1759"/>
<rect x="372.32" y="48.25" width="1.75" height="10.35" fill="#9e1a5b"/>
<rect x="373.76" y="48.25" width="1.75" height="10.35" fill="#f3734e"/>
<rect x="375.21" y="48.25" width="1.75" height="10.35" fill="#f37852"/>
<rect x="376.66" y="48.25" width="1.75" height="10.35" fill="#f47d57"/>
<rect x="378.11" y="48.25" width="1.75" height="10.35" fill="#f47a54"/>
<rect x="379.56" y="48.25" width="1.75" height="10.35" fill="#f26b49"/>
<rect x="381.01" y="48.25" width="1.75" height="10.35" fill="#f37651"/>
<rect x="382.45" y="48.25" width="1.75" height="10.35" fill="#f37450"/>
<rect x="383.9" y="48.25" width="1.75" height="10.35" fill="#f3714d"/>
<rect x="385.35" y="48.25" width="1.75" height="10.35" fill="#f26f4c"/>
<rect x="386.8" y="48.25" width="1.75" height="10.35" fill="#f4835b"/>
<rect x="388.25" y="48.25" width="1.75" height="10.35" fill="#f3714d"/>
<rect x="389.7" y="48.25" width="1.75" height="10.35" fill="#f26d4b"/>
<rect x="391.14" y="48.25" width="1.75" height="10.35" fill="#f47a54"/>
<rect x="392.59" y="48.25" width="1.75" height="10.35" fill="#f37651"/>
<rect x="394.04" y="48.25" width="1.75" height="10.35" fill="#f37450"/>
<rect x="395.49" y="48.25" width="1.75" height="10.35" fill="#f47c55"/>
<rect x="396.94" y="48.25" width="1.75" height="10.35" fill="#f47a54"/>
<rect x="398.39" y="48.25" width="1.75" height="10.35" fill="#f37852"/>
<rect x="399.83" y="48.25" width="1.75" height="10.35" fill="#f47d57"/>
<rect x="401.28" y="48.25" width="1.75" height="10.35" fill="#f37852"/>
<rect x="402.73" y="48.25" width="1.75" height="10.35" fill="#f26f4c"/>
<rect x="404.18" y="48.25" width="1.75" height="10.35" fill="#f3734e"/>
<rect x="405.63" y="48.25" width="1.75" height="10.35" fill="#f3714d"/>
<rect x="407.08" y="48.25" width="1.75" height="10.35" fill="#f37651"/>
<rect x="408.52" y="48.25" width="1.75" height="10.35" fill="#f26b49"/>
<rect x="409.97" y="48.25" width="1.75" height="10.35" fill="#f16646"/>
<rect x="411.42" y="48.25" width="1.75" height="10.35" fill="#f37651"/>
<rect x="412.87" y="48.25" width="1.75" height="10.35" fill="#f26948"/>
<rect x="414.32" y="48.25" width="1.75" height="10.35" fill="#f16445"/>
<rect x="415.77" y="48.25" width="1.75" height="10.35" fill="#f37852"/>
<rect x="417.21" y="48.25" width="1.75" height="10.35" fill="#f26f4c"/>
<rect x="418.66" y="48.25" width="1.75" height="10.35" fill="#f47a54"/>
<rect x="420.11" y="48.25" width="1.75" height="10.35" fill="#f3714d"/>
<rect x="421.56" y="48.25" width="1.75" height="10.35" fill="#f26b49"/>
<rect x="423.01" y="48.25" width="1.75" height="10.35" fill="#f26b49"/>
<rect x="424.46" y="48.25" width="1.75" height="10.35" fill="#f3714d"/>
<rect x="425.9" y="48.25" width="1.75" height="10.35" fill="#f3734e"/>
<rect x="427.35" y="48.25" width="1.75" height="10.35" fill="#f26d4b"/>
<rect x="428.8" y="48.25" width="1.75" height="10.35" fill="#f3734e"/>
<rect x="430.25" y="48.25" width="1.75" height="10.35" fill="#f26747"/>
<rect x="431.7" y="48.25" width="1.75" height="10.35" fill="#f37450"/>
<rect x="433.15" y="48.25" width="1.75" height="10.35" fill="#f16646"/>
<rect x="434.59" y="48.25" width="1.75" height="10.35" fill="#f3734e"/>
<rect x="436.04" y="48.25" width="1.75" height="10.35" fill="#f47a54"/>
<rect x="437.49" y="48.25" width="1.75" height="10.35" fill="#f6a47c"/>
<rect x="438.94" y="48.25" width="1.75" height="10.35" fill="#f47f58"/>
<rect x="440.39" y="48.25" width="1.75" height="10.35" fill="#f16445"/>
<rect x="441.84" y="48.25" width="1.75" height="10.35" fill="#f37651"/>
<rect x="443.28" y="48.25" width="1.75" height="10.35" fill="#f47a54"/>
<rect x="444.73" y="48.25" width="1.75" height="10.35" fill="#e03143"/>
<rect x="446.18" y="48.25" width="1.75" height="10.35" fill="#d62449"/>
<rect x="447.63" y="48.25" width="1.75" height="10.35" fill="#d5224a"/>
<rect x="449.08" y="48.25" width="1.75" height="10.35" fill="#dc2b46"/>
<rect x="450.53" y="48.25" width="1.75" height="10.35" fill="#d2204c"/>
<rect x="451.97" y="48.25" width="1.75" height="10.35" fill="#dd2c45"/>
<rect x="453.42" y="48.25" width="1.75" height="10.35" fill="#e83f3f"/>
<rect x="454.87" y="48.25" width="1.75" height="10.35" fill="#e03143"/>
<rect x="456.32" y="48.25" width="1.75" height="10.35" fill="#d82748"/>
<rect x="457.77" y="48.25" width="1.75" height="10.35" fill="#ce1d4e"/>
<rect x="459.22" y="48.25" width="1.75" height="10.35" fill="#d72549"/>
<rect x="460.66" y="48.25" width="1.75" height="10.35" fill="#d72549"/>
<rect x="462.11" y="48.25" width="1.75" height="10.35" fill="#dc2b46"/>
<rect x="463.56" y="48.25" width="1.75" height="10.35" fill="#d11f4c"/>
<rect x="465.01" y="48.25" width="1.75" height="10.35" fill="#d72549"/>
<rect x="466.46" y="48.25" width="1.75" height="10.35" fill="#d92847"/>
<rect x="467.91" y="48.25" width="1.75" height="10.35" fill="#dd2c45"/>
<rect x="469.35" y="48.25" width="1.75" height="10.35" fill="#f06043"/>
<rect x="470.8" y="48.25" width="1.6" height="10.35" fill="#f05c42"/>
<rect x="343.35" y="58.5" width="1.75" height="10.35" fill="#3f1b43"/>
<rect x="344.8" y="58.5" width="1.75" height="10.35" fill="#481c48"/>
<rect x="346.25" y="58.5" width="1.75" height="10.35" fill="#661f54"/>
<rect x="347.69" y="58.5" width="1.75" height="10.35" fill="#461c48"/>
<rect x="349.14" y="58.5" width="1.75" height="10.35" fill="#461c48"/>
<rect x="350.59" y="58.5" width="1.75" height="10.35" fill="#491d49"/>
<rect x="352.04" y="58.5" width="1.75" height="10.35" fill="#1e122d"/>
<rect x="353.49" y="58.5" width="1.75" height="10.35" fill="#160e27"/>
<rect x="354.94" y="58.5" width="1.75" height="10.35" fill="#180f29"/>
<rect x="356.38" y="58.5" width="1.75" height="10.35" fill="#211330"/>
<rect x="357.83" y="58.5" width="1.75" height="10.35" fill="#1d112c"/>
<rect x="359.28" y="58.5" width="1.75" height="10.35" fill="#221331"/>
<rect x="360.73" y="58.5" width="1.75" height="10.35" fill="#20122e"/>
<rect x="362.18" y="58.5" width="1.75" height="10.35" fill="#1b112b"/>
<rect x="363.63" y="58.5" width="1.75" height="10.35" fill="#221331"/>
<rect x="365.07" y="58.5" width="1.75" height="10.35" fill="#1a102a"/>
<rect x="366.52" y="58.5" width="1.75" height="10.35" fill="#901d5b"/>
<rect x="367.97" y="58.5" width="1.75" height="10.35" fill="#b01759"/>
<rect x="369.42" y="58.5" width="1.75" height="10.35" fill="#921c5b"/>
<rect x="370.87" y="58.5" width="1.75" height="10.35" fill="#821e5a"/>
<rect x="372.32" y="58.5" width="1.75" height="10.35" fill="#861e5b"/>
<rect x="373.76" y="58.5" width="1.75" height="10.35" fill="#f58860"/>
<rect x="375.21" y="58.5" width="1.75" height="10.35" fill="#f47a54"/>
<rect x="376.66" y="58.5" width="1.75" height="10.35" fill="#f58f66"/>
<rect x="378.11" y="58.5" width="1.75" height="10.35" fill="#f47c55"/>
<rect x="379.56" y="58.5" width="1.75" height="10.35" fill="#f47c55"/>
<rect x="381.01" y="58.5" width="1.75" height="10.35" fill="#f4845d"/>
<rect x="382.45" y="58.5" width="1.75" height="10.35" fill="#f58d64"/>
<rect x="383.9" y="58.5" width="1.75" height="10.35" fill="#f58a61"/>
<rect x="385.35" y="58.5" width="1.75" height="10.35" fill="#f58d64"/>
<rect x="386.8" y="58.5" width="1.75" height="10.35" fill="#f4835b"/>
<rect x="388.25" y="58.5" width="1.75" height="10.35" fill="#f4865e"/>
<rect x="389.7" y="58.5" width="1.75" height="10.35" fill="#f47d57"/>
<rect x="391.14" y="58.5" width="1.75" height="10.35" fill="#f4845d"/>
<rect x="392.59" y="58.5" width="1.75" height="10.35" fill="#f58b63"/>
<rect x="394.04" y="58.5" width="1.75" height="10.35" fill="#f4845d"/>
<rect x="395.49" y="58.5" width="1.75" height="10.35" fill="#f5946b"/>
<rect x="396.94" y="58.5" width="1.75" height="10.35" fill="#f58b63"/>
<rect x="398.39" y="58.5" width="1.75" height="10.35" fill="#f58b63"/>
<rect x="399.83" y="58.5" width="1.75" height="10.35" fill="#e13342"/>
<rect x="401.28" y="58.5" width="1.75" height="10.35" fill="#e03143"/>
<rect x="402.73" y="58.5" width="1.75" height="10.35" fill="#e33641"/>
<rect x="404.18" y="58.5" width="1.75" height="10.35" fill="#f3734e"/>
<rect x="405.63" y="58.5" width="1.75" height="10.35" fill="#f47f58"/>
<rect x="407.08" y="58.5" width="1.75" height="10.35" fill="#f26f4c"/>
<rect x="408.52" y="58.5" width="1.75" height="10.35" fill="#f26f4c"/>
<rect x="409.97" y="58.5" width="1.75" height="10.35" fill="#de2e44"/>
<rect x="411.42" y="58.5" width="1.75" height="10.35" fill="#e33641"/>
<rect x="412.87" y="58.5" width="1.75" height="10.35" fill="#f26747"/>
<rect x="414.32" y="58.5" width="1.75" height="10.35" fill="#f05c42"/>
<rect x="415.77" y="58.5" width="1.75" height="10.35" fill="#e03143"/>
<rect x="417.21" y="58.5" width="1.75" height="10.35" fill="#e43841"/>
<rect x="418.66" y="58.5" width="1.75" height="10.35" fill="#ef5640"/>
<rect x="420.11" y="58.5" width="1.75" height="10.35" fill="#ee543f"/>
<rect x="421.56" y="58.5" width="1.75" height="10.35" fill="#e53940"/>
<rect x="423.01" y="58.5" width="1.75" height="10.35" fill="#e13342"/>
<rect x="424.46" y="58.5" width="1.75" height="10.35" fill="#dd2c45"/>
<rect x="425.9" y="58.5" width="1.75" height="10.35" fill="#e13342"/>
<rect x="427.35" y="58.5" width="1.75" height="10.35" fill="#e13342"/>
<rect x="428.8" y="58.5" width="1.75" height="10.35" fill="#d92847"/>
<rect x="430.25" y="58.5" width="1.75" height="10.35" fill="#d82748"/>
<rect x="431.7" y="58.5" width="1.75" height="10.35" fill="#f3734e"/>
<rect x="433.15" y="58.5" width="1.75" height="10.35" fill="#f26f4c"/>
<rect x="434.59" y="58.5" width="1.75" height="10.35" fill="#f06043"/>
<rect x="436.04" y="58.5" width="1.75" height="10.35" fill="#f47c55"/>
<rect x="437.49" y="58.5" width="1.75" height="10.35" fill="#e13342"/>
<rect x="438.94" y="58.5" width="1.75" height="10.35" fill="#e43841"/>
<rect x="440.39" y="58.5" width="1.75" height="10.35" fill="#701f57"/>
<rect x="441.84" y="58.5" width="1.75" height="10.35" fill="#7b1f59"/>
<rect x="443.28" y="58.5" width="1.75" height="10.35" fill="#f8d4bc"/>
<rect x="444.73" y="58.5" width="1.75" height="10.35" fill="#f8d7c0"/>
<rect x="446.18" y="58.5" width="1.75" height="10.35" fill="#f59269"/>
<rect x="447.63" y="58.5" width="1.75" height="10.35" fill="#f7ccaf"/>
<rect x="449.08" y="58.5" width="1.75" height="10.35" fill="#f7ccaf"/>
<rect x="450.53" y="58.5" width="1.75" height="10.35" fill="#f47d57"/>
<rect x="451.97" y="58.5" width="1.75" height="10.35" fill="#f4815a"/>
<rect x="453.42" y="58.5" width="1.75" height="10.35" fill="#dc2b46"/>
<rect x="454.87" y="58.5" width="1.75" height="10.35" fill="#f58f66"/>
<rect x="456.32" y="58.5" width="1.75" height="10.35" fill="#f4835b"/>
<rect x="457.77" y="58.5" width="1.75" height="10.35" fill="#de2e44"/>
<rect x="459.22" y="58.5" width="1.75" height="10.35" fill="#e33641"/>
<rect x="460.66" y="58.5" width="1.75" height="10.35" fill="#f37651"/>
<rect x="462.11" y="58.5" width="1.75" height="10.35" fill="#f47a54"/>
<rect x="463.56" y="58.5" width="1.75" height="10.35" fill="#e8403e"/>
<rect x="465.01" y="58.5" width="1.75" height="10.35" fill="#dd2c45"/>
<rect x="466.46" y="58.5" width="1.75" height="10.35" fill="#f58a61"/>
<rect x="467.91" y="58.5" width="1.75" height="10.35" fill="#f59269"/>
<rect x="469.35" y="58.5" width="1.75" height="10.35" fill="#ed4e3e"/>
<rect x="470.8" y="58.5" width="1.6" height="10.35" fill="#eb483e"/>
<rect x="343.35" y="68.75" width="1.75" height="10.25" fill="#421b45"/>
<rect x="344.8" y="68.75" width="1.75" height="10.25" fill="#3d1a42"/>
<rect x="346.25" y="68.75" width="1.75" height="10.25" fill="#431c46"/>
<rect x="347.69" y="68.75" width="1.75" height="10.25" fill="#401b44"/>
<rect x="349.14" y="68.75" width="1.75" height="10.25" fill="#461c48"/>
<rect x="350.59" y="68.75" width="1.75" height="10.25" fill="#431c46"/>
<rect x="352.04" y="68.75" width="1.75" height="10.25" fill="#170f28"/>
<rect x="353.49" y="68.75" width="1.75" height="10.25" fill="#1d112c"/>
<rect x="354.94" y="68.75" width="1.75" height="10.25" fill="#1e122d"/>
<rect x="356.38" y="68.75" width="1.75" height="10.25" fill="#180f29"/>
<rect x="357.83" y="68.75" width="1.75" height="10.25" fill="#180f29"/>
<rect x="359.28" y="68.75" width="1.75" height="10.25" fill="#100b23"/>
<rect x="360.73" y="68.75" width="1.75" height="10.25" fill="#1e122d"/>
<rect x="362.18" y="68.75" width="1.75" height="10.25" fill="#180f29"/>
<rect x="363.63" y="68.75" width="1.75" height="10.25" fill="#110c24"/>
<rect x="365.07" y="68.75" width="1.75" height="10.25" fill="#130d25"/>
<rect x="366.52" y="68.75" width="1.75" height="10.25" fill="#d92847"/>
<rect x="367.97" y="68.75" width="1.75" height="10.25" fill="#df2f44"/>
<rect x="369.42" y="68.75" width="1.75" height="10.25" fill="#db2946"/>
<rect x="370.87" y="68.75" width="1.75" height="10.25" fill="#dd2c45"/>
<rect x="372.32" y="68.75" width="1.75" height="10.25" fill="#d5224a"/>
<rect x="373.76" y="68.75" width="1.75" height="10.25" fill="#d92847"/>
<rect x="375.21" y="68.75" width="1.75" height="10.25" fill="#e53940"/>
<rect x="376.66" y="68.75" width="1.75" height="10.25" fill="#e33641"/>
<rect x="378.11" y="68.75" width="1.75" height="10.25" fill="#e03143"/>
<rect x="379.56" y="68.75" width="1.75" height="10.25" fill="#ef5a41"/>
<rect x="381.01" y="68.75" width="1.75" height="10.25" fill="#ea443e"/>
<rect x="382.45" y="68.75" width="1.75" height="10.25" fill="#ec4a3e"/>
<rect x="383.9" y="68.75" width="1.75" height="10.25" fill="#e83f3f"/>
<rect x="385.35" y="68.75" width="1.75" height="10.25" fill="#ea443e"/>
<rect x="386.8" y="68.75" width="1.75" height="10.25" fill="#e33641"/>
<rect x="388.25" y="68.75" width="1.75" height="10.25" fill="#ea443e"/>
<rect x="389.7" y="68.75" width="1.75" height="10.25" fill="#e9423e"/>
<rect x="391.14" y="68.75" width="1.75" height="10.25" fill="#ec4c3e"/>
<rect x="392.59" y="68.75" width="1.75" height="10.25" fill="#eb463e"/>
<rect x="394.04" y="68.75" width="1.75" height="10.25" fill="#e63b40"/>
<rect x="395.49" y="68.75" width="1.75" height="10.25" fill="#f59269"/>
<rect x="396.94" y="68.75" width="1.75" height="10.25" fill="#f5976e"/>
<rect x="398.39" y="68.75" width="1.75" height="10.25" fill="#f58f66"/>
<rect x="399.83" y="68.75" width="1.75" height="10.25" fill="#f26f4c"/>
<rect x="401.28" y="68.75" width="1.75" height="10.25" fill="#f47c55"/>
<rect x="402.73" y="68.75" width="1.75" height="10.25" fill="#f16646"/>
<rect x="404.18" y="68.75" width="1.75" height="10.25" fill="#f16445"/>
<rect x="405.63" y="68.75" width="1.75" height="10.25" fill="#f26b49"/>
<rect x="407.08" y="68.75" width="1.75" height="10.25" fill="#f16646"/>
<rect x="408.52" y="68.75" width="1.75" height="10.25" fill="#f47c55"/>
<rect x="409.97" y="68.75" width="1.75" height="10.25" fill="#e73d3f"/>
<rect x="411.42" y="68.75" width="1.75" height="10.25" fill="#e23442"/>
<rect x="412.87" y="68.75" width="1.75" height="10.25" fill="#ee523f"/>
<rect x="414.32" y="68.75" width="1.75" height="10.25" fill="#f3714d"/>
<rect x="415.77" y="68.75" width="1.75" height="10.25" fill="#de2e44"/>
<rect x="417.21" y="68.75" width="1.75" height="10.25" fill="#dd2c45"/>
<rect x="418.66" y="68.75" width="1.75" height="10.25" fill="#ef5640"/>
<rect x="420.11" y="68.75" width="1.75" height="10.25" fill="#ef5840"/>
<rect x="421.56" y="68.75" width="1.75" height="10.25" fill="#e73d3f"/>
<rect x="423.01" y="68.75" width="1.75" height="10.25" fill="#e13342"/>
<rect x="424.46" y="68.75" width="1.75" height="10.25" fill="#d5224a"/>
<rect x="425.9" y="68.75" width="1.75" height="10.25" fill="#de2e44"/>
<rect x="427.35" y="68.75" width="1.75" height="10.25" fill="#db2946"/>
<rect x="428.8" y="68.75" width="1.75" height="10.25" fill="#d2204c"/>
<rect x="430.25" y="68.75" width="1.75" height="10.25" fill="#e13342"/>
<rect x="431.7" y="68.75" width="1.75" height="10.25" fill="#f58d64"/>
<rect x="433.15" y="68.75" width="1.75" height="10.25" fill="#f4845d"/>
<rect x="434.59" y="68.75" width="1.75" height="10.25" fill="#f4845d"/>
<rect x="436.04" y="68.75" width="1.75" height="10.25" fill="#f9e2d0"/>
<rect x="437.49" y="68.75" width="1.75" height="10.25" fill="#f8dcc7"/>
<rect x="438.94" y="68.75" width="1.75" height="10.25" fill="#f8d7c0"/>
<rect x="440.39" y="68.75" width="1.75" height="10.25" fill="#761f58"/>
<rect x="441.84" y="68.75" width="1.75" height="10.25" fill="#6e1f57"/>
<rect x="443.28" y="68.75" width="1.75" height="10.25" fill="#f58a61"/>
<rect x="444.73" y="68.75" width="1.75" height="10.25" fill="#f47c55"/>
<rect x="446.18" y="68.75" width="1.75" height="10.25" fill="#f7d0b5"/>
<rect x="447.63" y="68.75" width="1.75" height="10.25" fill="#f7d0b5"/>
<rect x="449.08" y="68.75" width="1.75" height="10.25" fill="#f47f58"/>
<rect x="450.53" y="68.75" width="1.75" height="10.25" fill="#f26747"/>
<rect x="451.97" y="68.75" width="1.75" height="10.25" fill="#d3214b"/>
<rect x="453.42" y="68.75" width="1.75" height="10.25" fill="#d72549"/>
<rect x="454.87" y="68.75" width="1.75" height="10.25" fill="#f4865e"/>
<rect x="456.32" y="68.75" width="1.75" height="10.25" fill="#f58b63"/>
<rect x="457.77" y="68.75" width="1.75" height="10.25" fill="#dd2c45"/>
<rect x="459.22" y="68.75" width="1.75" height="10.25" fill="#df2f44"/>
<rect x="460.66" y="68.75" width="1.75" height="10.25" fill="#f58b63"/>
<rect x="462.11" y="68.75" width="1.75" height="10.25" fill="#f37852"/>
<rect x="463.56" y="68.75" width="1.75" height="10.25" fill="#f16646"/>
<rect x="465.01" y="68.75" width="1.75" height="10.25" fill="#f06043"/>
<rect x="466.46" y="68.75" width="1.75" height="10.25" fill="#f4865e"/>
<rect x="467.91" y="68.75" width="1.75" height="10.25" fill="#f37450"/>
<rect x="469.35" y="68.75" width="1.75" height="10.25" fill="#e03143"/>
<rect x="470.8" y="68.75" width="1.6" height="10.25" fill="#e13342"/>
<text x="339.2" y="34.9" font-size="7.6" fill="#1a1a1a" text-anchor="end">Cluster</text>
<text x="339.2" y="45.4" font-size="7.6" fill="#1a1a1a" text-anchor="end">TET2 L1081*</text>
<text x="339.2" y="55.4" font-size="7.6" fill="#1a1a1a" text-anchor="end">JAK2 V617F</text>
<text x="339.2" y="65.6" font-size="7.6" fill="#1a1a1a" text-anchor="end">DNMT3A R882C</text>
<text x="339.2" y="75.8" font-size="7.6" fill="#1a1a1a" text-anchor="end">GNAS R844H</text>
<g fill="none" stroke="#555" stroke-width="0.5">
<path d="M472.6 43H478V53.3H472.6M472.6 63.5H480.3V73.8H472.6M478 48.2H482.8V68.6H480.3"/>
<path d="M365.8 18.2V11.5H445.1V19.8 M360.9 21.8V18.2H371.2V25 M349.2 25.2V21.8H365.3V25.2 M345.5 27V25.4H351.5V27 M347 27V26.2H344.5 M350 27V26.2H353V27 M357 27V24.6H365.3 M355 27V25.6H359.5V27 M362.5 27V25.4H366V27 M361 27V26.3H364V27 M368 27V25H373.5V27 M370 27V26H372V27 M376 27V26.4H380.08V25.98H384.15V25.57H388.23V25.15H392.31V24.74H396.38V24.32H400.46V23.91H404.54V23.49H408.62V23.08H412.69V22.66H416.77V22.25H420.85V21.83H424.92V21.42H429V19.8H445.1 M375 27V25.2H376.45V27 M376.45 27V25.75H380.8V27 M377.9 27V26.4H380.8V27 M379.35 27V25.36H380.8V27 M380.8 27V26.1H385.15V27 M382.25 27V24.97H385.15V27 M383.7 27V25.8H385.15V27 M385.15 27V26.07H389.5V27 M386.6 27V25.5H389.5V27 M388.05 27V25.68H389.5V27 M389.5 27V25.2H393.85V27 M390.95 27V25.28H393.85V27 M392.4 27V26.4H393.85V27 M393.85 27V24.89H398.2V27 M395.3 27V26.1H398.2V27 M396.75 27V24.5H398.2V27 M398.2 27V25.8H402.55V27 M399.65 27V25.6H402.55V27 M401.1 27V25.5H402.55V27 M402.55 27V25.21H406.9V27 M404 27V25.2H406.9V27 M405.45 27V24.81H406.9V27 M406.9 27V26.4H411.25V27 M408.35 27V24.42H411.25V27 M409.8 27V26.1H411.25V27 M411.25 27V24.03H415.6V27 M412.7 27V25.8H415.6V27 M414.15 27V25.13H415.6V27 M415.6 27V25.5H419.95V27 M417.05 27V24.74H419.95V27 M418.5 27V25.2H419.95V27 M419.95 27V24.35H424.3V27 M421.4 27V26.4H424.3V27 M422.85 27V23.95H424.3V27 M424.3 27V26.1H428.65V27 M425.75 27V23.56H428.65V27 M427.2 27V25.8H428.65V27 M428.65 27V24.66H433V27 M430.1 27V25.5H433V27 M431.55 27V24.27H433V27 M433 27V25.2H437.35V27 M434.45 27V23.88H437.35V27 M435.9 27V26.4H437.35V27 M437.35 27V23.48H441.7V27 M438.8 27V26.1H441.7V27 M440.25 27V23.09H441.7V27 M441.7 27V25.8H446.05V27 M444 27V25H445.45V27 M445.45 27V25.65H449.8V27 M446.9 27V26.3H449.8V27 M448.35 27V25.32H449.8V27 M449.8 27V25.98H454.15V27 M451.25 27V25H454.15V27 M452.7 27V25.65H454.15V27 M454.15 27V26.3H458.5V27 M455.6 27V25.32H458.5V27 M457.05 27V25.98H458.5V27 M458.5 27V25H462.85V27 M459.95 27V25.65H462.85V27 M461.4 27V26.3H462.85V27 M462.85 27V25.32H467.2V27 M464.3 27V25.98H467.2V27 M465.75 27V25H467.2V27 M467.2 27V25.65H471.55V27 M468.65 27V26.3H471.55V27 M470.1 27V25.32H471.55V27 M445.1 19.8H455.5V21.8 M449.4 27V21.8H463.5V23.2 M459 27V23.2H468V27 M452 27V24.4H456V27 M462 27V25H466V27 M469.5 27V25.6H471.5V27 M444.5 27V25.5H447V27"/>
</g>
<text x="487" y="39.2" font-size="7.5" fill="#1a1a1a">VAF</text>
<text x="487" y="47.3" font-size="7.5" fill="#1a1a1a">z-score</text>
<defs><linearGradient id="gRock" x1="0" y1="0" x2="0" y2="1"><stop offset="0" stop-color="#faebdd"/><stop offset="0.1" stop-color="#f7c6a6"/><stop offset="0.2" stop-color="#f69c73"/><stop offset="0.3" stop-color="#f3714d"/><stop offset="0.4" stop-color="#e83f3f"/><stop offset="0.5" stop-color="#cb1b4f"/><stop offset="0.6" stop-color="#a11a5b"/><stop offset="0.7" stop-color="#751f58"/><stop offset="0.8" stop-color="#4c1d4b"/><stop offset="0.9" stop-color="#251433"/><stop offset="1" stop-color="#03051a"/></linearGradient></defs>
<rect x="486.6" y="50.8" width="6.5" height="28.7" fill="url(#gRock)"/>
<path d="M493.1 55.4h1.8" stroke="#333" stroke-width="0.5"/>
<text x="498.6" y="58" font-size="7.4" fill="#1a1a1a">1</text>
<path d="M493.1 62h1.8" stroke="#333" stroke-width="0.5"/>
<text x="498.6" y="64.6" font-size="7.4" fill="#1a1a1a">0</text>
<path d="M493.1 68.5h1.8" stroke="#333" stroke-width="0.5"/>
<text x="496.6" y="71.1" font-size="7.4" fill="#1a1a1a">−1</text>
<path d="M493.1 74.7h1.8" stroke="#333" stroke-width="0.5"/>
<text x="496.6" y="77.3" font-size="7.4" fill="#1a1a1a">−2</text>
<text x="284" y="8.8" font-size="10.2" fill="#000" font-weight="bold">B</text>
<g clip-path="url(#cp00)">
<defs><clipPath id="cp00"><rect x="325.7" y="114.75" width="45" height="47.5"/></clipPath></defs>
<path d="M328.82 162.25L328.82 162.2L329.2 162.14L329.58 162.03L329.97 161.83L330.35 161.51L330.73 161L331.12 160.26L331.5 159.26L331.88 157.99L332.27 156.5L332.65 154.89L333.04 153.31L333.42 151.92L333.8 150.87L334.19 150.24L334.57 150.05L334.95 150.23L335.34 150.64L335.72 151.16L336.1 151.66L336.49 152.06L336.87 152.34L337.26 152.53L337.64 152.69L338.02 152.83L338.41 153L338.79 153.18L339.17 153.36L339.56 153.53L339.94 153.68L340.32 153.85L340.71 154.09L341.09 154.46L341.48 155.01L341.86 155.73L342.24 156.61L342.63 157.58L343.01 158.56L343.39 159.48L343.78 160.27L344.16 160.91L344.54 161.39L344.93 161.73L345.31 161.95L345.7 162.09L346.08 162.17L346.46 162.21L346.46 162.25Z" fill="#fde725" fill-opacity="0.62" stroke="#fde725" stroke-opacity="0.45" stroke-width="0.4"/>
<path d="M338.79 162.25L338.79 162.18L339.17 162.1L339.56 161.94L339.94 161.66L340.32 161.2L340.71 160.53L341.09 159.66L341.48 158.65L341.86 157.63L342.24 156.79L342.63 156.29L343.01 156.25L343.39 156.68L343.78 157.48L344.16 158.48L344.54 159.5L344.93 160.4L345.31 161.1L345.7 161.59L346.08 161.9L346.46 162.08L346.85 162.17L346.85 162.25Z" fill="#35b779" fill-opacity="0.6" stroke="#35b779" stroke-opacity="0.45" stroke-width="0.4"/>
<path d="M344.93 162.25L344.93 162.2L345.31 162.16L345.7 162.08L346.08 161.95L346.46 161.73L346.85 161.37L347.23 160.82L347.61 160.02L348 158.88L348.38 157.32L348.76 155.29L349.15 152.75L349.53 149.69L349.92 146.18L350.3 142.31L350.68 138.24L351.07 134.17L351.45 130.28L351.83 126.79L352.22 123.85L352.6 121.61L352.98 120.16L353.37 119.55L353.75 119.79L354.14 120.86L354.52 122.73L354.9 125.3L355.29 128.48L355.67 132.12L356.05 136.05L356.44 140.07L356.82 144.01L357.2 147.68L357.59 150.97L357.97 153.79L358.36 156.11L358.74 157.94L359.12 159.33L359.51 160.33L359.89 161.04L360.27 161.51L360.66 161.81L361.04 162L361.42 162.11L361.81 162.18L361.81 162.25Z" fill="#2f699b" fill-opacity="0.6" stroke="#2f699b" stroke-opacity="0.45" stroke-width="0.4"/>
<path d="M343.01 162.25L343.01 162.19L343.39 162.16L343.78 162.11L344.16 162.04L344.54 161.94L344.93 161.81L345.31 161.62L345.7 161.38L346.08 161.06L346.46 160.65L346.85 160.14L347.23 159.52L347.61 158.78L348 157.93L348.38 156.95L348.76 155.88L349.15 154.73L349.53 153.53L349.92 152.33L350.3 151.17L350.68 150.09L351.07 149.15L351.45 148.39L351.83 147.85L352.22 147.57L352.6 147.55L352.98 147.8L353.37 148.29L353.75 149.01L354.14 149.92L354.52 150.95L354.9 152.07L355.29 153.21L355.67 154.33L356.05 155.36L356.44 156.28L356.82 157.05L357.2 157.66L357.59 158.09L357.97 158.36L358.36 158.48L358.74 158.49L359.12 158.42L359.51 158.31L359.89 158.21L360.27 158.15L360.66 158.17L361.04 158.28L361.42 158.48L361.81 158.77L362.19 159.13L362.58 159.53L362.96 159.96L363.34 160.37L363.73 160.76L364.11 161.1L364.49 161.4L364.88 161.63L365.26 161.82L365.64 161.96L366.03 162.06L366.41 162.13L366.8 162.17L367.18 162.2L367.18 162.25Z" fill="#4c1386" fill-opacity="0.7" stroke="#4c1386" stroke-opacity="0.45" stroke-width="0.4"/>
</g>
<path d="M325.7 116.75V162.25H370.7M336.1 162.25v1.9M349.6 162.25v1.9M363.1 162.25v1.9M325.7 117.7h-2M325.7 127.35h-2M325.7 137h-2M325.7 146.65h-2M325.7 156.3h-2" fill="none" stroke="#333" stroke-width="0.7"/>
<g fill="#f3ea55" stroke="#fff" stroke-width="0.18"><circle cx="383.69" cy="155.48" r="1.0"/><circle cx="384.04" cy="158.26" r="1.0"/><circle cx="383.18" cy="160.58" r="1.0"/><circle cx="383.21" cy="155.23" r="1.0"/><circle cx="383.79" cy="155.97" r="1.0"/><circle cx="386.03" cy="150.88" r="1.0"/><circle cx="391.72" cy="147.21" r="1.0"/><circle cx="391.22" cy="146.66" r="1.0"/><circle cx="385.11" cy="156.16" r="1.0"/><circle cx="391.11" cy="147.79" r="1.0"/><circle cx="384.22" cy="155.56" r="1.0"/><circle cx="384.89" cy="153.06" r="1.0"/><circle cx="386.75" cy="153.07" r="1.0"/><circle cx="381.51" cy="161.62" r="1.0"/><circle cx="384.98" cy="152.96" r="1.0"/><circle cx="387.35" cy="147.3" r="1.0"/><circle cx="385.62" cy="152.9" r="1.0"/><circle cx="383.89" cy="153.67" r="1.0"/><circle cx="384.4" cy="156.84" r="1.0"/><circle cx="385.42" cy="153.98" r="1.0"/><circle cx="385.82" cy="151.55" r="1.0"/><circle cx="385.77" cy="152.55" r="1.0"/><circle cx="381.57" cy="159.04" r="1.0"/><circle cx="382.75" cy="158.29" r="1.0"/></g>
<g fill="#35b779" stroke="#fff" stroke-width="0.18"><circle cx="394.44" cy="143.25" r="1.0"/><circle cx="393.27" cy="138.16" r="1.0"/><circle cx="390.4" cy="148.46" r="1.0"/><circle cx="391.45" cy="146.01" r="1.0"/><circle cx="393.64" cy="144.85" r="1.0"/><circle cx="392.72" cy="144.89" r="1.0"/><circle cx="391.47" cy="142.66" r="1.0"/><circle cx="390.57" cy="147.75" r="1.0"/><circle cx="391.21" cy="146.73" r="1.0"/></g>
<g fill="#2e0c4c" stroke="#fff" stroke-width="0.18"><circle cx="396.66" cy="128.17" r="1.0"/><circle cx="395.35" cy="127.23" r="1.0"/><circle cx="394.05" cy="132.73" r="1.0"/><circle cx="393.59" cy="130.64" r="1.0"/><circle cx="394.25" cy="129.67" r="1.0"/><circle cx="393.5" cy="131.89" r="1.0"/><circle cx="392.92" cy="128.76" r="1.0"/><circle cx="398.3" cy="129.14" r="1.0"/><circle cx="394" cy="134.59" r="1.0"/><circle cx="395.28" cy="130.63" r="1.0"/><circle cx="395.43" cy="131.57" r="1.0"/><circle cx="397.52" cy="127.44" r="1.0"/><circle cx="402.35" cy="122.04" r="1.0"/><circle cx="395.09" cy="132.08" r="1.0"/><circle cx="398.83" cy="127.15" r="1.0"/><circle cx="396.25" cy="133.63" r="1.0"/><circle cx="396.07" cy="133.8" r="1.0"/><circle cx="395.62" cy="128.61" r="1.0"/><circle cx="392.8" cy="139.09" r="1.0"/><circle cx="393.2" cy="132.76" r="1.0"/><circle cx="398.81" cy="139.17" r="1.0"/><circle cx="395.64" cy="131.51" r="1.0"/><circle cx="395.4" cy="131.51" r="1.0"/><circle cx="398.61" cy="129.33" r="1.0"/><circle cx="393" cy="141.33" r="1.0"/><circle cx="392.73" cy="130.75" r="1.0"/><circle cx="396.13" cy="138.69" r="1.0"/><circle cx="392.54" cy="139.76" r="1.0"/><circle cx="394.73" cy="138.57" r="1.0"/><circle cx="395.76" cy="131.45" r="1.0"/><circle cx="395.06" cy="119.15" r="1.0"/><circle cx="399.63" cy="118.66" r="1.0"/><circle cx="405.69" cy="146.65" r="1.0"/><circle cx="393.82" cy="120.59" r="1.0"/></g>
<g fill="#2d6a96" stroke="#fff" stroke-width="0.18"><circle cx="404.76" cy="137.71" r="1.0"/><circle cx="406.57" cy="132.02" r="1.0"/><circle cx="408.28" cy="133.77" r="1.0"/><circle cx="403.68" cy="132.32" r="1.0"/><circle cx="400.52" cy="132.99" r="1.0"/><circle cx="404.83" cy="137.24" r="1.0"/><circle cx="404.58" cy="135.25" r="1.0"/><circle cx="407.49" cy="132.15" r="1.0"/><circle cx="406.84" cy="132.29" r="1.0"/><circle cx="401.6" cy="129.87" r="1.0"/><circle cx="409.28" cy="132.73" r="1.0"/><circle cx="407.2" cy="137.29" r="1.0"/><circle cx="410.61" cy="128.95" r="1.0"/><circle cx="402.77" cy="135.83" r="1.0"/><circle cx="406.48" cy="137.07" r="1.0"/><circle cx="404.04" cy="124.78" r="1.0"/><circle cx="405.28" cy="139.68" r="1.0"/><circle cx="407.89" cy="129.98" r="1.0"/><circle cx="403.48" cy="135.63" r="1.0"/><circle cx="407.16" cy="134.11" r="1.0"/><circle cx="409.38" cy="137.77" r="1.0"/><circle cx="408.73" cy="129.07" r="1.0"/><circle cx="407.12" cy="129.03" r="1.0"/><circle cx="406.69" cy="137.73" r="1.0"/><circle cx="407.77" cy="137.98" r="1.0"/><circle cx="404.82" cy="133.05" r="1.0"/><circle cx="404.35" cy="134.98" r="1.0"/><circle cx="402.95" cy="141.99" r="1.0"/><circle cx="405.62" cy="124.42" r="1.0"/><circle cx="405.08" cy="135.02" r="1.0"/><circle cx="406.54" cy="127.41" r="1.0"/><circle cx="406.99" cy="128.13" r="1.0"/><circle cx="402.71" cy="136.78" r="1.0"/><circle cx="407.31" cy="135.66" r="1.0"/><circle cx="404.85" cy="134.6" r="1.0"/><circle cx="404.75" cy="126.71" r="1.0"/><circle cx="408.94" cy="129.58" r="1.0"/><circle cx="404.68" cy="131.37" r="1.0"/><circle cx="408.77" cy="130.15" r="1.0"/><circle cx="404.46" cy="132.15" r="1.0"/><circle cx="406.87" cy="132.74" r="1.0"/><circle cx="399.39" cy="134.53" r="1.0"/><circle cx="402.97" cy="131.13" r="1.0"/><circle cx="407.44" cy="130.87" r="1.0"/><circle cx="405" cy="131.62" r="1.0"/><circle cx="403.26" cy="125.89" r="1.0"/><circle cx="410.37" cy="132.02" r="1.0"/><circle cx="407.07" cy="137.56" r="1.0"/><circle cx="412.32" cy="128.2" r="1.0"/><circle cx="401.86" cy="129.21" r="1.0"/><circle cx="399.46" cy="133.69" r="1.0"/><circle cx="408.38" cy="136.47" r="1.0"/><circle cx="410.12" cy="129.42" r="1.0"/><circle cx="404.22" cy="134.84" r="1.0"/><circle cx="405.28" cy="130.67" r="1.0"/><circle cx="410.9" cy="135.12" r="1.0"/><circle cx="401.37" cy="128.8" r="1.0"/><circle cx="405.69" cy="135.76" r="1.0"/><circle cx="403.66" cy="132.66" r="1.0"/><circle cx="407.38" cy="133.8" r="1.0"/><circle cx="400.86" cy="135.44" r="1.0"/><circle cx="409.05" cy="129.16" r="1.0"/></g>
<path d="M374.9 116.75V162.25H419.9M382.2 162.25v1.9M398.8 162.25v1.9M415.4 162.25v1.9M374.9 117.7h-2M374.9 127.35h-2M374.9 137h-2M374.9 146.65h-2M374.9 156.3h-2" fill="none" stroke="#333" stroke-width="0.7"/>
<g fill="#f3ea55" stroke="#fff" stroke-width="0.18"><circle cx="437.1" cy="155.48" r="1.0"/><circle cx="438" cy="158.26" r="1.0"/><circle cx="435.15" cy="160.58" r="1.0"/><circle cx="436.17" cy="155.23" r="1.0"/><circle cx="440.32" cy="155.97" r="1.0"/><circle cx="438.97" cy="150.88" r="1.0"/><circle cx="446.79" cy="147.21" r="1.0"/><circle cx="446.53" cy="146.66" r="1.0"/><circle cx="435.03" cy="156.16" r="1.0"/><circle cx="444.46" cy="147.79" r="1.0"/><circle cx="435.45" cy="155.56" r="1.0"/><circle cx="439.87" cy="153.06" r="1.0"/><circle cx="444.47" cy="153.07" r="1.0"/><circle cx="431.79" cy="161.62" r="1.0"/><circle cx="439.66" cy="152.96" r="1.0"/><circle cx="445.45" cy="147.3" r="1.0"/><circle cx="439.41" cy="152.9" r="1.0"/><circle cx="441.1" cy="153.67" r="1.0"/><circle cx="440.11" cy="156.84" r="1.0"/><circle cx="437.68" cy="153.98" r="1.0"/><circle cx="440.54" cy="151.55" r="1.0"/><circle cx="439.52" cy="152.55" r="1.0"/><circle cx="435.68" cy="159.04" r="1.0"/><circle cx="436.7" cy="158.29" r="1.0"/></g>
<g fill="#35b779" stroke="#fff" stroke-width="0.18"><circle cx="452.04" cy="143.25" r="1.0"/><circle cx="454.16" cy="138.16" r="1.0"/><circle cx="447.81" cy="148.46" r="1.0"/><circle cx="445.29" cy="146.01" r="1.0"/><circle cx="452.53" cy="144.85" r="1.0"/><circle cx="452.46" cy="144.89" r="1.0"/><circle cx="450.11" cy="142.66" r="1.0"/><circle cx="448.23" cy="147.75" r="1.0"/><circle cx="446.81" cy="146.73" r="1.0"/></g>
<g fill="#2e0c4c" stroke="#fff" stroke-width="0.18"><circle cx="458.15" cy="128.17" r="1.0"/><circle cx="456.57" cy="127.23" r="1.0"/><circle cx="458.74" cy="132.73" r="1.0"/><circle cx="454.6" cy="130.64" r="1.0"/><circle cx="456.14" cy="129.67" r="1.0"/><circle cx="456.17" cy="131.89" r="1.0"/><circle cx="455.96" cy="128.76" r="1.0"/><circle cx="456.89" cy="129.14" r="1.0"/><circle cx="456.37" cy="134.59" r="1.0"/><circle cx="457.33" cy="130.63" r="1.0"/><circle cx="461.03" cy="131.57" r="1.0"/><circle cx="458.81" cy="127.44" r="1.0"/><circle cx="464.87" cy="122.04" r="1.0"/><circle cx="456.04" cy="132.08" r="1.0"/><circle cx="462.43" cy="127.15" r="1.0"/><circle cx="456.93" cy="133.63" r="1.0"/><circle cx="454.66" cy="133.8" r="1.0"/><circle cx="461.66" cy="128.61" r="1.0"/><circle cx="449.89" cy="139.09" r="1.0"/><circle cx="455.17" cy="132.76" r="1.0"/><circle cx="456" cy="139.17" r="1.0"/><circle cx="460.92" cy="131.51" r="1.0"/><circle cx="461" cy="131.51" r="1.0"/><circle cx="462.1" cy="129.33" r="1.0"/><circle cx="452.37" cy="141.33" r="1.0"/><circle cx="454.37" cy="130.75" r="1.0"/><circle cx="454.99" cy="138.69" r="1.0"/><circle cx="453.11" cy="139.76" r="1.0"/><circle cx="459.4" cy="138.57" r="1.0"/><circle cx="456.95" cy="131.45" r="1.0"/><circle cx="461.95" cy="119.15" r="1.0"/><circle cx="465.55" cy="118.66" r="1.0"/><circle cx="466.27" cy="146.65" r="1.0"/><circle cx="457" cy="120.59" r="1.0"/></g>
<g fill="#2d6a96" stroke="#fff" stroke-width="0.18"><circle cx="461.51" cy="137.71" r="1.0"/><circle cx="464.48" cy="132.02" r="1.0"/><circle cx="464.05" cy="133.77" r="1.0"/><circle cx="462.79" cy="132.32" r="1.0"/><circle cx="462.61" cy="132.99" r="1.0"/><circle cx="465.17" cy="137.24" r="1.0"/><circle cx="463.22" cy="135.25" r="1.0"/><circle cx="463.9" cy="132.15" r="1.0"/><circle cx="464.27" cy="132.29" r="1.0"/><circle cx="464.63" cy="129.87" r="1.0"/><circle cx="464.69" cy="132.73" r="1.0"/><circle cx="464.31" cy="137.29" r="1.0"/><circle cx="465.44" cy="128.95" r="1.0"/><circle cx="463.62" cy="135.83" r="1.0"/><circle cx="464.45" cy="137.07" r="1.0"/><circle cx="463.83" cy="124.78" r="1.0"/><circle cx="465.29" cy="139.68" r="1.0"/><circle cx="464.78" cy="129.98" r="1.0"/><circle cx="464.48" cy="135.63" r="1.0"/><circle cx="462.6" cy="134.11" r="1.0"/><circle cx="466.14" cy="137.77" r="1.0"/><circle cx="465.31" cy="129.07" r="1.0"/><circle cx="464.1" cy="129.03" r="1.0"/><circle cx="464.37" cy="137.73" r="1.0"/><circle cx="464.63" cy="137.98" r="1.0"/><circle cx="463.4" cy="133.05" r="1.0"/><circle cx="465.37" cy="134.98" r="1.0"/><circle cx="461.64" cy="141.99" r="1.0"/><circle cx="464.63" cy="124.42" r="1.0"/><circle cx="464.01" cy="135.02" r="1.0"/><circle cx="465.83" cy="127.41" r="1.0"/><circle cx="464.19" cy="128.13" r="1.0"/><circle cx="463.67" cy="136.78" r="1.0"/><circle cx="465.62" cy="135.66" r="1.0"/><circle cx="463.76" cy="134.6" r="1.0"/><circle cx="464.05" cy="126.71" r="1.0"/><circle cx="464.78" cy="129.58" r="1.0"/><circle cx="463.24" cy="131.37" r="1.0"/><circle cx="465.3" cy="130.15" r="1.0"/><circle cx="462.97" cy="132.15" r="1.0"/><circle cx="463.59" cy="132.74" r="1.0"/><circle cx="464.36" cy="134.53" r="1.0"/><circle cx="464.45" cy="131.13" r="1.0"/><circle cx="464.98" cy="130.87" r="1.0"/><circle cx="464.11" cy="131.62" r="1.0"/><circle cx="463.9" cy="125.89" r="1.0"/><circle cx="464.82" cy="132.02" r="1.0"/><circle cx="464.19" cy="137.56" r="1.0"/><circle cx="465.11" cy="128.2" r="1.0"/><circle cx="463.79" cy="129.21" r="1.0"/><circle cx="462.78" cy="133.69" r="1.0"/><circle cx="463.31" cy="136.47" r="1.0"/><circle cx="465.88" cy="129.42" r="1.0"/><circle cx="463.82" cy="134.84" r="1.0"/><circle cx="462.41" cy="130.67" r="1.0"/><circle cx="465.13" cy="135.12" r="1.0"/><circle cx="463.8" cy="128.8" r="1.0"/><circle cx="462.99" cy="135.76" r="1.0"/><circle cx="463.17" cy="132.66" r="1.0"/><circle cx="464.39" cy="133.8" r="1.0"/><circle cx="463.06" cy="135.44" r="1.0"/><circle cx="464.95" cy="129.16" r="1.0"/></g>
<path d="M424.5 116.75V162.25H469.5M430 162.25v1.9M439 162.25v1.9M448 162.25v1.9M457 162.25v1.9M466 162.25v1.9M424.5 117.7h-2M424.5 127.35h-2M424.5 137h-2M424.5 146.65h-2M424.5 156.3h-2" fill="none" stroke="#333" stroke-width="0.7"/>
<g fill="#f3ea55" stroke="#fff" stroke-width="0.18"><circle cx="489.02" cy="155.48" r="1.0"/><circle cx="487.25" cy="158.26" r="1.0"/><circle cx="485.41" cy="160.58" r="1.0"/><circle cx="495.33" cy="155.23" r="1.0"/><circle cx="490.39" cy="155.97" r="1.0"/><circle cx="486.76" cy="150.88" r="1.0"/><circle cx="493.71" cy="147.21" r="1.0"/><circle cx="496.53" cy="146.66" r="1.0"/><circle cx="487.03" cy="156.16" r="1.0"/><circle cx="489.82" cy="147.79" r="1.0"/><circle cx="483.17" cy="155.56" r="1.0"/><circle cx="486.71" cy="153.06" r="1.0"/><circle cx="487.38" cy="153.07" r="1.0"/><circle cx="483.85" cy="161.62" r="1.0"/><circle cx="491.5" cy="152.96" r="1.0"/><circle cx="492.06" cy="147.3" r="1.0"/><circle cx="487.15" cy="152.9" r="1.0"/><circle cx="490.7" cy="153.67" r="1.0"/><circle cx="487.5" cy="156.84" r="1.0"/><circle cx="488.76" cy="153.98" r="1.0"/><circle cx="485.67" cy="151.55" r="1.0"/><circle cx="488.76" cy="152.55" r="1.0"/><circle cx="483.69" cy="159.04" r="1.0"/><circle cx="488.38" cy="158.29" r="1.0"/></g>
<g fill="#35b779" stroke="#fff" stroke-width="0.18"><circle cx="498.54" cy="143.25" r="1.0"/><circle cx="500.7" cy="138.16" r="1.0"/><circle cx="493.8" cy="148.46" r="1.0"/><circle cx="495.81" cy="146.01" r="1.0"/><circle cx="496.13" cy="144.85" r="1.0"/><circle cx="497.16" cy="144.89" r="1.0"/><circle cx="497.87" cy="142.66" r="1.0"/><circle cx="495" cy="147.75" r="1.0"/><circle cx="495.93" cy="146.73" r="1.0"/></g>
<g fill="#2e0c4c" stroke="#fff" stroke-width="0.18"><circle cx="505.1" cy="128.17" r="1.0"/><circle cx="500.24" cy="127.23" r="1.0"/><circle cx="504.81" cy="132.73" r="1.0"/><circle cx="498.71" cy="130.64" r="1.0"/><circle cx="503.35" cy="129.67" r="1.0"/><circle cx="499.27" cy="131.89" r="1.0"/><circle cx="507.83" cy="128.76" r="1.0"/><circle cx="506.62" cy="129.14" r="1.0"/><circle cx="504.68" cy="134.59" r="1.0"/><circle cx="502.41" cy="130.63" r="1.0"/><circle cx="499.74" cy="131.57" r="1.0"/><circle cx="503.85" cy="127.44" r="1.0"/><circle cx="506.33" cy="122.04" r="1.0"/><circle cx="502.96" cy="132.08" r="1.0"/><circle cx="505.3" cy="127.15" r="1.0"/><circle cx="499.95" cy="133.63" r="1.0"/><circle cx="507.99" cy="133.8" r="1.0"/><circle cx="505.77" cy="128.61" r="1.0"/><circle cx="504.03" cy="139.09" r="1.0"/><circle cx="501.59" cy="132.76" r="1.0"/><circle cx="503.49" cy="139.17" r="1.0"/><circle cx="506.77" cy="131.51" r="1.0"/><circle cx="501.42" cy="131.51" r="1.0"/><circle cx="505.39" cy="129.33" r="1.0"/><circle cx="503.79" cy="141.33" r="1.0"/><circle cx="506.15" cy="130.75" r="1.0"/><circle cx="500.56" cy="138.69" r="1.0"/><circle cx="503.56" cy="139.76" r="1.0"/><circle cx="500.35" cy="138.57" r="1.0"/><circle cx="503.8" cy="131.45" r="1.0"/><circle cx="510.18" cy="119.15" r="1.0"/><circle cx="511.59" cy="118.66" r="1.0"/><circle cx="496.78" cy="146.65" r="1.0"/><circle cx="505.95" cy="120.59" r="1.0"/></g>
<g fill="#2d6a96" stroke="#fff" stroke-width="0.18"><circle cx="497.94" cy="137.71" r="1.0"/><circle cx="501.36" cy="132.02" r="1.0"/><circle cx="499.9" cy="133.77" r="1.0"/><circle cx="499.23" cy="132.32" r="1.0"/><circle cx="500.94" cy="132.99" r="1.0"/><circle cx="500.75" cy="137.24" r="1.0"/><circle cx="501.73" cy="135.25" r="1.0"/><circle cx="502.03" cy="132.15" r="1.0"/><circle cx="502.45" cy="132.29" r="1.0"/><circle cx="499.94" cy="129.87" r="1.0"/><circle cx="502.03" cy="132.73" r="1.0"/><circle cx="499.99" cy="137.29" r="1.0"/><circle cx="505.84" cy="128.95" r="1.0"/><circle cx="500.54" cy="135.83" r="1.0"/><circle cx="499.32" cy="137.07" r="1.0"/><circle cx="504.51" cy="124.78" r="1.0"/><circle cx="497.01" cy="139.68" r="1.0"/><circle cx="504.73" cy="129.98" r="1.0"/><circle cx="502.65" cy="135.63" r="1.0"/><circle cx="499.84" cy="134.11" r="1.0"/><circle cx="501.39" cy="137.77" r="1.0"/><circle cx="503.42" cy="129.07" r="1.0"/><circle cx="503.09" cy="129.03" r="1.0"/><circle cx="499.39" cy="137.73" r="1.0"/><circle cx="501.45" cy="137.98" r="1.0"/><circle cx="498.35" cy="133.05" r="1.0"/><circle cx="500.43" cy="134.98" r="1.0"/><circle cx="500.07" cy="141.99" r="1.0"/><circle cx="505.99" cy="124.42" r="1.0"/><circle cx="501.87" cy="135.02" r="1.0"/><circle cx="505.38" cy="127.41" r="1.0"/><circle cx="503.77" cy="128.13" r="1.0"/><circle cx="498.33" cy="136.78" r="1.0"/><circle cx="500.03" cy="135.66" r="1.0"/><circle cx="499.79" cy="134.6" r="1.0"/><circle cx="505.76" cy="126.71" r="1.0"/><circle cx="505.08" cy="129.58" r="1.0"/><circle cx="504.3" cy="131.37" r="1.0"/><circle cx="501.5" cy="130.15" r="1.0"/><circle cx="499.7" cy="132.15" r="1.0"/><circle cx="502.24" cy="132.74" r="1.0"/><circle cx="503.12" cy="134.53" r="1.0"/><circle cx="501.7" cy="131.13" r="1.0"/><circle cx="501.92" cy="130.87" r="1.0"/><circle cx="500.18" cy="131.62" r="1.0"/><circle cx="505.09" cy="125.89" r="1.0"/><circle cx="500.22" cy="132.02" r="1.0"/><circle cx="498.01" cy="137.56" r="1.0"/><circle cx="504.48" cy="128.2" r="1.0"/><circle cx="503" cy="129.21" r="1.0"/><circle cx="497.38" cy="133.69" r="1.0"/><circle cx="498.31" cy="136.47" r="1.0"/><circle cx="504.71" cy="129.42" r="1.0"/><circle cx="496.66" cy="134.84" r="1.0"/><circle cx="502.64" cy="130.67" r="1.0"/><circle cx="499.93" cy="135.12" r="1.0"/><circle cx="498.86" cy="128.8" r="1.0"/><circle cx="501.4" cy="135.76" r="1.0"/><circle cx="499.69" cy="132.66" r="1.0"/><circle cx="503.57" cy="133.8" r="1.0"/><circle cx="499.83" cy="135.44" r="1.0"/><circle cx="502.76" cy="129.16" r="1.0"/></g>
<path d="M474.1 116.75V162.25H519.1M485.5 162.25v1.9M499.6 162.25v1.9M513.7 162.25v1.9M474.1 117.7h-2M474.1 127.35h-2M474.1 137h-2M474.1 146.65h-2M474.1 156.3h-2" fill="none" stroke="#333" stroke-width="0.7"/>
<g fill="#f3ea55" stroke="#fff" stroke-width="0.18"><circle cx="336.68" cy="208.75" r="1.0"/><circle cx="334.73" cy="208.3" r="1.0"/><circle cx="333.11" cy="209.42" r="1.0"/><circle cx="336.85" cy="209.38" r="1.0"/><circle cx="336.33" cy="208.62" r="1.0"/><circle cx="339.89" cy="205.69" r="1.0"/><circle cx="342.46" cy="198.26" r="1.0"/><circle cx="342.85" cy="198.9" r="1.0"/><circle cx="336.2" cy="206.89" r="1.0"/><circle cx="342.05" cy="199.05" r="1.0"/><circle cx="336.62" cy="208.06" r="1.0"/><circle cx="338.37" cy="207.19" r="1.0"/><circle cx="338.36" cy="204.75" r="1.0"/><circle cx="332.38" cy="211.6" r="1.0"/><circle cx="338.44" cy="207.06" r="1.0"/><circle cx="342.39" cy="203.97" r="1.0"/><circle cx="338.48" cy="206.22" r="1.0"/><circle cx="337.94" cy="208.49" r="1.0"/><circle cx="335.72" cy="207.83" r="1.0"/><circle cx="337.72" cy="206.5" r="1.0"/><circle cx="339.42" cy="205.97" r="1.0"/><circle cx="338.72" cy="206.03" r="1.0"/><circle cx="334.18" cy="211.53" r="1.0"/><circle cx="334.7" cy="209.98" r="1.0"/></g>
<g fill="#35b779" stroke="#fff" stroke-width="0.18"><circle cx="345.23" cy="194.71" r="1.0"/><circle cx="348.79" cy="196.22" r="1.0"/><circle cx="341.58" cy="199.98" r="1.0"/><circle cx="343.29" cy="198.61" r="1.0"/><circle cx="344.11" cy="195.75" r="1.0"/><circle cx="344.08" cy="196.94" r="1.0"/><circle cx="345.64" cy="198.58" r="1.0"/><circle cx="342.08" cy="199.76" r="1.0"/><circle cx="342.79" cy="198.92" r="1.0"/></g>
<g fill="#2e0c4c" stroke="#fff" stroke-width="0.18"><circle cx="355.78" cy="191.8" r="1.0"/><circle cx="356.43" cy="193.51" r="1.0"/><circle cx="352.59" cy="195.21" r="1.0"/><circle cx="354.05" cy="195.81" r="1.0"/><circle cx="354.73" cy="194.94" r="1.0"/><circle cx="353.18" cy="195.93" r="1.0"/><circle cx="355.37" cy="196.69" r="1.0"/><circle cx="355.1" cy="189.65" r="1.0"/><circle cx="351.29" cy="195.27" r="1.0"/><circle cx="354.05" cy="193.6" r="1.0"/><circle cx="353.4" cy="193.41" r="1.0"/><circle cx="356.29" cy="190.68" r="1.0"/><circle cx="360.06" cy="184.36" r="1.0"/><circle cx="353.04" cy="193.86" r="1.0"/><circle cx="356.49" cy="188.96" r="1.0"/><circle cx="351.95" cy="192.33" r="1.0"/><circle cx="351.84" cy="192.57" r="1.0"/><circle cx="355.47" cy="193.16" r="1.0"/><circle cx="348.14" cy="196.84" r="1.0"/><circle cx="352.56" cy="196.32" r="1.0"/><circle cx="348.08" cy="188.99" r="1.0"/><circle cx="353.44" cy="193.14" r="1.0"/><circle cx="353.44" cy="193.44" r="1.0"/><circle cx="354.96" cy="189.24" r="1.0"/><circle cx="346.57" cy="196.58" r="1.0"/><circle cx="353.97" cy="196.94" r="1.0"/><circle cx="348.42" cy="192.49" r="1.0"/><circle cx="347.67" cy="197.19" r="1.0"/><circle cx="348.5" cy="194.32" r="1.0"/><circle cx="353.48" cy="192.98" r="1.0"/><circle cx="362.09" cy="193.88" r="1.0"/><circle cx="362.43" cy="187.91" r="1.0"/><circle cx="342.85" cy="179.99" r="1.0"/><circle cx="361.08" cy="195.51" r="1.0"/></g>
<g fill="#2d6a96" stroke="#fff" stroke-width="0.18"><circle cx="349.1" cy="181.21" r="1.0"/><circle cx="353.08" cy="178.84" r="1.0"/><circle cx="351.86" cy="176.61" r="1.0"/><circle cx="352.87" cy="182.62" r="1.0"/><circle cx="352.41" cy="186.75" r="1.0"/><circle cx="349.43" cy="181.12" r="1.0"/><circle cx="350.82" cy="181.44" r="1.0"/><circle cx="353" cy="177.64" r="1.0"/><circle cx="352.89" cy="178.49" r="1.0"/><circle cx="354.59" cy="185.34" r="1.0"/><circle cx="352.59" cy="175.29" r="1.0"/><circle cx="349.4" cy="178.02" r="1.0"/><circle cx="355.23" cy="173.56" r="1.0"/><circle cx="350.42" cy="183.81" r="1.0"/><circle cx="349.55" cy="178.96" r="1.0"/><circle cx="358.15" cy="182.14" r="1.0"/><circle cx="347.73" cy="180.53" r="1.0"/><circle cx="354.51" cy="177.12" r="1.0"/><circle cx="350.56" cy="182.88" r="1.0"/><circle cx="351.62" cy="178.07" r="1.0"/><circle cx="349.06" cy="175.17" r="1.0"/><circle cx="355.15" cy="176.02" r="1.0"/><circle cx="355.18" cy="178.13" r="1.0"/><circle cx="349.09" cy="178.69" r="1.0"/><circle cx="348.92" cy="177.28" r="1.0"/><circle cx="352.36" cy="181.13" r="1.0"/><circle cx="351.01" cy="181.75" r="1.0"/><circle cx="346.11" cy="183.58" r="1.0"/><circle cx="358.4" cy="180.09" r="1.0"/><circle cx="350.99" cy="180.79" r="1.0"/><circle cx="356.31" cy="178.88" r="1.0"/><circle cx="355.81" cy="178.3" r="1.0"/><circle cx="349.75" cy="183.89" r="1.0"/><circle cx="350.54" cy="177.88" r="1.0"/><circle cx="351.28" cy="181.09" r="1.0"/><circle cx="356.8" cy="181.22" r="1.0"/><circle cx="354.79" cy="175.74" r="1.0"/><circle cx="353.54" cy="181.31" r="1.0"/><circle cx="354.39" cy="175.97" r="1.0"/><circle cx="352.99" cy="181.6" r="1.0"/><circle cx="352.58" cy="178.45" r="1.0"/><circle cx="351.33" cy="188.23" r="1.0"/><circle cx="353.7" cy="183.55" r="1.0"/><circle cx="353.89" cy="177.7" r="1.0"/><circle cx="353.36" cy="180.89" r="1.0"/><circle cx="357.37" cy="183.18" r="1.0"/><circle cx="353.08" cy="173.88" r="1.0"/><circle cx="349.21" cy="178.19" r="1.0"/><circle cx="355.75" cy="171.32" r="1.0"/><circle cx="355.05" cy="185" r="1.0"/><circle cx="351.92" cy="188.14" r="1.0"/><circle cx="349.97" cy="176.48" r="1.0"/><circle cx="354.9" cy="174.21" r="1.0"/><circle cx="351.11" cy="181.92" r="1.0"/><circle cx="354.03" cy="180.53" r="1.0"/><circle cx="350.92" cy="173.19" r="1.0"/><circle cx="355.33" cy="185.65" r="1.0"/><circle cx="350.47" cy="180" r="1.0"/><circle cx="352.64" cy="182.65" r="1.0"/><circle cx="351.84" cy="177.79" r="1.0"/><circle cx="350.69" cy="186.31" r="1.0"/><circle cx="355.09" cy="175.6" r="1.0"/></g>
<path d="M325.7 168.1V213.1H370.7M336.1 213.1v1.9M349.6 213.1v1.9M363.1 213.1v1.9M325.7 178.15h-2M325.7 189h-2M325.7 199.85h-2M325.7 210.7h-2" fill="none" stroke="#333" stroke-width="0.7"/>
<g clip-path="url(#cp11)">
<defs><clipPath id="cp11"><rect x="374.9" y="166.1" width="45" height="47"/></clipPath></defs>
<path d="M375.6 213.1L375.6 213.05L376.07 213.01L376.55 212.94L377.02 212.82L377.49 212.64L377.96 212.36L378.43 211.97L378.9 211.42L379.38 210.69L379.85 209.77L380.32 208.66L380.79 207.39L381.26 206L381.73 204.58L382.21 203.22L382.68 202.02L383.15 201.07L383.62 200.42L384.09 200.1L384.56 200.1L385.04 200.37L385.51 200.83L385.98 201.44L386.45 202.15L386.92 202.92L387.39 203.75L387.87 204.65L388.34 205.63L388.81 206.66L389.28 207.72L389.75 208.76L390.23 209.74L390.7 210.61L391.17 211.33L391.64 211.9L392.11 212.32L392.58 212.62L393.06 212.82L393.53 212.94L394 213.02L394.47 213.06L394.47 213.1Z" fill="#fde725" fill-opacity="0.62" stroke="#fde725" stroke-opacity="0.45" stroke-width="0.4"/>
<path d="M386.92 213.1L386.92 213.06L387.39 212.98L387.87 212.78L388.34 212.36L388.81 211.62L389.28 210.55L389.75 209.3L390.23 208.19L390.7 207.6L391.17 207.77L391.64 208.62L392.11 209.84L392.58 211.04L393.06 211.98L393.53 212.57L394 212.88L394.47 213.02L394.47 213.1Z" fill="#35b779" fill-opacity="0.6" stroke="#35b779" stroke-opacity="0.45" stroke-width="0.4"/>
<path d="M395.41 213.1L395.41 213.05L395.89 213.01L396.36 212.93L396.83 212.81L397.3 212.6L397.77 212.28L398.24 211.79L398.72 211.08L399.19 210.06L399.66 208.65L400.13 206.8L400.6 204.43L401.08 201.52L401.55 198.08L402.02 194.18L402.49 189.95L402.96 185.59L403.43 181.35L403.91 177.49L404.38 174.26L404.85 171.9L405.32 170.56L405.79 170.3L406.26 171.09L406.74 172.83L407.21 175.31L407.68 178.34L408.15 181.68L408.62 185.14L409.09 188.56L409.57 191.83L410.04 194.88L410.51 197.68L410.98 200.23L411.45 202.51L411.92 204.54L412.4 206.32L412.87 207.85L413.34 209.13L413.81 210.18L414.28 211.01L414.76 211.65L415.23 212.13L415.7 212.47L416.17 212.7L416.64 212.86L417.11 212.96L417.59 213.02L418.06 213.06L418.06 213.1Z" fill="#2f699b" fill-opacity="0.6" stroke="#2f699b" stroke-opacity="0.45" stroke-width="0.4"/>
<path d="M387.39 213.1L387.39 213.05L387.87 213L388.34 212.91L388.81 212.75L389.28 212.48L389.75 212.04L390.23 211.36L390.7 210.38L391.17 209.02L391.64 207.26L392.11 205.1L392.58 202.61L393.06 199.95L393.53 197.32L394 194.98L394.47 193.21L394.94 192.2L395.41 192.1L395.89 192.91L396.36 194.53L396.83 196.76L397.3 199.35L397.77 202.03L398.24 204.57L398.72 206.81L399.19 208.67L399.66 210.11L400.13 211.17L400.6 211.91L401.08 212.4L401.55 212.7L402.02 212.89L402.49 212.99L402.96 213.05L402.96 213.1Z" fill="#4c1386" fill-opacity="0.7" stroke="#4c1386" stroke-opacity="0.45" stroke-width="0.4"/>
</g>
<path d="M374.9 168.1V213.1H419.9M382.2 213.1v1.9M398.8 213.1v1.9M415.4 213.1v1.9M374.9 178.15h-2M374.9 189h-2M374.9 199.85h-2M374.9 210.7h-2" fill="none" stroke="#333" stroke-width="0.7"/>
<g fill="#f3ea55" stroke="#fff" stroke-width="0.18"><circle cx="437.1" cy="208.75" r="1.0"/><circle cx="438" cy="208.3" r="1.0"/><circle cx="435.15" cy="209.42" r="1.0"/><circle cx="436.17" cy="209.38" r="1.0"/><circle cx="440.32" cy="208.62" r="1.0"/><circle cx="438.97" cy="205.69" r="1.0"/><circle cx="446.79" cy="198.26" r="1.0"/><circle cx="446.53" cy="198.9" r="1.0"/><circle cx="435.03" cy="206.89" r="1.0"/><circle cx="444.46" cy="199.05" r="1.0"/><circle cx="435.45" cy="208.06" r="1.0"/><circle cx="439.87" cy="207.19" r="1.0"/><circle cx="444.47" cy="204.75" r="1.0"/><circle cx="431.79" cy="211.6" r="1.0"/><circle cx="439.66" cy="207.06" r="1.0"/><circle cx="445.45" cy="203.97" r="1.0"/><circle cx="439.41" cy="206.22" r="1.0"/><circle cx="441.1" cy="208.49" r="1.0"/><circle cx="440.11" cy="207.83" r="1.0"/><circle cx="437.68" cy="206.5" r="1.0"/><circle cx="440.54" cy="205.97" r="1.0"/><circle cx="439.52" cy="206.03" r="1.0"/><circle cx="435.68" cy="211.53" r="1.0"/><circle cx="436.7" cy="209.98" r="1.0"/></g>
<g fill="#35b779" stroke="#fff" stroke-width="0.18"><circle cx="452.04" cy="194.71" r="1.0"/><circle cx="454.16" cy="196.22" r="1.0"/><circle cx="447.81" cy="199.98" r="1.0"/><circle cx="445.29" cy="198.61" r="1.0"/><circle cx="452.53" cy="195.75" r="1.0"/><circle cx="452.46" cy="196.94" r="1.0"/><circle cx="450.11" cy="198.58" r="1.0"/><circle cx="448.23" cy="199.76" r="1.0"/><circle cx="446.81" cy="198.92" r="1.0"/></g>
<g fill="#2e0c4c" stroke="#fff" stroke-width="0.18"><circle cx="458.15" cy="191.8" r="1.0"/><circle cx="456.57" cy="193.51" r="1.0"/><circle cx="458.74" cy="195.21" r="1.0"/><circle cx="454.6" cy="195.81" r="1.0"/><circle cx="456.14" cy="194.94" r="1.0"/><circle cx="456.17" cy="195.93" r="1.0"/><circle cx="455.96" cy="196.69" r="1.0"/><circle cx="456.89" cy="189.65" r="1.0"/><circle cx="456.37" cy="195.27" r="1.0"/><circle cx="457.33" cy="193.6" r="1.0"/><circle cx="461.03" cy="193.41" r="1.0"/><circle cx="458.81" cy="190.68" r="1.0"/><circle cx="464.87" cy="184.36" r="1.0"/><circle cx="456.04" cy="193.86" r="1.0"/><circle cx="462.43" cy="188.96" r="1.0"/><circle cx="456.93" cy="192.33" r="1.0"/><circle cx="454.66" cy="192.57" r="1.0"/><circle cx="461.66" cy="193.16" r="1.0"/><circle cx="449.89" cy="196.84" r="1.0"/><circle cx="455.17" cy="196.32" r="1.0"/><circle cx="456" cy="188.99" r="1.0"/><circle cx="460.92" cy="193.14" r="1.0"/><circle cx="461" cy="193.44" r="1.0"/><circle cx="462.1" cy="189.24" r="1.0"/><circle cx="452.37" cy="196.58" r="1.0"/><circle cx="454.37" cy="196.94" r="1.0"/><circle cx="454.99" cy="192.49" r="1.0"/><circle cx="453.11" cy="197.19" r="1.0"/><circle cx="459.4" cy="194.32" r="1.0"/><circle cx="456.95" cy="192.98" r="1.0"/><circle cx="461.95" cy="193.88" r="1.0"/><circle cx="465.55" cy="187.91" r="1.0"/><circle cx="466.27" cy="179.99" r="1.0"/><circle cx="457" cy="195.51" r="1.0"/></g>
<g fill="#2d6a96" stroke="#fff" stroke-width="0.18"><circle cx="461.51" cy="181.21" r="1.0"/><circle cx="464.48" cy="178.84" r="1.0"/><circle cx="464.05" cy="176.61" r="1.0"/><circle cx="462.79" cy="182.62" r="1.0"/><circle cx="462.61" cy="186.75" r="1.0"/><circle cx="465.17" cy="181.12" r="1.0"/><circle cx="463.22" cy="181.44" r="1.0"/><circle cx="463.9" cy="177.64" r="1.0"/><circle cx="464.27" cy="178.49" r="1.0"/><circle cx="464.63" cy="185.34" r="1.0"/><circle cx="464.69" cy="175.29" r="1.0"/><circle cx="464.31" cy="178.02" r="1.0"/><circle cx="465.44" cy="173.56" r="1.0"/><circle cx="463.62" cy="183.81" r="1.0"/><circle cx="464.45" cy="178.96" r="1.0"/><circle cx="463.83" cy="182.14" r="1.0"/><circle cx="465.29" cy="180.53" r="1.0"/><circle cx="464.78" cy="177.12" r="1.0"/><circle cx="464.48" cy="182.88" r="1.0"/><circle cx="462.6" cy="178.07" r="1.0"/><circle cx="466.14" cy="175.17" r="1.0"/><circle cx="465.31" cy="176.02" r="1.0"/><circle cx="464.1" cy="178.13" r="1.0"/><circle cx="464.37" cy="178.69" r="1.0"/><circle cx="464.63" cy="177.28" r="1.0"/><circle cx="463.4" cy="181.13" r="1.0"/><circle cx="465.37" cy="181.75" r="1.0"/><circle cx="461.64" cy="183.58" r="1.0"/><circle cx="464.63" cy="180.09" r="1.0"/><circle cx="464.01" cy="180.79" r="1.0"/><circle cx="465.83" cy="178.88" r="1.0"/><circle cx="464.19" cy="178.3" r="1.0"/><circle cx="463.67" cy="183.89" r="1.0"/><circle cx="465.62" cy="177.88" r="1.0"/><circle cx="463.76" cy="181.09" r="1.0"/><circle cx="464.05" cy="181.22" r="1.0"/><circle cx="464.78" cy="175.74" r="1.0"/><circle cx="463.24" cy="181.31" r="1.0"/><circle cx="465.3" cy="175.97" r="1.0"/><circle cx="462.97" cy="181.6" r="1.0"/><circle cx="463.59" cy="178.45" r="1.0"/><circle cx="464.36" cy="188.23" r="1.0"/><circle cx="464.45" cy="183.55" r="1.0"/><circle cx="464.98" cy="177.7" r="1.0"/><circle cx="464.11" cy="180.89" r="1.0"/><circle cx="463.9" cy="183.18" r="1.0"/><circle cx="464.82" cy="173.88" r="1.0"/><circle cx="464.19" cy="178.19" r="1.0"/><circle cx="465.11" cy="171.32" r="1.0"/><circle cx="463.79" cy="185" r="1.0"/><circle cx="462.78" cy="188.14" r="1.0"/><circle cx="463.31" cy="176.48" r="1.0"/><circle cx="465.88" cy="174.21" r="1.0"/><circle cx="463.82" cy="181.92" r="1.0"/><circle cx="462.41" cy="180.53" r="1.0"/><circle cx="465.13" cy="173.19" r="1.0"/><circle cx="463.8" cy="185.65" r="1.0"/><circle cx="462.99" cy="180" r="1.0"/><circle cx="463.17" cy="182.65" r="1.0"/><circle cx="464.39" cy="177.79" r="1.0"/><circle cx="463.06" cy="186.31" r="1.0"/><circle cx="464.95" cy="175.6" r="1.0"/></g>
<path d="M424.5 168.1V213.1H469.5M430 213.1v1.9M439 213.1v1.9M448 213.1v1.9M457 213.1v1.9M466 213.1v1.9M424.5 178.15h-2M424.5 189h-2M424.5 199.85h-2M424.5 210.7h-2" fill="none" stroke="#333" stroke-width="0.7"/>
<g fill="#f3ea55" stroke="#fff" stroke-width="0.18"><circle cx="489.02" cy="208.75" r="1.0"/><circle cx="487.25" cy="208.3" r="1.0"/><circle cx="485.41" cy="209.42" r="1.0"/><circle cx="495.33" cy="209.38" r="1.0"/><circle cx="490.39" cy="208.62" r="1.0"/><circle cx="486.76" cy="205.69" r="1.0"/><circle cx="493.71" cy="198.26" r="1.0"/><circle cx="496.53" cy="198.9" r="1.0"/><circle cx="487.03" cy="206.89" r="1.0"/><circle cx="489.82" cy="199.05" r="1.0"/><circle cx="483.17" cy="208.06" r="1.0"/><circle cx="486.71" cy="207.19" r="1.0"/><circle cx="487.38" cy="204.75" r="1.0"/><circle cx="483.85" cy="211.6" r="1.0"/><circle cx="491.5" cy="207.06" r="1.0"/><circle cx="492.06" cy="203.97" r="1.0"/><circle cx="487.15" cy="206.22" r="1.0"/><circle cx="490.7" cy="208.49" r="1.0"/><circle cx="487.5" cy="207.83" r="1.0"/><circle cx="488.76" cy="206.5" r="1.0"/><circle cx="485.67" cy="205.97" r="1.0"/><circle cx="488.76" cy="206.03" r="1.0"/><circle cx="483.69" cy="211.53" r="1.0"/><circle cx="488.38" cy="209.98" r="1.0"/></g>
<g fill="#35b779" stroke="#fff" stroke-width="0.18"><circle cx="498.54" cy="194.71" r="1.0"/><circle cx="500.7" cy="196.22" r="1.0"/><circle cx="493.8" cy="199.98" r="1.0"/><circle cx="495.81" cy="198.61" r="1.0"/><circle cx="496.13" cy="195.75" r="1.0"/><circle cx="497.16" cy="196.94" r="1.0"/><circle cx="497.87" cy="198.58" r="1.0"/><circle cx="495" cy="199.76" r="1.0"/><circle cx="495.93" cy="198.92" r="1.0"/></g>
<g fill="#2e0c4c" stroke="#fff" stroke-width="0.18"><circle cx="505.1" cy="191.8" r="1.0"/><circle cx="500.24" cy="193.51" r="1.0"/><circle cx="504.81" cy="195.21" r="1.0"/><circle cx="498.71" cy="195.81" r="1.0"/><circle cx="503.35" cy="194.94" r="1.0"/><circle cx="499.27" cy="195.93" r="1.0"/><circle cx="507.83" cy="196.69" r="1.0"/><circle cx="506.62" cy="189.65" r="1.0"/><circle cx="504.68" cy="195.27" r="1.0"/><circle cx="502.41" cy="193.6" r="1.0"/><circle cx="499.74" cy="193.41" r="1.0"/><circle cx="503.85" cy="190.68" r="1.0"/><circle cx="506.33" cy="184.36" r="1.0"/><circle cx="502.96" cy="193.86" r="1.0"/><circle cx="505.3" cy="188.96" r="1.0"/><circle cx="499.95" cy="192.33" r="1.0"/><circle cx="507.99" cy="192.57" r="1.0"/><circle cx="505.77" cy="193.16" r="1.0"/><circle cx="504.03" cy="196.84" r="1.0"/><circle cx="501.59" cy="196.32" r="1.0"/><circle cx="503.49" cy="188.99" r="1.0"/><circle cx="506.77" cy="193.14" r="1.0"/><circle cx="501.42" cy="193.44" r="1.0"/><circle cx="505.39" cy="189.24" r="1.0"/><circle cx="503.79" cy="196.58" r="1.0"/><circle cx="506.15" cy="196.94" r="1.0"/><circle cx="500.56" cy="192.49" r="1.0"/><circle cx="503.56" cy="197.19" r="1.0"/><circle cx="500.35" cy="194.32" r="1.0"/><circle cx="503.8" cy="192.98" r="1.0"/><circle cx="510.18" cy="193.88" r="1.0"/><circle cx="511.59" cy="187.91" r="1.0"/><circle cx="496.78" cy="179.99" r="1.0"/><circle cx="505.95" cy="195.51" r="1.0"/></g>
<g fill="#2d6a96" stroke="#fff" stroke-width="0.18"><circle cx="497.94" cy="181.21" r="1.0"/><circle cx="501.36" cy="178.84" r="1.0"/><circle cx="499.9" cy="176.61" r="1.0"/><circle cx="499.23" cy="182.62" r="1.0"/><circle cx="500.94" cy="186.75" r="1.0"/><circle cx="500.75" cy="181.12" r="1.0"/><circle cx="501.73" cy="181.44" r="1.0"/><circle cx="502.03" cy="177.64" r="1.0"/><circle cx="502.45" cy="178.49" r="1.0"/><circle cx="499.94" cy="185.34" r="1.0"/><circle cx="502.03" cy="175.29" r="1.0"/><circle cx="499.99" cy="178.02" r="1.0"/><circle cx="505.84" cy="173.56" r="1.0"/><circle cx="500.54" cy="183.81" r="1.0"/><circle cx="499.32" cy="178.96" r="1.0"/><circle cx="504.51" cy="182.14" r="1.0"/><circle cx="497.01" cy="180.53" r="1.0"/><circle cx="504.73" cy="177.12" r="1.0"/><circle cx="502.65" cy="182.88" r="1.0"/><circle cx="499.84" cy="178.07" r="1.0"/><circle cx="501.39" cy="175.17" r="1.0"/><circle cx="503.42" cy="176.02" r="1.0"/><circle cx="503.09" cy="178.13" r="1.0"/><circle cx="499.39" cy="178.69" r="1.0"/><circle cx="501.45" cy="177.28" r="1.0"/><circle cx="498.35" cy="181.13" r="1.0"/><circle cx="500.43" cy="181.75" r="1.0"/><circle cx="500.07" cy="183.58" r="1.0"/><circle cx="505.99" cy="180.09" r="1.0"/><circle cx="501.87" cy="180.79" r="1.0"/><circle cx="505.38" cy="178.88" r="1.0"/><circle cx="503.77" cy="178.3" r="1.0"/><circle cx="498.33" cy="183.89" r="1.0"/><circle cx="500.03" cy="177.88" r="1.0"/><circle cx="499.79" cy="181.09" r="1.0"/><circle cx="505.76" cy="181.22" r="1.0"/><circle cx="505.08" cy="175.74" r="1.0"/><circle cx="504.3" cy="181.31" r="1.0"/><circle cx="501.5" cy="175.97" r="1.0"/><circle cx="499.7" cy="181.6" r="1.0"/><circle cx="502.24" cy="178.45" r="1.0"/><circle cx="503.12" cy="188.23" r="1.0"/><circle cx="501.7" cy="183.55" r="1.0"/><circle cx="501.92" cy="177.7" r="1.0"/><circle cx="500.18" cy="180.89" r="1.0"/><circle cx="505.09" cy="183.18" r="1.0"/><circle cx="500.22" cy="173.88" r="1.0"/><circle cx="498.01" cy="178.19" r="1.0"/><circle cx="504.48" cy="171.32" r="1.0"/><circle cx="503" cy="185" r="1.0"/><circle cx="497.38" cy="188.14" r="1.0"/><circle cx="498.31" cy="176.48" r="1.0"/><circle cx="504.71" cy="174.21" r="1.0"/><circle cx="496.66" cy="181.92" r="1.0"/><circle cx="502.64" cy="180.53" r="1.0"/><circle cx="499.93" cy="173.19" r="1.0"/><circle cx="498.86" cy="185.65" r="1.0"/><circle cx="501.4" cy="180" r="1.0"/><circle cx="499.69" cy="182.65" r="1.0"/><circle cx="503.57" cy="177.79" r="1.0"/><circle cx="499.83" cy="186.31" r="1.0"/><circle cx="502.76" cy="175.6" r="1.0"/></g>
<path d="M474.1 168.1V213.1H519.1M485.5 213.1v1.9M499.6 213.1v1.9M513.7 213.1v1.9M474.1 178.15h-2M474.1 189h-2M474.1 199.85h-2M474.1 210.7h-2" fill="none" stroke="#333" stroke-width="0.7"/>
<g fill="#f3ea55" stroke="#fff" stroke-width="0.18"><circle cx="336.68" cy="260.08" r="1.0"/><circle cx="334.73" cy="258.85" r="1.0"/><circle cx="333.11" cy="262.71" r="1.0"/><circle cx="336.85" cy="261.33" r="1.0"/><circle cx="336.33" cy="255.71" r="1.0"/><circle cx="339.89" cy="257.54" r="1.0"/><circle cx="342.46" cy="246.93" r="1.0"/><circle cx="342.85" cy="247.3" r="1.0"/><circle cx="336.2" cy="262.89" r="1.0"/><circle cx="342.05" cy="250.1" r="1.0"/><circle cx="336.62" cy="262.32" r="1.0"/><circle cx="338.37" cy="256.33" r="1.0"/><circle cx="338.36" cy="250.09" r="1.0"/><circle cx="332.38" cy="267.27" r="1.0"/><circle cx="338.44" cy="256.6" r="1.0"/><circle cx="342.39" cy="248.76" r="1.0"/><circle cx="338.48" cy="256.95" r="1.0"/><circle cx="337.94" cy="254.65" r="1.0"/><circle cx="335.72" cy="256" r="1.0"/><circle cx="337.72" cy="259.28" r="1.0"/><circle cx="339.42" cy="255.41" r="1.0"/><circle cx="338.72" cy="256.79" r="1.0"/><circle cx="334.18" cy="262" r="1.0"/><circle cx="334.7" cy="260.62" r="1.0"/></g>
<g fill="#35b779" stroke="#fff" stroke-width="0.18"><circle cx="345.23" cy="239.82" r="1.0"/><circle cx="348.79" cy="236.95" r="1.0"/><circle cx="341.58" cy="245.55" r="1.0"/><circle cx="343.29" cy="248.98" r="1.0"/><circle cx="344.11" cy="239.15" r="1.0"/><circle cx="344.08" cy="239.25" r="1.0"/><circle cx="345.64" cy="242.45" r="1.0"/><circle cx="342.08" cy="244.98" r="1.0"/><circle cx="342.79" cy="246.92" r="1.0"/></g>
<g fill="#2e0c4c" stroke="#fff" stroke-width="0.18"><circle cx="355.78" cy="231.54" r="1.0"/><circle cx="356.43" cy="233.68" r="1.0"/><circle cx="352.59" cy="230.74" r="1.0"/><circle cx="354.05" cy="236.36" r="1.0"/><circle cx="354.73" cy="234.26" r="1.0"/><circle cx="353.18" cy="234.23" r="1.0"/><circle cx="355.37" cy="234.51" r="1.0"/><circle cx="355.1" cy="233.25" r="1.0"/><circle cx="351.29" cy="233.95" r="1.0"/><circle cx="354.05" cy="232.66" r="1.0"/><circle cx="353.4" cy="227.63" r="1.0"/><circle cx="356.29" cy="230.65" r="1.0"/><circle cx="360.06" cy="222.43" r="1.0"/><circle cx="353.04" cy="234.4" r="1.0"/><circle cx="356.49" cy="225.74" r="1.0"/><circle cx="351.95" cy="233.2" r="1.0"/><circle cx="351.84" cy="236.27" r="1.0"/><circle cx="355.47" cy="226.78" r="1.0"/><circle cx="348.14" cy="242.74" r="1.0"/><circle cx="352.56" cy="235.58" r="1.0"/><circle cx="348.08" cy="234.45" r="1.0"/><circle cx="353.44" cy="227.78" r="1.0"/><circle cx="353.44" cy="227.68" r="1.0"/><circle cx="354.96" cy="226.19" r="1.0"/><circle cx="346.57" cy="239.38" r="1.0"/><circle cx="353.97" cy="236.66" r="1.0"/><circle cx="348.42" cy="235.83" r="1.0"/><circle cx="347.67" cy="238.37" r="1.0"/><circle cx="348.5" cy="229.85" r="1.0"/><circle cx="353.48" cy="233.17" r="1.0"/><circle cx="362.09" cy="226.39" r="1.0"/><circle cx="362.43" cy="221.51" r="1.0"/><circle cx="342.85" cy="220.53" r="1.0"/><circle cx="361.08" cy="233.1" r="1.0"/></g>
<g fill="#2d6a96" stroke="#fff" stroke-width="0.18"><circle cx="349.1" cy="226.99" r="1.0"/><circle cx="353.08" cy="222.96" r="1.0"/><circle cx="351.86" cy="223.54" r="1.0"/><circle cx="352.87" cy="225.25" r="1.0"/><circle cx="352.41" cy="225.5" r="1.0"/><circle cx="349.43" cy="222.02" r="1.0"/><circle cx="350.82" cy="224.66" r="1.0"/><circle cx="353" cy="223.75" r="1.0"/><circle cx="352.89" cy="223.25" r="1.0"/><circle cx="354.59" cy="222.76" r="1.0"/><circle cx="352.59" cy="222.68" r="1.0"/><circle cx="349.4" cy="223.19" r="1.0"/><circle cx="355.23" cy="221.67" r="1.0"/><circle cx="350.42" cy="224.12" r="1.0"/><circle cx="349.55" cy="223" r="1.0"/><circle cx="358.15" cy="223.84" r="1.0"/><circle cx="347.73" cy="221.86" r="1.0"/><circle cx="354.51" cy="222.55" r="1.0"/><circle cx="350.56" cy="222.96" r="1.0"/><circle cx="351.62" cy="225.51" r="1.0"/><circle cx="349.06" cy="220.71" r="1.0"/><circle cx="355.15" cy="221.84" r="1.0"/><circle cx="355.18" cy="223.48" r="1.0"/><circle cx="349.09" cy="223.11" r="1.0"/><circle cx="348.92" cy="222.76" r="1.0"/><circle cx="352.36" cy="224.43" r="1.0"/><circle cx="351.01" cy="221.75" r="1.0"/><circle cx="346.11" cy="226.81" r="1.0"/><circle cx="358.4" cy="222.75" r="1.0"/><circle cx="350.99" cy="223.6" r="1.0"/><circle cx="356.31" cy="221.13" r="1.0"/><circle cx="355.81" cy="223.35" r="1.0"/><circle cx="349.75" cy="224.06" r="1.0"/><circle cx="350.54" cy="221.41" r="1.0"/><circle cx="351.28" cy="223.93" r="1.0"/><circle cx="356.8" cy="223.54" r="1.0"/><circle cx="354.79" cy="222.55" r="1.0"/><circle cx="353.54" cy="224.64" r="1.0"/><circle cx="354.39" cy="221.85" r="1.0"/><circle cx="352.99" cy="225" r="1.0"/><circle cx="352.58" cy="224.16" r="1.0"/><circle cx="351.33" cy="223.13" r="1.0"/><circle cx="353.7" cy="223.01" r="1.0"/><circle cx="353.89" cy="222.29" r="1.0"/><circle cx="353.36" cy="223.46" r="1.0"/><circle cx="357.37" cy="223.75" r="1.0"/><circle cx="353.08" cy="222.5" r="1.0"/><circle cx="349.21" cy="223.36" r="1.0"/><circle cx="355.75" cy="222.11" r="1.0"/><circle cx="355.05" cy="223.9" r="1.0"/><circle cx="351.92" cy="225.27" r="1.0"/><circle cx="349.97" cy="224.54" r="1.0"/><circle cx="354.9" cy="221.07" r="1.0"/><circle cx="351.11" cy="223.86" r="1.0"/><circle cx="354.03" cy="225.77" r="1.0"/><circle cx="350.92" cy="222.07" r="1.0"/><circle cx="355.33" cy="223.88" r="1.0"/><circle cx="350.47" cy="224.98" r="1.0"/><circle cx="352.64" cy="224.74" r="1.0"/><circle cx="351.84" cy="223.08" r="1.0"/><circle cx="350.69" cy="224.88" r="1.0"/><circle cx="355.09" cy="222.33" r="1.0"/></g>
<path d="M325.7 219.4V264.4H370.7M336.1 264.4v1.9M349.6 264.4v1.9M363.1 264.4v1.9M325.7 220.9h-2M325.7 233.1h-2M325.7 245.3h-2M325.7 257.5h-2" fill="none" stroke="#333" stroke-width="0.7"/>
<g fill="#f3ea55" stroke="#fff" stroke-width="0.18"><circle cx="383.69" cy="260.08" r="1.0"/><circle cx="384.04" cy="258.85" r="1.0"/><circle cx="383.18" cy="262.71" r="1.0"/><circle cx="383.21" cy="261.33" r="1.0"/><circle cx="383.79" cy="255.71" r="1.0"/><circle cx="386.03" cy="257.54" r="1.0"/><circle cx="391.72" cy="246.93" r="1.0"/><circle cx="391.22" cy="247.3" r="1.0"/><circle cx="385.11" cy="262.89" r="1.0"/><circle cx="391.11" cy="250.1" r="1.0"/><circle cx="384.22" cy="262.32" r="1.0"/><circle cx="384.89" cy="256.33" r="1.0"/><circle cx="386.75" cy="250.09" r="1.0"/><circle cx="381.51" cy="267.27" r="1.0"/><circle cx="384.98" cy="256.6" r="1.0"/><circle cx="387.35" cy="248.76" r="1.0"/><circle cx="385.62" cy="256.95" r="1.0"/><circle cx="383.89" cy="254.65" r="1.0"/><circle cx="384.4" cy="256" r="1.0"/><circle cx="385.42" cy="259.28" r="1.0"/><circle cx="385.82" cy="255.41" r="1.0"/><circle cx="385.77" cy="256.79" r="1.0"/><circle cx="381.57" cy="262" r="1.0"/><circle cx="382.75" cy="260.62" r="1.0"/></g>
<g fill="#35b779" stroke="#fff" stroke-width="0.18"><circle cx="394.44" cy="239.82" r="1.0"/><circle cx="393.27" cy="236.95" r="1.0"/><circle cx="390.4" cy="245.55" r="1.0"/><circle cx="391.45" cy="248.98" r="1.0"/><circle cx="393.64" cy="239.15" r="1.0"/><circle cx="392.72" cy="239.25" r="1.0"/><circle cx="391.47" cy="242.45" r="1.0"/><circle cx="390.57" cy="244.98" r="1.0"/><circle cx="391.21" cy="246.92" r="1.0"/></g>
<g fill="#2e0c4c" stroke="#fff" stroke-width="0.18"><circle cx="396.66" cy="231.54" r="1.0"/><circle cx="395.35" cy="233.68" r="1.0"/><circle cx="394.05" cy="230.74" r="1.0"/><circle cx="393.59" cy="236.36" r="1.0"/><circle cx="394.25" cy="234.26" r="1.0"/><circle cx="393.5" cy="234.23" r="1.0"/><circle cx="392.92" cy="234.51" r="1.0"/><circle cx="398.3" cy="233.25" r="1.0"/><circle cx="394" cy="233.95" r="1.0"/><circle cx="395.28" cy="232.66" r="1.0"/><circle cx="395.43" cy="227.63" r="1.0"/><circle cx="397.52" cy="230.65" r="1.0"/><circle cx="402.35" cy="222.43" r="1.0"/><circle cx="395.09" cy="234.4" r="1.0"/><circle cx="398.83" cy="225.74" r="1.0"/><circle cx="396.25" cy="233.2" r="1.0"/><circle cx="396.07" cy="236.27" r="1.0"/><circle cx="395.62" cy="226.78" r="1.0"/><circle cx="392.8" cy="242.74" r="1.0"/><circle cx="393.2" cy="235.58" r="1.0"/><circle cx="398.81" cy="234.45" r="1.0"/><circle cx="395.64" cy="227.78" r="1.0"/><circle cx="395.4" cy="227.68" r="1.0"/><circle cx="398.61" cy="226.19" r="1.0"/><circle cx="393" cy="239.38" r="1.0"/><circle cx="392.73" cy="236.66" r="1.0"/><circle cx="396.13" cy="235.83" r="1.0"/><circle cx="392.54" cy="238.37" r="1.0"/><circle cx="394.73" cy="229.85" r="1.0"/><circle cx="395.76" cy="233.17" r="1.0"/><circle cx="395.06" cy="226.39" r="1.0"/><circle cx="399.63" cy="221.51" r="1.0"/><circle cx="405.69" cy="220.53" r="1.0"/><circle cx="393.82" cy="233.1" r="1.0"/></g>
<g fill="#2d6a96" stroke="#fff" stroke-width="0.18"><circle cx="404.76" cy="226.99" r="1.0"/><circle cx="406.57" cy="222.96" r="1.0"/><circle cx="408.28" cy="223.54" r="1.0"/><circle cx="403.68" cy="225.25" r="1.0"/><circle cx="400.52" cy="225.5" r="1.0"/><circle cx="404.83" cy="222.02" r="1.0"/><circle cx="404.58" cy="224.66" r="1.0"/><circle cx="407.49" cy="223.75" r="1.0"/><circle cx="406.84" cy="223.25" r="1.0"/><circle cx="401.6" cy="222.76" r="1.0"/><circle cx="409.28" cy="222.68" r="1.0"/><circle cx="407.2" cy="223.19" r="1.0"/><circle cx="410.61" cy="221.67" r="1.0"/><circle cx="402.77" cy="224.12" r="1.0"/><circle cx="406.48" cy="223" r="1.0"/><circle cx="404.04" cy="223.84" r="1.0"/><circle cx="405.28" cy="221.86" r="1.0"/><circle cx="407.89" cy="222.55" r="1.0"/><circle cx="403.48" cy="222.96" r="1.0"/><circle cx="407.16" cy="225.51" r="1.0"/><circle cx="409.38" cy="220.71" r="1.0"/><circle cx="408.73" cy="221.84" r="1.0"/><circle cx="407.12" cy="223.48" r="1.0"/><circle cx="406.69" cy="223.11" r="1.0"/><circle cx="407.77" cy="222.76" r="1.0"/><circle cx="404.82" cy="224.43" r="1.0"/><circle cx="404.35" cy="221.75" r="1.0"/><circle cx="402.95" cy="226.81" r="1.0"/><circle cx="405.62" cy="222.75" r="1.0"/><circle cx="405.08" cy="223.6" r="1.0"/><circle cx="406.54" cy="221.13" r="1.0"/><circle cx="406.99" cy="223.35" r="1.0"/><circle cx="402.71" cy="224.06" r="1.0"/><circle cx="407.31" cy="221.41" r="1.0"/><circle cx="404.85" cy="223.93" r="1.0"/><circle cx="404.75" cy="223.54" r="1.0"/><circle cx="408.94" cy="222.55" r="1.0"/><circle cx="404.68" cy="224.64" r="1.0"/><circle cx="408.77" cy="221.85" r="1.0"/><circle cx="404.46" cy="225" r="1.0"/><circle cx="406.87" cy="224.16" r="1.0"/><circle cx="399.39" cy="223.13" r="1.0"/><circle cx="402.97" cy="223.01" r="1.0"/><circle cx="407.44" cy="222.29" r="1.0"/><circle cx="405" cy="223.46" r="1.0"/><circle cx="403.26" cy="223.75" r="1.0"/><circle cx="410.37" cy="222.5" r="1.0"/><circle cx="407.07" cy="223.36" r="1.0"/><circle cx="412.32" cy="222.11" r="1.0"/><circle cx="401.86" cy="223.9" r="1.0"/><circle cx="399.46" cy="225.27" r="1.0"/><circle cx="408.38" cy="224.54" r="1.0"/><circle cx="410.12" cy="221.07" r="1.0"/><circle cx="404.22" cy="223.86" r="1.0"/><circle cx="405.28" cy="225.77" r="1.0"/><circle cx="410.9" cy="222.07" r="1.0"/><circle cx="401.37" cy="223.88" r="1.0"/><circle cx="405.69" cy="224.98" r="1.0"/><circle cx="403.66" cy="224.74" r="1.0"/><circle cx="407.38" cy="223.08" r="1.0"/><circle cx="400.86" cy="224.88" r="1.0"/><circle cx="409.05" cy="222.33" r="1.0"/></g>
<path d="M374.9 219.4V264.4H419.9M382.2 264.4v1.9M398.8 264.4v1.9M415.4 264.4v1.9M374.9 220.9h-2M374.9 233.1h-2M374.9 245.3h-2M374.9 257.5h-2" fill="none" stroke="#333" stroke-width="0.7"/>
<g clip-path="url(#cp22)">
<defs><clipPath id="cp22"><rect x="424.5" y="217.4" width="45" height="47"/></clipPath></defs>
<path d="M428.26 264.4L428.26 264.35L428.78 264.33L429.29 264.3L429.8 264.26L430.31 264.2L430.82 264.13L431.33 264.04L431.85 263.93L432.36 263.8L432.87 263.65L433.38 263.47L433.89 263.28L434.4 263.06L434.91 262.84L435.43 262.61L435.94 262.38L436.45 262.17L436.96 261.98L437.47 261.82L437.98 261.7L438.49 261.62L439.01 261.6L439.52 261.63L440.03 261.7L440.54 261.82L441.05 261.98L441.56 262.18L442.08 262.39L442.59 262.62L443.1 262.84L443.61 263.07L444.12 263.28L444.63 263.48L445.14 263.65L445.66 263.81L446.17 263.94L446.68 264.04L447.19 264.13L447.7 264.2L448.21 264.26L448.73 264.3L449.24 264.33L449.75 264.35L449.75 264.4Z" fill="#fde725" fill-opacity="0.62" stroke="#fde725" stroke-opacity="0.45" stroke-width="0.4"/>
<path d="M444.12 264.4L444.12 264.35L444.63 264.31L445.14 264.25L445.66 264.16L446.17 264.05L446.68 263.9L447.19 263.74L447.7 263.56L448.21 263.39L448.73 263.24L449.24 263.14L449.75 263.1L450.26 263.13L450.77 263.22L451.28 263.35L451.79 263.52L452.31 263.7L452.82 263.87L453.33 264.02L453.84 264.14L454.35 264.23L454.86 264.3L455.37 264.34L455.37 264.4Z" fill="#35b779" fill-opacity="0.6" stroke="#35b779" stroke-opacity="0.45" stroke-width="0.4"/>
<path d="M456.91 264.4L456.91 264.34L457.42 264.28L457.93 264.18L458.44 264.01L458.96 263.77L459.47 263.45L459.98 263.05L460.49 262.61L461 262.18L461.51 261.78L462.02 261.24L462.54 259.62L463.05 254.59L463.56 243.76L464.07 229.68L464.58 221.8L465.09 227.28L465.61 241.56L466.12 254.45L466.63 261.27L467.14 263.64L467.65 264.23L468.16 264.35L468.16 264.4Z" fill="#2f699b" fill-opacity="0.6" stroke="#2f699b" stroke-opacity="0.45" stroke-width="0.4"/>
<path d="M445.66 264.4L445.66 264.35L446.17 264.33L446.68 264.29L447.19 264.24L447.7 264.17L448.21 264.08L448.73 263.96L449.24 263.81L449.75 263.62L450.26 263.4L450.77 263.13L451.28 262.82L451.79 262.47L452.31 262.09L452.82 261.7L453.33 261.3L453.84 260.92L454.35 260.56L454.86 260.24L455.37 259.98L455.89 259.77L456.4 259.6L456.91 259.47L457.42 259.33L457.93 259.18L458.44 259.03L458.96 258.88L459.47 258.8L459.98 258.85L460.49 259.1L461 259.55L461.51 260.18L462.02 260.92L462.54 261.69L463.05 262.39L463.56 262.99L464.07 263.45L464.58 263.78L465.09 264L465.61 264.15L466.12 264.24L466.63 264.3L467.14 264.34L467.65 264.36L467.65 264.4Z" fill="#4c1386" fill-opacity="0.7" stroke="#4c1386" stroke-opacity="0.45" stroke-width="0.4"/>
</g>
<path d="M424.5 219.4V264.4H469.5M430 264.4v1.9M439 264.4v1.9M448 264.4v1.9M457 264.4v1.9M466 264.4v1.9M424.5 220.9h-2M424.5 233.1h-2M424.5 245.3h-2M424.5 257.5h-2" fill="none" stroke="#333" stroke-width="0.7"/>
<g fill="#f3ea55" stroke="#fff" stroke-width="0.18"><circle cx="489.02" cy="260.08" r="1.0"/><circle cx="487.25" cy="258.85" r="1.0"/><circle cx="485.41" cy="262.71" r="1.0"/><circle cx="495.33" cy="261.33" r="1.0"/><circle cx="490.39" cy="255.71" r="1.0"/><circle cx="486.76" cy="257.54" r="1.0"/><circle cx="493.71" cy="246.93" r="1.0"/><circle cx="496.53" cy="247.3" r="1.0"/><circle cx="487.03" cy="262.89" r="1.0"/><circle cx="489.82" cy="250.1" r="1.0"/><circle cx="483.17" cy="262.32" r="1.0"/><circle cx="486.71" cy="256.33" r="1.0"/><circle cx="487.38" cy="250.09" r="1.0"/><circle cx="483.85" cy="267.27" r="1.0"/><circle cx="491.5" cy="256.6" r="1.0"/><circle cx="492.06" cy="248.76" r="1.0"/><circle cx="487.15" cy="256.95" r="1.0"/><circle cx="490.7" cy="254.65" r="1.0"/><circle cx="487.5" cy="256" r="1.0"/><circle cx="488.76" cy="259.28" r="1.0"/><circle cx="485.67" cy="255.41" r="1.0"/><circle cx="488.76" cy="256.79" r="1.0"/><circle cx="483.69" cy="262" r="1.0"/><circle cx="488.38" cy="260.62" r="1.0"/></g>
<g fill="#35b779" stroke="#fff" stroke-width="0.18"><circle cx="498.54" cy="239.82" r="1.0"/><circle cx="500.7" cy="236.95" r="1.0"/><circle cx="493.8" cy="245.55" r="1.0"/><circle cx="495.81" cy="248.98" r="1.0"/><circle cx="496.13" cy="239.15" r="1.0"/><circle cx="497.16" cy="239.25" r="1.0"/><circle cx="497.87" cy="242.45" r="1.0"/><circle cx="495" cy="244.98" r="1.0"/><circle cx="495.93" cy="246.92" r="1.0"/></g>
<g fill="#2e0c4c" stroke="#fff" stroke-width="0.18"><circle cx="505.1" cy="231.54" r="1.0"/><circle cx="500.24" cy="233.68" r="1.0"/><circle cx="504.81" cy="230.74" r="1.0"/><circle cx="498.71" cy="236.36" r="1.0"/><circle cx="503.35" cy="234.26" r="1.0"/><circle cx="499.27" cy="234.23" r="1.0"/><circle cx="507.83" cy="234.51" r="1.0"/><circle cx="506.62" cy="233.25" r="1.0"/><circle cx="504.68" cy="233.95" r="1.0"/><circle cx="502.41" cy="232.66" r="1.0"/><circle cx="499.74" cy="227.63" r="1.0"/><circle cx="503.85" cy="230.65" r="1.0"/><circle cx="506.33" cy="222.43" r="1.0"/><circle cx="502.96" cy="234.4" r="1.0"/><circle cx="505.3" cy="225.74" r="1.0"/><circle cx="499.95" cy="233.2" r="1.0"/><circle cx="507.99" cy="236.27" r="1.0"/><circle cx="505.77" cy="226.78" r="1.0"/><circle cx="504.03" cy="242.74" r="1.0"/><circle cx="501.59" cy="235.58" r="1.0"/><circle cx="503.49" cy="234.45" r="1.0"/><circle cx="506.77" cy="227.78" r="1.0"/><circle cx="501.42" cy="227.68" r="1.0"/><circle cx="505.39" cy="226.19" r="1.0"/><circle cx="503.79" cy="239.38" r="1.0"/><circle cx="506.15" cy="236.66" r="1.0"/><circle cx="500.56" cy="235.83" r="1.0"/><circle cx="503.56" cy="238.37" r="1.0"/><circle cx="500.35" cy="229.85" r="1.0"/><circle cx="503.8" cy="233.17" r="1.0"/><circle cx="510.18" cy="226.39" r="1.0"/><circle cx="511.59" cy="221.51" r="1.0"/><circle cx="496.78" cy="220.53" r="1.0"/><circle cx="505.95" cy="233.1" r="1.0"/></g>
<g fill="#2d6a96" stroke="#fff" stroke-width="0.18"><circle cx="497.94" cy="226.99" r="1.0"/><circle cx="501.36" cy="222.96" r="1.0"/><circle cx="499.9" cy="223.54" r="1.0"/><circle cx="499.23" cy="225.25" r="1.0"/><circle cx="500.94" cy="225.5" r="1.0"/><circle cx="500.75" cy="222.02" r="1.0"/><circle cx="501.73" cy="224.66" r="1.0"/><circle cx="502.03" cy="223.75" r="1.0"/><circle cx="502.45" cy="223.25" r="1.0"/><circle cx="499.94" cy="222.76" r="1.0"/><circle cx="502.03" cy="222.68" r="1.0"/><circle cx="499.99" cy="223.19" r="1.0"/><circle cx="505.84" cy="221.67" r="1.0"/><circle cx="500.54" cy="224.12" r="1.0"/><circle cx="499.32" cy="223" r="1.0"/><circle cx="504.51" cy="223.84" r="1.0"/><circle cx="497.01" cy="221.86" r="1.0"/><circle cx="504.73" cy="222.55" r="1.0"/><circle cx="502.65" cy="222.96" r="1.0"/><circle cx="499.84" cy="225.51" r="1.0"/><circle cx="501.39" cy="220.71" r="1.0"/><circle cx="503.42" cy="221.84" r="1.0"/><circle cx="503.09" cy="223.48" r="1.0"/><circle cx="499.39" cy="223.11" r="1.0"/><circle cx="501.45" cy="222.76" r="1.0"/><circle cx="498.35" cy="224.43" r="1.0"/><circle cx="500.43" cy="221.75" r="1.0"/><circle cx="500.07" cy="226.81" r="1.0"/><circle cx="505.99" cy="222.75" r="1.0"/><circle cx="501.87" cy="223.6" r="1.0"/><circle cx="505.38" cy="221.13" r="1.0"/><circle cx="503.77" cy="223.35" r="1.0"/><circle cx="498.33" cy="224.06" r="1.0"/><circle cx="500.03" cy="221.41" r="1.0"/><circle cx="499.79" cy="223.93" r="1.0"/><circle cx="505.76" cy="223.54" r="1.0"/><circle cx="505.08" cy="222.55" r="1.0"/><circle cx="504.3" cy="224.64" r="1.0"/><circle cx="501.5" cy="221.85" r="1.0"/><circle cx="499.7" cy="225" r="1.0"/><circle cx="502.24" cy="224.16" r="1.0"/><circle cx="503.12" cy="223.13" r="1.0"/><circle cx="501.7" cy="223.01" r="1.0"/><circle cx="501.92" cy="222.29" r="1.0"/><circle cx="500.18" cy="223.46" r="1.0"/><circle cx="505.09" cy="223.75" r="1.0"/><circle cx="500.22" cy="222.5" r="1.0"/><circle cx="498.01" cy="223.36" r="1.0"/><circle cx="504.48" cy="222.11" r="1.0"/><circle cx="503" cy="223.9" r="1.0"/><circle cx="497.38" cy="225.27" r="1.0"/><circle cx="498.31" cy="224.54" r="1.0"/><circle cx="504.71" cy="221.07" r="1.0"/><circle cx="496.66" cy="223.86" r="1.0"/><circle cx="502.64" cy="225.77" r="1.0"/><circle cx="499.93" cy="222.07" r="1.0"/><circle cx="498.86" cy="223.88" r="1.0"/><circle cx="501.4" cy="224.98" r="1.0"/><circle cx="499.69" cy="224.74" r="1.0"/><circle cx="503.57" cy="223.08" r="1.0"/><circle cx="499.83" cy="224.88" r="1.0"/><circle cx="502.76" cy="222.33" r="1.0"/></g>
<path d="M474.1 219.4V264.4H519.1M485.5 264.4v1.9M499.6 264.4v1.9M513.7 264.4v1.9M474.1 220.9h-2M474.1 233.1h-2M474.1 245.3h-2M474.1 257.5h-2" fill="none" stroke="#333" stroke-width="0.7"/>
<g fill="#f3ea55" stroke="#fff" stroke-width="0.18"><circle cx="336.68" cy="304.59" r="1.0"/><circle cx="334.73" cy="306.9" r="1.0"/><circle cx="333.11" cy="309.31" r="1.0"/><circle cx="336.85" cy="296.3" r="1.0"/><circle cx="336.33" cy="302.79" r="1.0"/><circle cx="339.89" cy="307.55" r="1.0"/><circle cx="342.46" cy="298.43" r="1.0"/><circle cx="342.85" cy="294.72" r="1.0"/><circle cx="336.2" cy="307.19" r="1.0"/><circle cx="342.05" cy="303.53" r="1.0"/><circle cx="336.62" cy="312.26" r="1.0"/><circle cx="338.37" cy="307.61" r="1.0"/><circle cx="338.36" cy="306.73" r="1.0"/><circle cx="332.38" cy="311.36" r="1.0"/><circle cx="338.44" cy="301.33" r="1.0"/><circle cx="342.39" cy="300.6" r="1.0"/><circle cx="338.48" cy="307.03" r="1.0"/><circle cx="337.94" cy="302.38" r="1.0"/><circle cx="335.72" cy="306.58" r="1.0"/><circle cx="337.72" cy="304.93" r="1.0"/><circle cx="339.42" cy="308.98" r="1.0"/><circle cx="338.72" cy="304.92" r="1.0"/><circle cx="334.18" cy="311.57" r="1.0"/><circle cx="334.7" cy="305.42" r="1.0"/></g>
<g fill="#35b779" stroke="#fff" stroke-width="0.18"><circle cx="345.23" cy="292.09" r="1.0"/><circle cx="348.79" cy="289.25" r="1.0"/><circle cx="341.58" cy="298.3" r="1.0"/><circle cx="343.29" cy="295.67" r="1.0"/><circle cx="344.11" cy="295.25" r="1.0"/><circle cx="344.08" cy="293.9" r="1.0"/><circle cx="345.64" cy="292.98" r="1.0"/><circle cx="342.08" cy="296.74" r="1.0"/><circle cx="342.79" cy="295.51" r="1.0"/></g>
<g fill="#2e0c4c" stroke="#fff" stroke-width="0.18"><circle cx="355.78" cy="283.49" r="1.0"/><circle cx="356.43" cy="289.86" r="1.0"/><circle cx="352.59" cy="283.86" r="1.0"/><circle cx="354.05" cy="291.87" r="1.0"/><circle cx="354.73" cy="285.77" r="1.0"/><circle cx="353.18" cy="291.13" r="1.0"/><circle cx="355.37" cy="279.9" r="1.0"/><circle cx="355.1" cy="281.49" r="1.0"/><circle cx="351.29" cy="284.03" r="1.0"/><circle cx="354.05" cy="287.02" r="1.0"/><circle cx="353.4" cy="290.51" r="1.0"/><circle cx="356.29" cy="285.13" r="1.0"/><circle cx="360.06" cy="281.87" r="1.0"/><circle cx="353.04" cy="286.29" r="1.0"/><circle cx="356.49" cy="283.22" r="1.0"/><circle cx="351.95" cy="290.24" r="1.0"/><circle cx="351.84" cy="279.69" r="1.0"/><circle cx="355.47" cy="282.61" r="1.0"/><circle cx="348.14" cy="284.88" r="1.0"/><circle cx="352.56" cy="288.08" r="1.0"/><circle cx="348.08" cy="285.6" r="1.0"/><circle cx="353.44" cy="281.29" r="1.0"/><circle cx="353.44" cy="288.31" r="1.0"/><circle cx="354.96" cy="283.1" r="1.0"/><circle cx="346.57" cy="285.2" r="1.0"/><circle cx="353.97" cy="282.11" r="1.0"/><circle cx="348.42" cy="289.44" r="1.0"/><circle cx="347.67" cy="285.5" r="1.0"/><circle cx="348.5" cy="289.72" r="1.0"/><circle cx="353.48" cy="285.2" r="1.0"/><circle cx="362.09" cy="276.82" r="1.0"/><circle cx="362.43" cy="274.97" r="1.0"/><circle cx="342.85" cy="294.4" r="1.0"/><circle cx="361.08" cy="282.38" r="1.0"/></g>
<g fill="#2d6a96" stroke="#fff" stroke-width="0.18"><circle cx="349.1" cy="292.88" r="1.0"/><circle cx="353.08" cy="288.4" r="1.0"/><circle cx="351.86" cy="290.31" r="1.0"/><circle cx="352.87" cy="291.18" r="1.0"/><circle cx="352.41" cy="288.94" r="1.0"/><circle cx="349.43" cy="289.19" r="1.0"/><circle cx="350.82" cy="287.9" r="1.0"/><circle cx="353" cy="287.52" r="1.0"/><circle cx="352.89" cy="286.96" r="1.0"/><circle cx="354.59" cy="290.25" r="1.0"/><circle cx="352.59" cy="287.51" r="1.0"/><circle cx="349.4" cy="290.19" r="1.0"/><circle cx="355.23" cy="282.51" r="1.0"/><circle cx="350.42" cy="289.47" r="1.0"/><circle cx="349.55" cy="291.06" r="1.0"/><circle cx="358.15" cy="284.26" r="1.0"/><circle cx="347.73" cy="294.1" r="1.0"/><circle cx="354.51" cy="283.97" r="1.0"/><circle cx="350.56" cy="286.7" r="1.0"/><circle cx="351.62" cy="290.38" r="1.0"/><circle cx="349.06" cy="288.36" r="1.0"/><circle cx="355.15" cy="285.69" r="1.0"/><circle cx="355.18" cy="286.12" r="1.0"/><circle cx="349.09" cy="290.97" r="1.0"/><circle cx="348.92" cy="288.27" r="1.0"/><circle cx="352.36" cy="292.33" r="1.0"/><circle cx="351.01" cy="289.61" r="1.0"/><circle cx="346.11" cy="290.09" r="1.0"/><circle cx="358.4" cy="282.32" r="1.0"/><circle cx="350.99" cy="287.73" r="1.0"/><circle cx="356.31" cy="283.12" r="1.0"/><circle cx="355.81" cy="285.23" r="1.0"/><circle cx="349.75" cy="292.37" r="1.0"/><circle cx="350.54" cy="290.14" r="1.0"/><circle cx="351.28" cy="290.45" r="1.0"/><circle cx="356.8" cy="282.62" r="1.0"/><circle cx="354.79" cy="283.51" r="1.0"/><circle cx="353.54" cy="284.53" r="1.0"/><circle cx="354.39" cy="288.2" r="1.0"/><circle cx="352.99" cy="290.57" r="1.0"/><circle cx="352.58" cy="287.23" r="1.0"/><circle cx="351.33" cy="286.09" r="1.0"/><circle cx="353.7" cy="287.95" r="1.0"/><circle cx="353.89" cy="287.66" r="1.0"/><circle cx="353.36" cy="289.94" r="1.0"/><circle cx="357.37" cy="283.5" r="1.0"/><circle cx="353.08" cy="289.88" r="1.0"/><circle cx="349.21" cy="292.79" r="1.0"/><circle cx="355.75" cy="284.3" r="1.0"/><circle cx="355.05" cy="286.24" r="1.0"/><circle cx="351.92" cy="293.61" r="1.0"/><circle cx="349.97" cy="292.39" r="1.0"/><circle cx="354.9" cy="283.99" r="1.0"/><circle cx="351.11" cy="294.56" r="1.0"/><circle cx="354.03" cy="286.72" r="1.0"/><circle cx="350.92" cy="290.27" r="1.0"/><circle cx="355.33" cy="291.67" r="1.0"/><circle cx="350.47" cy="288.34" r="1.0"/><circle cx="352.64" cy="290.58" r="1.0"/><circle cx="351.84" cy="285.5" r="1.0"/><circle cx="350.69" cy="290.4" r="1.0"/><circle cx="355.09" cy="286.55" r="1.0"/></g>
<path d="M325.7 270.2V315.2H370.7M336.1 315.2v1.9M349.6 315.2v1.9M363.1 315.2v1.9M325.7 272.2h-2M325.7 281.45h-2M325.7 290.7h-2M325.7 299.95h-2M325.7 309.2h-2" fill="none" stroke="#333" stroke-width="0.7"/>
<g fill="#f3ea55" stroke="#fff" stroke-width="0.18"><circle cx="383.69" cy="304.59" r="1.0"/><circle cx="384.04" cy="306.9" r="1.0"/><circle cx="383.18" cy="309.31" r="1.0"/><circle cx="383.21" cy="296.3" r="1.0"/><circle cx="383.79" cy="302.79" r="1.0"/><circle cx="386.03" cy="307.55" r="1.0"/><circle cx="391.72" cy="298.43" r="1.0"/><circle cx="391.22" cy="294.72" r="1.0"/><circle cx="385.11" cy="307.19" r="1.0"/><circle cx="391.11" cy="303.53" r="1.0"/><circle cx="384.22" cy="312.26" r="1.0"/><circle cx="384.89" cy="307.61" r="1.0"/><circle cx="386.75" cy="306.73" r="1.0"/><circle cx="381.51" cy="311.36" r="1.0"/><circle cx="384.98" cy="301.33" r="1.0"/><circle cx="387.35" cy="300.6" r="1.0"/><circle cx="385.62" cy="307.03" r="1.0"/><circle cx="383.89" cy="302.38" r="1.0"/><circle cx="384.4" cy="306.58" r="1.0"/><circle cx="385.42" cy="304.93" r="1.0"/><circle cx="385.82" cy="308.98" r="1.0"/><circle cx="385.77" cy="304.92" r="1.0"/><circle cx="381.57" cy="311.57" r="1.0"/><circle cx="382.75" cy="305.42" r="1.0"/></g>
<g fill="#35b779" stroke="#fff" stroke-width="0.18"><circle cx="394.44" cy="292.09" r="1.0"/><circle cx="393.27" cy="289.25" r="1.0"/><circle cx="390.4" cy="298.3" r="1.0"/><circle cx="391.45" cy="295.67" r="1.0"/><circle cx="393.64" cy="295.25" r="1.0"/><circle cx="392.72" cy="293.9" r="1.0"/><circle cx="391.47" cy="292.98" r="1.0"/><circle cx="390.57" cy="296.74" r="1.0"/><circle cx="391.21" cy="295.51" r="1.0"/></g>
<g fill="#2e0c4c" stroke="#fff" stroke-width="0.18"><circle cx="396.66" cy="283.49" r="1.0"/><circle cx="395.35" cy="289.86" r="1.0"/><circle cx="394.05" cy="283.86" r="1.0"/><circle cx="393.59" cy="291.87" r="1.0"/><circle cx="394.25" cy="285.77" r="1.0"/><circle cx="393.5" cy="291.13" r="1.0"/><circle cx="392.92" cy="279.9" r="1.0"/><circle cx="398.3" cy="281.49" r="1.0"/><circle cx="394" cy="284.03" r="1.0"/><circle cx="395.28" cy="287.02" r="1.0"/><circle cx="395.43" cy="290.51" r="1.0"/><circle cx="397.52" cy="285.13" r="1.0"/><circle cx="402.35" cy="281.87" r="1.0"/><circle cx="395.09" cy="286.29" r="1.0"/><circle cx="398.83" cy="283.22" r="1.0"/><circle cx="396.25" cy="290.24" r="1.0"/><circle cx="396.07" cy="279.69" r="1.0"/><circle cx="395.62" cy="282.61" r="1.0"/><circle cx="392.8" cy="284.88" r="1.0"/><circle cx="393.2" cy="288.08" r="1.0"/><circle cx="398.81" cy="285.6" r="1.0"/><circle cx="395.64" cy="281.29" r="1.0"/><circle cx="395.4" cy="288.31" r="1.0"/><circle cx="398.61" cy="283.1" r="1.0"/><circle cx="393" cy="285.2" r="1.0"/><circle cx="392.73" cy="282.11" r="1.0"/><circle cx="396.13" cy="289.44" r="1.0"/><circle cx="392.54" cy="285.5" r="1.0"/><circle cx="394.73" cy="289.72" r="1.0"/><circle cx="395.76" cy="285.2" r="1.0"/><circle cx="395.06" cy="276.82" r="1.0"/><circle cx="399.63" cy="274.97" r="1.0"/><circle cx="405.69" cy="294.4" r="1.0"/><circle cx="393.82" cy="282.38" r="1.0"/></g>
<g fill="#2d6a96" stroke="#fff" stroke-width="0.18"><circle cx="404.76" cy="292.88" r="1.0"/><circle cx="406.57" cy="288.4" r="1.0"/><circle cx="408.28" cy="290.31" r="1.0"/><circle cx="403.68" cy="291.18" r="1.0"/><circle cx="400.52" cy="288.94" r="1.0"/><circle cx="404.83" cy="289.19" r="1.0"/><circle cx="404.58" cy="287.9" r="1.0"/><circle cx="407.49" cy="287.52" r="1.0"/><circle cx="406.84" cy="286.96" r="1.0"/><circle cx="401.6" cy="290.25" r="1.0"/><circle cx="409.28" cy="287.51" r="1.0"/><circle cx="407.2" cy="290.19" r="1.0"/><circle cx="410.61" cy="282.51" r="1.0"/><circle cx="402.77" cy="289.47" r="1.0"/><circle cx="406.48" cy="291.06" r="1.0"/><circle cx="404.04" cy="284.26" r="1.0"/><circle cx="405.28" cy="294.1" r="1.0"/><circle cx="407.89" cy="283.97" r="1.0"/><circle cx="403.48" cy="286.7" r="1.0"/><circle cx="407.16" cy="290.38" r="1.0"/><circle cx="409.38" cy="288.36" r="1.0"/><circle cx="408.73" cy="285.69" r="1.0"/><circle cx="407.12" cy="286.12" r="1.0"/><circle cx="406.69" cy="290.97" r="1.0"/><circle cx="407.77" cy="288.27" r="1.0"/><circle cx="404.82" cy="292.33" r="1.0"/><circle cx="404.35" cy="289.61" r="1.0"/><circle cx="402.95" cy="290.09" r="1.0"/><circle cx="405.62" cy="282.32" r="1.0"/><circle cx="405.08" cy="287.73" r="1.0"/><circle cx="406.54" cy="283.12" r="1.0"/><circle cx="406.99" cy="285.23" r="1.0"/><circle cx="402.71" cy="292.37" r="1.0"/><circle cx="407.31" cy="290.14" r="1.0"/><circle cx="404.85" cy="290.45" r="1.0"/><circle cx="404.75" cy="282.62" r="1.0"/><circle cx="408.94" cy="283.51" r="1.0"/><circle cx="404.68" cy="284.53" r="1.0"/><circle cx="408.77" cy="288.2" r="1.0"/><circle cx="404.46" cy="290.57" r="1.0"/><circle cx="406.87" cy="287.23" r="1.0"/><circle cx="399.39" cy="286.09" r="1.0"/><circle cx="402.97" cy="287.95" r="1.0"/><circle cx="407.44" cy="287.66" r="1.0"/><circle cx="405" cy="289.94" r="1.0"/><circle cx="403.26" cy="283.5" r="1.0"/><circle cx="410.37" cy="289.88" r="1.0"/><circle cx="407.07" cy="292.79" r="1.0"/><circle cx="412.32" cy="284.3" r="1.0"/><circle cx="401.86" cy="286.24" r="1.0"/><circle cx="399.46" cy="293.61" r="1.0"/><circle cx="408.38" cy="292.39" r="1.0"/><circle cx="410.12" cy="283.99" r="1.0"/><circle cx="404.22" cy="294.56" r="1.0"/><circle cx="405.28" cy="286.72" r="1.0"/><circle cx="410.9" cy="290.27" r="1.0"/><circle cx="401.37" cy="291.67" r="1.0"/><circle cx="405.69" cy="288.34" r="1.0"/><circle cx="403.66" cy="290.58" r="1.0"/><circle cx="407.38" cy="285.5" r="1.0"/><circle cx="400.86" cy="290.4" r="1.0"/><circle cx="409.05" cy="286.55" r="1.0"/></g>
<path d="M374.9 270.2V315.2H419.9M382.2 315.2v1.9M398.8 315.2v1.9M415.4 315.2v1.9M374.9 272.2h-2M374.9 281.45h-2M374.9 290.7h-2M374.9 299.95h-2M374.9 309.2h-2" fill="none" stroke="#333" stroke-width="0.7"/>
<g fill="#f3ea55" stroke="#fff" stroke-width="0.18"><circle cx="437.1" cy="304.59" r="1.0"/><circle cx="438" cy="306.9" r="1.0"/><circle cx="435.15" cy="309.31" r="1.0"/><circle cx="436.17" cy="296.3" r="1.0"/><circle cx="440.32" cy="302.79" r="1.0"/><circle cx="438.97" cy="307.55" r="1.0"/><circle cx="446.79" cy="298.43" r="1.0"/><circle cx="446.53" cy="294.72" r="1.0"/><circle cx="435.03" cy="307.19" r="1.0"/><circle cx="444.46" cy="303.53" r="1.0"/><circle cx="435.45" cy="312.26" r="1.0"/><circle cx="439.87" cy="307.61" r="1.0"/><circle cx="444.47" cy="306.73" r="1.0"/><circle cx="431.79" cy="311.36" r="1.0"/><circle cx="439.66" cy="301.33" r="1.0"/><circle cx="445.45" cy="300.6" r="1.0"/><circle cx="439.41" cy="307.03" r="1.0"/><circle cx="441.1" cy="302.38" r="1.0"/><circle cx="440.11" cy="306.58" r="1.0"/><circle cx="437.68" cy="304.93" r="1.0"/><circle cx="440.54" cy="308.98" r="1.0"/><circle cx="439.52" cy="304.92" r="1.0"/><circle cx="435.68" cy="311.57" r="1.0"/><circle cx="436.7" cy="305.42" r="1.0"/></g>
<g fill="#35b779" stroke="#fff" stroke-width="0.18"><circle cx="452.04" cy="292.09" r="1.0"/><circle cx="454.16" cy="289.25" r="1.0"/><circle cx="447.81" cy="298.3" r="1.0"/><circle cx="445.29" cy="295.67" r="1.0"/><circle cx="452.53" cy="295.25" r="1.0"/><circle cx="452.46" cy="293.9" r="1.0"/><circle cx="450.11" cy="292.98" r="1.0"/><circle cx="448.23" cy="296.74" r="1.0"/><circle cx="446.81" cy="295.51" r="1.0"/></g>
<g fill="#2e0c4c" stroke="#fff" stroke-width="0.18"><circle cx="458.15" cy="283.49" r="1.0"/><circle cx="456.57" cy="289.86" r="1.0"/><circle cx="458.74" cy="283.86" r="1.0"/><circle cx="454.6" cy="291.87" r="1.0"/><circle cx="456.14" cy="285.77" r="1.0"/><circle cx="456.17" cy="291.13" r="1.0"/><circle cx="455.96" cy="279.9" r="1.0"/><circle cx="456.89" cy="281.49" r="1.0"/><circle cx="456.37" cy="284.03" r="1.0"/><circle cx="457.33" cy="287.02" r="1.0"/><circle cx="461.03" cy="290.51" r="1.0"/><circle cx="458.81" cy="285.13" r="1.0"/><circle cx="464.87" cy="281.87" r="1.0"/><circle cx="456.04" cy="286.29" r="1.0"/><circle cx="462.43" cy="283.22" r="1.0"/><circle cx="456.93" cy="290.24" r="1.0"/><circle cx="454.66" cy="279.69" r="1.0"/><circle cx="461.66" cy="282.61" r="1.0"/><circle cx="449.89" cy="284.88" r="1.0"/><circle cx="455.17" cy="288.08" r="1.0"/><circle cx="456" cy="285.6" r="1.0"/><circle cx="460.92" cy="281.29" r="1.0"/><circle cx="461" cy="288.31" r="1.0"/><circle cx="462.1" cy="283.1" r="1.0"/><circle cx="452.37" cy="285.2" r="1.0"/><circle cx="454.37" cy="282.11" r="1.0"/><circle cx="454.99" cy="289.44" r="1.0"/><circle cx="453.11" cy="285.5" r="1.0"/><circle cx="459.4" cy="289.72" r="1.0"/><circle cx="456.95" cy="285.2" r="1.0"/><circle cx="461.95" cy="276.82" r="1.0"/><circle cx="465.55" cy="274.97" r="1.0"/><circle cx="466.27" cy="294.4" r="1.0"/><circle cx="457" cy="282.38" r="1.0"/></g>
<g fill="#2d6a96" stroke="#fff" stroke-width="0.18"><circle cx="461.51" cy="292.88" r="1.0"/><circle cx="464.48" cy="288.4" r="1.0"/><circle cx="464.05" cy="290.31" r="1.0"/><circle cx="462.79" cy="291.18" r="1.0"/><circle cx="462.61" cy="288.94" r="1.0"/><circle cx="465.17" cy="289.19" r="1.0"/><circle cx="463.22" cy="287.9" r="1.0"/><circle cx="463.9" cy="287.52" r="1.0"/><circle cx="464.27" cy="286.96" r="1.0"/><circle cx="464.63" cy="290.25" r="1.0"/><circle cx="464.69" cy="287.51" r="1.0"/><circle cx="464.31" cy="290.19" r="1.0"/><circle cx="465.44" cy="282.51" r="1.0"/><circle cx="463.62" cy="289.47" r="1.0"/><circle cx="464.45" cy="291.06" r="1.0"/><circle cx="463.83" cy="284.26" r="1.0"/><circle cx="465.29" cy="294.1" r="1.0"/><circle cx="464.78" cy="283.97" r="1.0"/><circle cx="464.48" cy="286.7" r="1.0"/><circle cx="462.6" cy="290.38" r="1.0"/><circle cx="466.14" cy="288.36" r="1.0"/><circle cx="465.31" cy="285.69" r="1.0"/><circle cx="464.1" cy="286.12" r="1.0"/><circle cx="464.37" cy="290.97" r="1.0"/><circle cx="464.63" cy="288.27" r="1.0"/><circle cx="463.4" cy="292.33" r="1.0"/><circle cx="465.37" cy="289.61" r="1.0"/><circle cx="461.64" cy="290.09" r="1.0"/><circle cx="464.63" cy="282.32" r="1.0"/><circle cx="464.01" cy="287.73" r="1.0"/><circle cx="465.83" cy="283.12" r="1.0"/><circle cx="464.19" cy="285.23" r="1.0"/><circle cx="463.67" cy="292.37" r="1.0"/><circle cx="465.62" cy="290.14" r="1.0"/><circle cx="463.76" cy="290.45" r="1.0"/><circle cx="464.05" cy="282.62" r="1.0"/><circle cx="464.78" cy="283.51" r="1.0"/><circle cx="463.24" cy="284.53" r="1.0"/><circle cx="465.3" cy="288.2" r="1.0"/><circle cx="462.97" cy="290.57" r="1.0"/><circle cx="463.59" cy="287.23" r="1.0"/><circle cx="464.36" cy="286.09" r="1.0"/><circle cx="464.45" cy="287.95" r="1.0"/><circle cx="464.98" cy="287.66" r="1.0"/><circle cx="464.11" cy="289.94" r="1.0"/><circle cx="463.9" cy="283.5" r="1.0"/><circle cx="464.82" cy="289.88" r="1.0"/><circle cx="464.19" cy="292.79" r="1.0"/><circle cx="465.11" cy="284.3" r="1.0"/><circle cx="463.79" cy="286.24" r="1.0"/><circle cx="462.78" cy="293.61" r="1.0"/><circle cx="463.31" cy="292.39" r="1.0"/><circle cx="465.88" cy="283.99" r="1.0"/><circle cx="463.82" cy="294.56" r="1.0"/><circle cx="462.41" cy="286.72" r="1.0"/><circle cx="465.13" cy="290.27" r="1.0"/><circle cx="463.8" cy="291.67" r="1.0"/><circle cx="462.99" cy="288.34" r="1.0"/><circle cx="463.17" cy="290.58" r="1.0"/><circle cx="464.39" cy="285.5" r="1.0"/><circle cx="463.06" cy="290.4" r="1.0"/><circle cx="464.95" cy="286.55" r="1.0"/></g>
<path d="M424.5 270.2V315.2H469.5M430 315.2v1.9M439 315.2v1.9M448 315.2v1.9M457 315.2v1.9M466 315.2v1.9M424.5 272.2h-2M424.5 281.45h-2M424.5 290.7h-2M424.5 299.95h-2M424.5 309.2h-2" fill="none" stroke="#333" stroke-width="0.7"/>
<g clip-path="url(#cp33)">
<defs><clipPath id="cp33"><rect x="474.1" y="268.2" width="45" height="47"/></clipPath></defs>
<path d="M477.89 315.2L477.89 315.16L478.29 315.12L478.69 315.07L479.09 314.98L479.49 314.84L479.9 314.64L480.3 314.35L480.7 313.95L481.1 313.42L481.5 312.73L481.9 311.87L482.3 310.85L482.7 309.69L483.1 308.41L483.5 307.08L483.9 305.78L484.3 304.59L484.7 303.6L485.1 302.88L485.51 302.51L485.91 302.5L486.31 302.87L486.71 303.57L487.11 304.56L487.51 305.74L487.91 307.04L488.31 308.37L488.71 309.65L489.11 310.82L489.51 311.84L489.91 312.7L490.31 313.4L490.71 313.94L491.11 314.34L491.52 314.63L491.92 314.84L492.32 314.97L492.72 315.06L493.12 315.12L493.52 315.15L493.52 315.2Z" fill="#fde725" fill-opacity="0.62" stroke="#fde725" stroke-opacity="0.45" stroke-width="0.4"/>
<path d="M491.11 315.2L491.11 315.15L491.52 315.09L491.92 314.96L492.32 314.72L492.72 314.33L493.12 313.73L493.52 312.91L493.92 311.92L494.32 310.86L494.72 309.9L495.12 309.23L495.52 309L495.92 309.26L496.32 309.95L496.72 310.92L497.12 311.98L497.53 312.97L497.93 313.77L498.33 314.36L498.73 314.74L499.13 314.97L499.53 315.09L499.93 315.15L499.93 315.2Z" fill="#35b779" fill-opacity="0.6" stroke="#35b779" stroke-opacity="0.45" stroke-width="0.4"/>
<path d="M492.32 315.2L492.32 315.14L492.72 315.1L493.12 315.03L493.52 314.92L493.92 314.75L494.32 314.48L494.72 314.09L495.12 313.52L495.52 312.72L495.92 311.63L496.32 310.19L496.72 308.34L497.12 306.03L497.53 303.26L497.93 300.03L498.33 296.41L498.73 292.48L499.13 288.42L499.53 284.4L499.93 280.66L500.33 277.41L500.73 274.88L501.13 273.24L501.53 272.6L501.93 273.02L502.33 274.46L502.73 276.82L503.14 279.94L503.54 283.6L503.94 287.57L504.34 291.65L504.74 295.61L505.14 299.31L505.54 302.63L505.94 305.5L506.34 307.9L506.74 309.84L507.14 311.36L507.54 312.52L507.94 313.37L508.34 313.99L508.74 314.41L509.15 314.7L509.55 314.89L509.95 315.02L510.35 315.09L510.75 315.14L510.75 315.2Z" fill="#2f699b" fill-opacity="0.6" stroke="#2f699b" stroke-opacity="0.45" stroke-width="0.4"/>
<path d="M488.31 315.2L488.31 315.15L488.71 315.13L489.11 315.11L489.51 315.08L489.91 315.04L490.31 314.99L490.71 314.92L491.11 314.84L491.52 314.74L491.92 314.62L492.32 314.47L492.72 314.29L493.12 314.07L493.52 313.81L493.92 313.51L494.32 313.17L494.72 312.78L495.12 312.33L495.52 311.84L495.92 311.3L496.32 310.7L496.72 310.07L497.12 309.4L497.53 308.7L497.93 307.98L498.33 307.25L498.73 306.52L499.13 305.82L499.53 305.14L499.93 304.52L500.33 303.96L500.73 303.47L501.13 303.07L501.53 302.77L501.93 302.58L502.33 302.5L502.73 302.53L503.14 302.68L503.54 302.93L503.94 303.29L504.34 303.74L504.74 304.27L505.14 304.87L505.54 305.52L505.94 306.21L506.34 306.93L506.74 307.66L507.14 308.39L507.54 309.1L507.94 309.78L508.34 310.44L508.74 311.05L509.15 311.61L509.55 312.13L509.95 312.59L510.35 313.01L510.75 313.37L511.15 313.69L511.55 313.96L511.95 314.2L512.35 314.39L512.75 314.56L513.15 314.69L513.55 314.8L513.95 314.89L514.35 314.96L514.75 315.02L515.16 315.06L515.56 315.1L515.96 315.12L516.36 315.14L516.76 315.16L516.76 315.2Z" fill="#4c1386" fill-opacity="0.7" stroke="#4c1386" stroke-opacity="0.45" stroke-width="0.4"/>
</g>
<path d="M474.1 270.2V315.2H519.1M485.5 315.2v1.9M499.6 315.2v1.9M513.7 315.2v1.9M474.1 272.2h-2M474.1 281.45h-2M474.1 290.7h-2M474.1 299.95h-2M474.1 309.2h-2" fill="none" stroke="#333" stroke-width="0.7"/>
<text x="334.5" y="325.4" font-size="7.4" fill="#1a1a1a" text-anchor="middle">−2</text>
<text x="349.6" y="325.4" font-size="7.4" fill="#1a1a1a" text-anchor="middle">0</text>
<text x="363.1" y="325.4" font-size="7.4" fill="#1a1a1a" text-anchor="middle">2</text>
<text x="347.6" y="334.7" font-size="7.4" fill="#1a1a1a" text-anchor="middle">DNMT3A</text>
<text x="347.6" y="343.5" font-size="7.4" fill="#1a1a1a" text-anchor="middle">R882C</text>
<text x="380.6" y="325.4" font-size="7.4" fill="#1a1a1a" text-anchor="middle">−2</text>
<text x="398.8" y="325.4" font-size="7.4" fill="#1a1a1a" text-anchor="middle">0</text>
<text x="415.4" y="325.4" font-size="7.4" fill="#1a1a1a" text-anchor="middle">2</text>
<text x="396.8" y="334.7" font-size="7.4" fill="#1a1a1a" text-anchor="middle">TET2</text>
<text x="396.8" y="343.5" font-size="7.4" fill="#1a1a1a" text-anchor="middle">L1081*</text>
<text x="428.4" y="325.4" font-size="7.4" fill="#1a1a1a" text-anchor="middle">−3</text>
<text x="437.4" y="325.4" font-size="7.4" fill="#1a1a1a" text-anchor="middle">−2</text>
<text x="446.4" y="325.4" font-size="7.4" fill="#1a1a1a" text-anchor="middle">−1</text>
<text x="457" y="325.4" font-size="7.4" fill="#1a1a1a" text-anchor="middle">0</text>
<text x="466" y="325.4" font-size="7.4" fill="#1a1a1a" text-anchor="middle">1</text>
<text x="446.4" y="334.7" font-size="7.4" fill="#1a1a1a" text-anchor="middle">JAK2</text>
<text x="446.4" y="343.5" font-size="7.4" fill="#1a1a1a" text-anchor="middle">V617F</text>
<text x="483.9" y="325.4" font-size="7.4" fill="#1a1a1a" text-anchor="middle">−2</text>
<text x="499.6" y="325.4" font-size="7.4" fill="#1a1a1a" text-anchor="middle">0</text>
<text x="513.7" y="325.4" font-size="7.4" fill="#1a1a1a" text-anchor="middle">2</text>
<text x="496" y="334.7" font-size="7.4" fill="#1a1a1a" text-anchor="middle">GNAS</text>
<text x="496" y="343.5" font-size="7.4" fill="#1a1a1a" text-anchor="middle">R844H</text>
<text x="321.8" y="120.3" font-size="7.4" fill="#1a1a1a" text-anchor="end">2</text>
<text x="321.8" y="129.95" font-size="7.4" fill="#1a1a1a" text-anchor="end">1</text>
<text x="321.8" y="139.6" font-size="7.4" fill="#1a1a1a" text-anchor="end">0</text>
<text x="321.8" y="149.25" font-size="7.4" fill="#1a1a1a" text-anchor="end">−1</text>
<text x="321.8" y="158.9" font-size="7.4" fill="#1a1a1a" text-anchor="end">−2</text>
<text x="308.3" y="139.5" font-size="6.3" fill="#1a1a1a" text-anchor="middle" transform="rotate(-90 308.3 139.5)">DNMT3A R882C</text>
<text x="321.8" y="180.75" font-size="7.4" fill="#1a1a1a" text-anchor="end">1</text>
<text x="321.8" y="191.6" font-size="7.4" fill="#1a1a1a" text-anchor="end">0</text>
<text x="321.8" y="202.45" font-size="7.4" fill="#1a1a1a" text-anchor="end">−1</text>
<text x="321.8" y="213.3" font-size="7.4" fill="#1a1a1a" text-anchor="end">−2</text>
<text x="308.3" y="190.6" font-size="6.3" fill="#1a1a1a" text-anchor="middle" transform="rotate(-90 308.3 190.6)">TET2 L1081*</text>
<text x="321.8" y="223.5" font-size="7.4" fill="#1a1a1a" text-anchor="end">1</text>
<text x="321.8" y="235.7" font-size="7.4" fill="#1a1a1a" text-anchor="end">0</text>
<text x="321.8" y="247.9" font-size="7.4" fill="#1a1a1a" text-anchor="end">−1</text>
<text x="321.8" y="260.1" font-size="7.4" fill="#1a1a1a" text-anchor="end">−2</text>
<text x="308.3" y="241.9" font-size="6.3" fill="#1a1a1a" text-anchor="middle" transform="rotate(-90 308.3 241.9)">JAK2 V617F</text>
<text x="321.8" y="274.8" font-size="7.4" fill="#1a1a1a" text-anchor="end">2</text>
<text x="321.8" y="284.05" font-size="7.4" fill="#1a1a1a" text-anchor="end">1</text>
<text x="321.8" y="293.3" font-size="7.4" fill="#1a1a1a" text-anchor="end">0</text>
<text x="321.8" y="302.55" font-size="7.4" fill="#1a1a1a" text-anchor="end">−1</text>
<text x="321.8" y="311.8" font-size="7.4" fill="#1a1a1a" text-anchor="end">−2</text>
<text x="308.3" y="292.7" font-size="6.3" fill="#1a1a1a" text-anchor="middle" transform="rotate(-90 308.3 292.7)">GNAS R844H</text>
<text x="297.3" y="214.5" font-size="7.4" fill="#1a1a1a" text-anchor="middle" transform="rotate(-90 297.3 214.5)">VAF <tspan font-style="italic">z</tspan>-score</text>
<text x="426.6" y="356.5" font-size="7.3" fill="#1a1a1a" text-anchor="middle">VAF <tspan font-style="italic">z</tspan>-score</text>
<text x="284" y="107.8" font-size="10.2" fill="#000" font-weight="bold">C</text>
</svg>
</body></html>
